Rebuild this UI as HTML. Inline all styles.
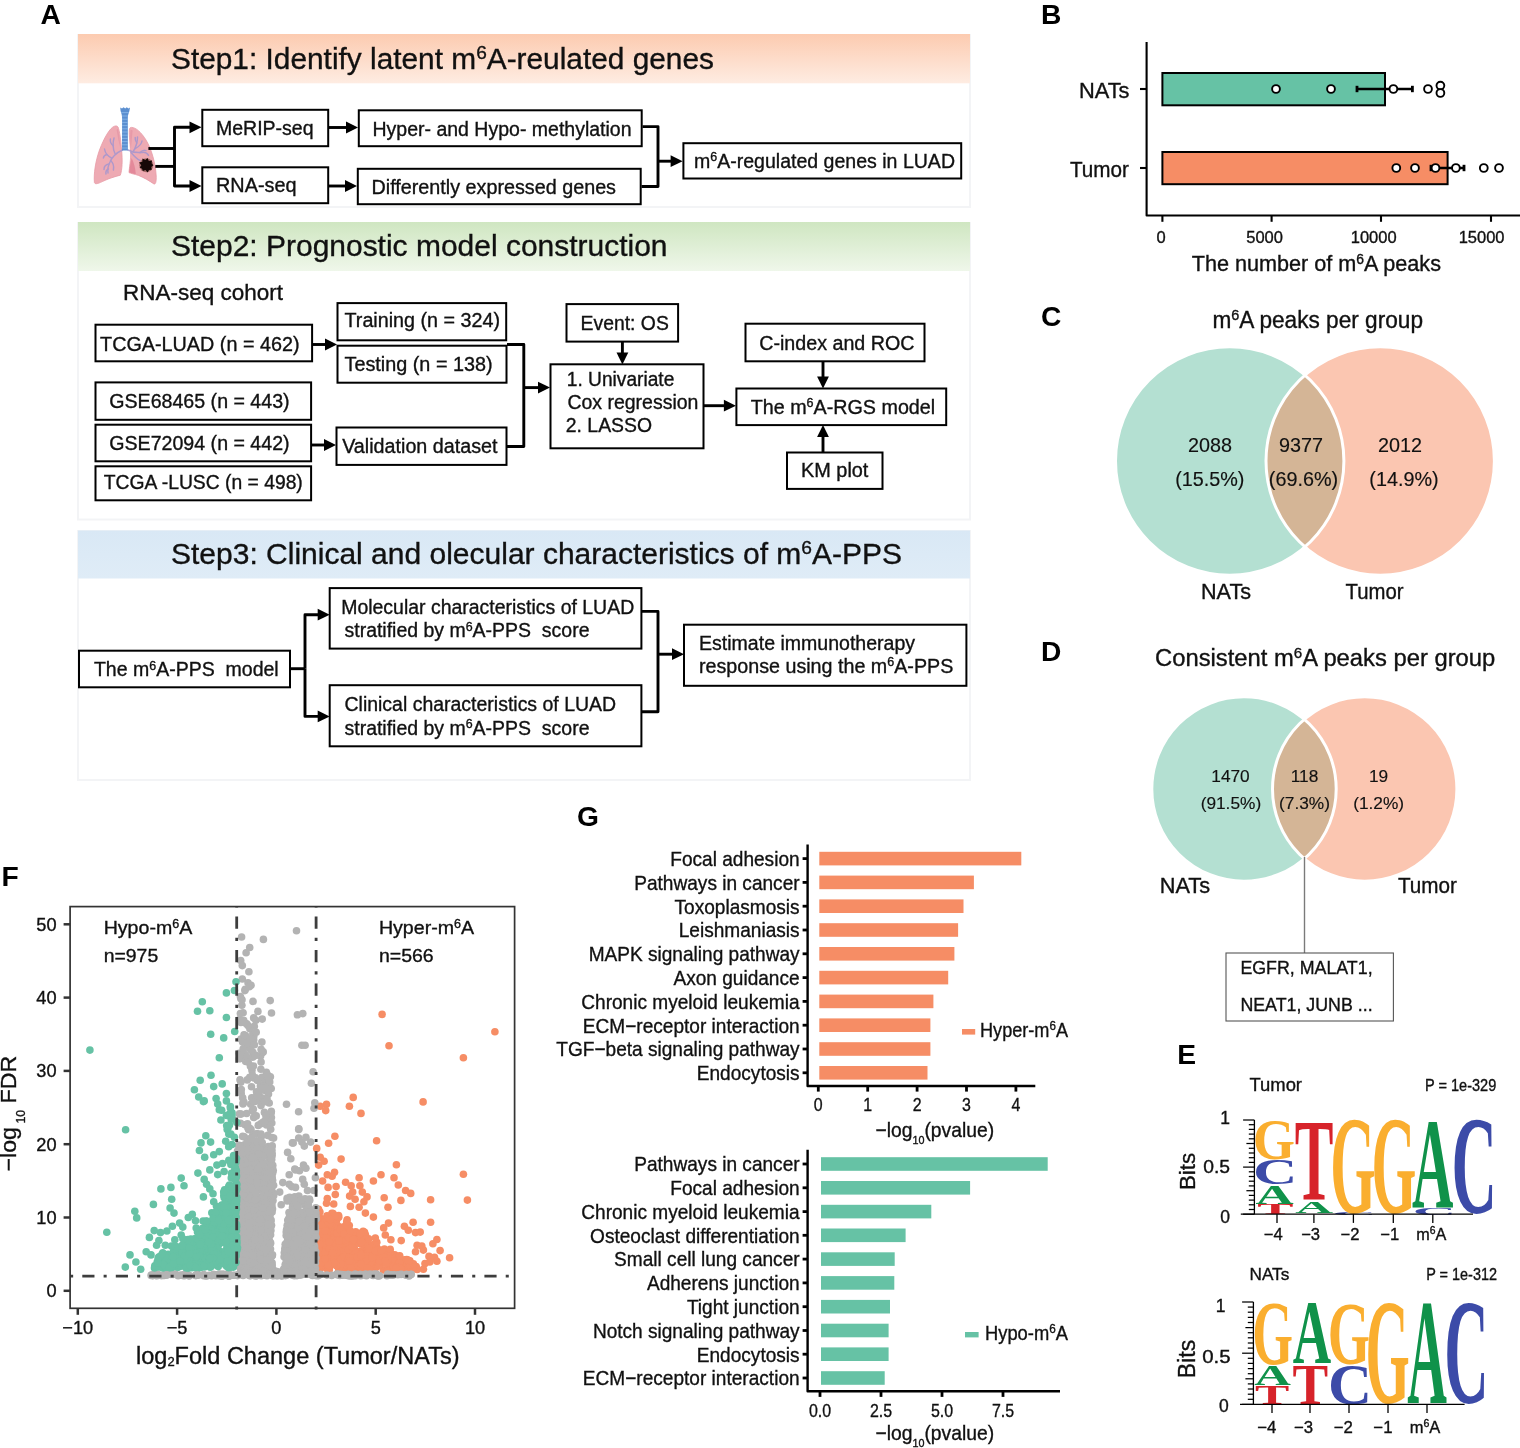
<!DOCTYPE html>
<html lang="en">
<head>
<meta charset="utf-8">
<title>m6A workflow figure</title>
<style>
html,body{margin:0;padding:0;background:#fff;}
body{width:1520px;height:1448px;overflow:hidden;}
svg{display:block;font-family:'Liberation Sans', Arial, Helvetica, sans-serif;}
</style>
</head>
<body>
<svg width="1520" height="1448" viewBox="0 0 1520 1448" fill="#111">
<defs>
<linearGradient id="g1" x1="0" y1="0" x2="0" y2="1"><stop offset="0" stop-color="#fccbb0"/><stop offset="1" stop-color="#feece2"/></linearGradient>
<linearGradient id="g2" x1="0" y1="0" x2="0" y2="1"><stop offset="0" stop-color="#cfe6c1"/><stop offset="1" stop-color="#eff7ea"/></linearGradient>
<linearGradient id="g3" x1="0" y1="0" x2="0" y2="1"><stop offset="0" stop-color="#d9e8f5"/><stop offset="1" stop-color="#dfecf7"/></linearGradient>
</defs>
<text x="40.5" y="24.3" font-size="28.2" font-weight="bold" fill="#000">A</text>
<rect x="78" y="35" width="892" height="172" fill="#fff" stroke="#f3f4f6" stroke-width="2"/>
<rect x="78" y="34" width="892" height="49.3" fill="url(#g1)"/>
<text x="171" y="69" font-size="30" stroke="#111" stroke-width="0.35" textLength="543" lengthAdjust="spacingAndGlyphs">Step1: Identify latent m<tspan font-size="19.2" dy="-10.2">6</tspan><tspan dy="10.2">A-reulated genes</tspan></text>
<rect x="78" y="223" width="892" height="296.5" fill="#fff" stroke="#f3f4f6" stroke-width="2"/>
<rect x="78" y="222" width="892" height="49" fill="url(#g2)"/>
<text x="171" y="256" font-size="30" stroke="#111" stroke-width="0.35" textLength="496.5" lengthAdjust="spacingAndGlyphs">Step2: Prognostic model construction</text>
<rect x="78" y="531" width="892" height="249" fill="#fff" stroke="#f3f4f6" stroke-width="2"/>
<rect x="78" y="530.5" width="892" height="48" fill="url(#g3)"/>
<text x="171" y="564.4" font-size="30" stroke="#111" stroke-width="0.35" textLength="731" lengthAdjust="spacingAndGlyphs">Step3: Clinical and olecular characteristics of m<tspan font-size="19.2" dy="-10.2">6</tspan><tspan dy="10.2">A-PPS</tspan></text>
<g id="lung">
<path d="M114.5 126.2 C110 127.5 104 138 99.5 150 C95.5 161 93.6 174 94.4 182.5 C95.2 185 99 183.2 104 180.8 C110 178 116.5 176.2 120.3 175.2 C122.3 170 122.6 160 121.6 150 C120.8 140 119.6 130.5 118 127 C117 125.6 115.6 125.8 114.5 126.2 Z" fill="#eeaab3" stroke="#e79aa6" stroke-width="0.8"/>
<path d="M131.6 127.4 C136 127.6 141 132 146 140 C151.5 149 155.5 163 156.2 176 C156.4 181 155.8 184.6 154 184 C150 181.2 144 177.6 138.5 175.4 C134.5 174.2 130.6 173.4 129 172.6 C129.2 168 131 160 130.6 152 C130 142 128.6 132 129.6 128.6 C130 127.6 130.8 127.3 131.6 127.4 Z" fill="#eeaab3" stroke="#e79aa6" stroke-width="0.8"/>
<path d="M131.5 158 C133.8 162 135.4 168 135.8 174 C133 173.6 130.4 172.8 129.2 172.2 C129.6 168 130.6 162.5 131.5 158 Z" fill="#e3899a"/>
<path d="M117.5 128.5 C119.2 133 120 141 120.4 148 C118.6 142 117.6 135 116.6 130 Z" fill="#e79aa8"/>
<path d="M130.6 129.5 C129.8 134 130.2 142 131 148 C131.8 141 132.2 134 132.6 130.5 Z" fill="#e79aa8"/>
<g fill="none" stroke="#a596cf" stroke-width="1.5" stroke-linecap="round" opacity="0.85"><path d="M122.5 150 C118 152 113 155 110 162 C108 166 107.5 170 108 173"/><path d="M115 153.5 C112.5 149 112.8 142 114 138"/><path d="M113.4 146 C111 144 110 141 110.4 139"/><path d="M111.5 158 C107.5 156 105 152 104.5 149"/><path d="M107 154.6 C105 155 103.6 156.6 103.4 158"/><path d="M109 164 C105.5 164.5 104 167 104 169.5"/><path d="M110.6 160.5 C113.4 163 114 167 113.4 170"/><path d="M108.4 169 C106.4 170 105.6 172 106 174"/><path d="M128 150 C132 152 137 153 142 152.4 C145 152 147.5 153.4 148.5 155.4"/><path d="M133 152 C136 147 137.5 142 137.5 137"/><path d="M135.2 148.6 C139 146.6 141.5 144.6 142 141"/><path d="M136.8 143 C135.4 141 135 139 135.2 137.6"/><path d="M131 152.5 C134 156 137 159 140 160.5"/><path d="M140 152.6 C142 150.6 144.4 150 146 150.6"/></g>
<path d="M120.2 107.4 L122 108.4 L123.6 107.2 L125.2 108.4 L126.8 107.2 L128.4 108.4 L130 107.4 L129.4 111 C128.4 113.5 127.8 116 127.8 119 L127.9 150.6 L122 150.6 L122.1 119 C122.1 116 121.6 113.5 120.6 111 Z" fill="#5b8fd0"/>
<path d="M122 116h5.9M122 119.2h5.9M122 122.4h5.9M122 125.6h5.9M122 128.8h5.9M122 132h5.9M122 135.2h5.9M122 138.4h5.9M122 141.6h5.9M122 144.8h5.9M122 148h5.9M121 112.6h8" stroke="#86b4e6" stroke-width="0.9" fill="none"/>
<circle cx="146.3" cy="165.2" r="7" fill="#6b3a30" opacity="0.55"/>
<polygon points="153.3,165.2 151.3,167.0 151.8,169.8 149.0,169.9 147.6,172.5 145.5,170.0 142.9,171.1 142.0,168.8 139.7,167.6 141.3,165.2 139.0,162.5 142.3,161.8 142.5,158.6 145.4,160.0 147.6,157.9 148.8,160.9 152.0,160.4 151.6,163.3" fill="#160807"/>
</g>
<path d="M148.4 148.5 L174.5 148.5" fill="none" stroke="#000" stroke-width="2.9" stroke-linejoin="round"/>
<path d="M155.3 166.4 L174.5 166.4" fill="none" stroke="#000" stroke-width="2.9" stroke-linejoin="round"/>
<path d="M174.5 148 L174.5 127.3 L195.5 127.3" fill="none" stroke="#000" stroke-width="2.9" stroke-linejoin="round"/>
<polygon points="201.5,127.3 189.5,121.4 189.5,133.2" fill="#000"/>
<path d="M174.5 148 L174.5 186 L195.5 186" fill="none" stroke="#000" stroke-width="2.9" stroke-linejoin="round"/>
<polygon points="201.5,186 189.5,180.1 189.5,191.9" fill="#000"/>
<rect x="202.3" y="109.8" width="125.9" height="36.4" fill="#fff" stroke="#000" stroke-width="2"/>
<rect x="202.3" y="167.3" width="125.9" height="35.9" fill="#fff" stroke="#000" stroke-width="2"/>
<rect x="358.8" y="110.3" width="282.9" height="35.9" fill="#fff" stroke="#000" stroke-width="2"/>
<rect x="357.8" y="168.8" width="282.9" height="35.4" fill="#fff" stroke="#000" stroke-width="2"/>
<rect x="683.4" y="143.2" width="277.8" height="35.3" fill="#fff" stroke="#000" stroke-width="2"/>
<text x="216" y="135" font-size="19.6" stroke="#111" stroke-width="0.35" textLength="97.5" lengthAdjust="spacingAndGlyphs">MeRIP-seq</text>
<text x="216" y="192.3" font-size="19.6" stroke="#111" stroke-width="0.35" textLength="80.5" lengthAdjust="spacingAndGlyphs">RNA-seq</text>
<text x="372.5" y="136" font-size="19.6" stroke="#111" stroke-width="0.35" textLength="259" lengthAdjust="spacingAndGlyphs">Hyper- and Hypo- methylation</text>
<text x="371.5" y="194" font-size="19.6" stroke="#111" stroke-width="0.35" textLength="244.5" lengthAdjust="spacingAndGlyphs">Differently expressed genes</text>
<text x="694" y="167.8" font-size="19.6" stroke="#111" stroke-width="0.35" textLength="261" lengthAdjust="spacingAndGlyphs">m<tspan font-size="12.5" dy="-6.7">6</tspan><tspan dy="6.7">A-regulated genes in LUAD</tspan></text>
<path d="M329 127.5 L352 127.5" fill="none" stroke="#000" stroke-width="2.9" stroke-linejoin="round"/>
<polygon points="358,127.5 346,121.6 346,133.4" fill="#000"/>
<path d="M329 186 L351 186" fill="none" stroke="#000" stroke-width="2.9" stroke-linejoin="round"/>
<polygon points="357,186 345,180.1 345,191.9" fill="#000"/>
<path d="M642.5 126.6 L658 126.6 L658 186.5 L641.5 186.5" fill="none" stroke="#000" stroke-width="2.9" stroke-linejoin="round"/>
<path d="M658 161.2 L676.6 161.2" fill="none" stroke="#000" stroke-width="2.9" stroke-linejoin="round"/>
<polygon points="682.6,161.2 670.6,155.3 670.6,167.1" fill="#000"/>
<text x="123" y="299.5" font-size="22" stroke="#111" stroke-width="0.35" textLength="160" lengthAdjust="spacingAndGlyphs">RNA-seq cohort</text>
<rect x="95.5" y="324.7" width="216.6" height="36.6" fill="#fff" stroke="#000" stroke-width="2"/>
<rect x="95.5" y="382.4" width="215.6" height="37.4" fill="#fff" stroke="#000" stroke-width="2"/>
<rect x="95.5" y="424.7" width="215.6" height="36.6" fill="#fff" stroke="#000" stroke-width="2"/>
<rect x="95.5" y="466.3" width="215.6" height="34" fill="#fff" stroke="#000" stroke-width="2"/>
<rect x="337.5" y="303.1" width="168.7" height="37.2" fill="#fff" stroke="#000" stroke-width="2"/>
<rect x="337.5" y="345.7" width="169" height="37" fill="#fff" stroke="#000" stroke-width="2"/>
<rect x="336.5" y="427.5" width="170" height="37.4" fill="#fff" stroke="#000" stroke-width="2"/>
<rect x="566.5" y="304.1" width="111.6" height="37.5" fill="#fff" stroke="#000" stroke-width="2"/>
<rect x="550.5" y="364.3" width="153" height="84" fill="#fff" stroke="#000" stroke-width="2"/>
<rect x="736.4" y="388.5" width="209.8" height="36.6" fill="#fff" stroke="#000" stroke-width="2"/>
<rect x="745.5" y="323.7" width="179" height="37.6" fill="#fff" stroke="#000" stroke-width="2"/>
<rect x="787" y="452.5" width="95.5" height="36.4" fill="#fff" stroke="#000" stroke-width="2"/>
<text x="100.1" y="350.5" font-size="19.6" stroke="#111" stroke-width="0.35" textLength="199.4" lengthAdjust="spacingAndGlyphs">TCGA-LUAD (n = 462)</text>
<text x="109.3" y="408" font-size="19.6" stroke="#111" stroke-width="0.35" textLength="180.3" lengthAdjust="spacingAndGlyphs">GSE68465 (n = 443)</text>
<text x="109.3" y="450.1" font-size="19.6" stroke="#111" stroke-width="0.35" textLength="180.3" lengthAdjust="spacingAndGlyphs">GSE72094 (n = 442)</text>
<text x="103.8" y="488.6" font-size="19.6" stroke="#111" stroke-width="0.35" textLength="199" lengthAdjust="spacingAndGlyphs">TCGA -LUSC (n = 498)</text>
<text x="344.5" y="327.4" font-size="19.6" stroke="#111" stroke-width="0.35" textLength="155.6" lengthAdjust="spacingAndGlyphs">Training (n = 324)</text>
<text x="344.5" y="371.2" font-size="19.6" stroke="#111" stroke-width="0.35" textLength="148.1" lengthAdjust="spacingAndGlyphs">Testing (n = 138)</text>
<text x="342.2" y="453.1" font-size="19.6" stroke="#111" stroke-width="0.35" textLength="155.3" lengthAdjust="spacingAndGlyphs">Validation dataset</text>
<text x="580.6" y="330" font-size="19.6" stroke="#111" stroke-width="0.35" textLength="88.2" lengthAdjust="spacingAndGlyphs">Event: OS</text>
<text x="566.8" y="386" font-size="19.6" stroke="#111" stroke-width="0.35" textLength="107.5" lengthAdjust="spacingAndGlyphs">1. Univariate</text>
<text x="567.4" y="408.7" font-size="19.6" stroke="#111" stroke-width="0.35" textLength="131" lengthAdjust="spacingAndGlyphs">Cox regression</text>
<text x="565.8" y="432" font-size="19.6" stroke="#111" stroke-width="0.35" textLength="86.2" lengthAdjust="spacingAndGlyphs">2. LASSO</text>
<text x="750.7" y="413.6" font-size="19.6" stroke="#111" stroke-width="0.35" textLength="184.5" lengthAdjust="spacingAndGlyphs">The m<tspan font-size="12.5" dy="-6.7">6</tspan><tspan dy="6.7">A-RGS model</tspan></text>
<text x="759.2" y="349.8" font-size="19.6" stroke="#111" stroke-width="0.35" textLength="155.3" lengthAdjust="spacingAndGlyphs">C-index and ROC</text>
<text x="801" y="477.1" font-size="19.6" stroke="#111" stroke-width="0.35" textLength="67.4" lengthAdjust="spacingAndGlyphs">KM plot</text>
<path d="M312.6 344.5 L331 344.5" fill="none" stroke="#000" stroke-width="2.9" stroke-linejoin="round"/>
<polygon points="337,344.5 325,338.6 325,350.4" fill="#000"/>
<path d="M311.6 445 L330 445" fill="none" stroke="#000" stroke-width="2.9" stroke-linejoin="round"/>
<polygon points="336,445 324,439.1 324,450.9" fill="#000"/>
<path d="M507 344.5 L523.8 344.5 L523.8 446.5 L507 446.5" fill="none" stroke="#000" stroke-width="2.9" stroke-linejoin="round"/>
<path d="M523.8 387.6 L544 387.6" fill="none" stroke="#000" stroke-width="2.9" stroke-linejoin="round"/>
<polygon points="550,387.6 538,381.7 538,393.5" fill="#000"/>
<path d="M622.4 341.3 L622.4 358.6" fill="none" stroke="#000" stroke-width="2.9" stroke-linejoin="round"/>
<polygon points="622.4,364.6 616.5,352.6 628.3,352.6" fill="#000"/>
<path d="M704 405.7 L729.9 405.7" fill="none" stroke="#000" stroke-width="2.9" stroke-linejoin="round"/>
<polygon points="735.9,405.7 723.9,399.8 723.9,411.6" fill="#000"/>
<path d="M823 361 L823 382.6" fill="none" stroke="#000" stroke-width="2.9" stroke-linejoin="round"/>
<polygon points="823,388.6 817.1,376.6 828.9,376.6" fill="#000"/>
<path d="M823 452.8 L823 431" fill="none" stroke="#000" stroke-width="2.9" stroke-linejoin="round"/>
<polygon points="823,425 817.1,437 828.9,437" fill="#000"/>
<rect x="79" y="650.7" width="211" height="36.6" fill="#fff" stroke="#000" stroke-width="2"/>
<rect x="329.7" y="588.1" width="311.7" height="60.5" fill="#fff" stroke="#000" stroke-width="2"/>
<rect x="329.7" y="685.2" width="311.7" height="61.1" fill="#fff" stroke="#000" stroke-width="2"/>
<rect x="684" y="624.7" width="282.4" height="61.1" fill="#fff" stroke="#000" stroke-width="2"/>
<text x="93.9" y="676.2" font-size="19.6" stroke="#111" stroke-width="0.35" textLength="184.8" lengthAdjust="spacingAndGlyphs">The m<tspan font-size="12.5" dy="-6.7">6</tspan><tspan dy="6.7">A-PPS  model</tspan></text>
<text x="341.2" y="614.4" font-size="19.6" stroke="#111" stroke-width="0.35" textLength="293" lengthAdjust="spacingAndGlyphs">Molecular characteristics of LUAD</text>
<text x="344.5" y="637.4" font-size="19.6" stroke="#111" stroke-width="0.35" textLength="245" lengthAdjust="spacingAndGlyphs">stratified by m<tspan font-size="12.5" dy="-6.7">6</tspan><tspan dy="6.7">A-PPS  score</tspan></text>
<text x="344.5" y="711.4" font-size="19.6" stroke="#111" stroke-width="0.35" textLength="271.6" lengthAdjust="spacingAndGlyphs">Clinical characteristics of LUAD</text>
<text x="344.5" y="734.5" font-size="19.6" stroke="#111" stroke-width="0.35" textLength="245" lengthAdjust="spacingAndGlyphs">stratified by m<tspan font-size="12.5" dy="-6.7">6</tspan><tspan dy="6.7">A-PPS  score</tspan></text>
<text x="699" y="650" font-size="19.6" stroke="#111" stroke-width="0.35" textLength="216.1" lengthAdjust="spacingAndGlyphs">Estimate immunotherapy</text>
<text x="699" y="673" font-size="19.6" stroke="#111" stroke-width="0.35" textLength="254.3" lengthAdjust="spacingAndGlyphs">response using the m<tspan font-size="12.5" dy="-6.7">6</tspan><tspan dy="6.7">A-PPS</tspan></text>
<path d="M290 668.7 L305 668.7" fill="none" stroke="#000" stroke-width="2.9" stroke-linejoin="round"/>
<path d="M305 668.7 L305 614.7 L323.7 614.7" fill="none" stroke="#000" stroke-width="2.9" stroke-linejoin="round"/>
<polygon points="329.7,614.7 317.7,608.8 317.7,620.6" fill="#000"/>
<path d="M305 668.7 L305 716.4 L323.7 716.4" fill="none" stroke="#000" stroke-width="2.9" stroke-linejoin="round"/>
<polygon points="329.7,716.4 317.7,710.5 317.7,722.3" fill="#000"/>
<path d="M641.4 611.4 L658 611.4 L658 711.8 L641.4 711.8" fill="none" stroke="#000" stroke-width="2.9" stroke-linejoin="round"/>
<path d="M658 654.2 L678 654.2" fill="none" stroke="#000" stroke-width="2.9" stroke-linejoin="round"/>
<polygon points="684,654.2 672,648.3 672,660.1" fill="#000"/>
<text x="1041" y="23.7" font-size="28.2" font-weight="bold" fill="#000">B</text>
<rect x="1162.4" y="73" width="222.6" height="32.3" fill="#66c2a5" stroke="#000" stroke-width="2"/>
<rect x="1162.4" y="152" width="285.2" height="32.2" fill="#f68d65" stroke="#000" stroke-width="2"/>
<path d="M1357 89 L1412.4 89" fill="none" stroke="#000" stroke-width="2.4" stroke-linejoin="round"/>
<path d="M1357 85.8 L1357 92.2" fill="none" stroke="#000" stroke-width="2.8" stroke-linejoin="round"/>
<path d="M1412.4 85.8 L1412.4 92.2" fill="none" stroke="#000" stroke-width="2.8" stroke-linejoin="round"/>
<path d="M1431 168 L1464 168" fill="none" stroke="#000" stroke-width="2.4" stroke-linejoin="round"/>
<path d="M1431 164.8 L1431 171.2" fill="none" stroke="#000" stroke-width="2.8" stroke-linejoin="round"/>
<path d="M1464 164.8 L1464 171.2" fill="none" stroke="#000" stroke-width="2.8" stroke-linejoin="round"/>
<g fill="#fff" stroke="#000" stroke-width="1.9">
<circle cx="1276" cy="89" r="3.9"/>
<circle cx="1331" cy="89" r="3.9"/>
<circle cx="1393.4" cy="89" r="3.9"/>
<circle cx="1428" cy="89" r="3.9"/>
<circle cx="1440.4" cy="85.6" r="3.9"/>
<circle cx="1440.4" cy="93" r="3.9"/>
<circle cx="1396.3" cy="168" r="3.9"/>
<circle cx="1415" cy="168" r="3.9"/>
<circle cx="1435.5" cy="168" r="3.9"/>
<circle cx="1455.9" cy="168" r="3.9"/>
<circle cx="1483.8" cy="168" r="3.9"/>
<circle cx="1499" cy="168" r="3.9"/>
</g>
<path d="M1146.6 42 L1146.6 215.5 L1520 215.5" fill="none" stroke="#000" stroke-width="2.1" stroke-linejoin="round"/>
<path d="M1140 89 L1146.6 89" fill="none" stroke="#000" stroke-width="2.1" stroke-linejoin="round"/>
<path d="M1140 168 L1146.6 168" fill="none" stroke="#000" stroke-width="2.1" stroke-linejoin="round"/>
<path d="M1162.4 215.5 L1162.4 221.8" fill="none" stroke="#000" stroke-width="2.1" stroke-linejoin="round"/>
<path d="M1271.6 215.5 L1271.6 221.8" fill="none" stroke="#000" stroke-width="2.1" stroke-linejoin="round"/>
<path d="M1381 215.5 L1381 221.8" fill="none" stroke="#000" stroke-width="2.1" stroke-linejoin="round"/>
<path d="M1491 215.5 L1491 221.8" fill="none" stroke="#000" stroke-width="2.1" stroke-linejoin="round"/>
<text x="1079" y="98" font-size="21.5" stroke="#111" stroke-width="0.35" textLength="50.5" lengthAdjust="spacingAndGlyphs">NATs</text>
<text x="1070" y="177" font-size="21.5" stroke="#111" stroke-width="0.35" textLength="59" lengthAdjust="spacingAndGlyphs">Tumor</text>
<text x="1161" y="243.4" font-size="16.5" text-anchor="middle" stroke="#111" stroke-width="0.35">0</text>
<text x="1264.6" y="243.4" font-size="16.5" text-anchor="middle" stroke="#111" stroke-width="0.35">5000</text>
<text x="1373.7" y="243.4" font-size="16.5" text-anchor="middle" stroke="#111" stroke-width="0.35">10000</text>
<text x="1481.6" y="243.4" font-size="16.5" text-anchor="middle" stroke="#111" stroke-width="0.35">15000</text>
<text x="1191.7" y="271.4" font-size="21.5" stroke="#111" stroke-width="0.35" textLength="249.3" lengthAdjust="spacingAndGlyphs">The number of m<tspan font-size="13.8" dy="-7.3">6</tspan><tspan dy="7.3">A peaks</tspan></text>
<text x="1041" y="325.5" font-size="28.2" font-weight="bold" fill="#000">C</text>
<text x="1212.4" y="328.2" font-size="23" stroke="#111" stroke-width="0.35" textLength="210.6" lengthAdjust="spacingAndGlyphs">m<tspan font-size="14.7" dy="-7.8">6</tspan><tspan dy="7.8">A peaks per group</tspan></text>
<clipPath id="cpC"><circle cx="1229.7" cy="461" r="114.2"/></clipPath>
<circle cx="1229.7" cy="461" r="114.2" fill="#b4e0d2"/>
<circle cx="1380.2" cy="461" r="114.2" fill="#fbc6b1"/>
<circle cx="1380.2" cy="461" r="114.2" fill="#d4b596" clip-path="url(#cpC)"/>
<circle cx="1229.7" cy="461" r="114.2" fill="none" stroke="#fff" stroke-width="3"/>
<circle cx="1380.2" cy="461" r="114.2" fill="none" stroke="#fff" stroke-width="3"/>
<text x="1210" y="451.8" font-size="19.8" text-anchor="middle" stroke="#111" stroke-width="0.15">2088</text>
<text x="1209.8" y="485.7" font-size="19.8" text-anchor="middle" stroke="#111" stroke-width="0.15">(15.5%)</text>
<text x="1301" y="451.8" font-size="19.8" text-anchor="middle" stroke="#111" stroke-width="0.15">9377</text>
<text x="1303.5" y="485.7" font-size="19.8" text-anchor="middle" stroke="#111" stroke-width="0.15">(69.6%)</text>
<text x="1400" y="451.8" font-size="19.8" text-anchor="middle" stroke="#111" stroke-width="0.15">2012</text>
<text x="1404" y="485.7" font-size="19.8" text-anchor="middle" stroke="#111" stroke-width="0.15">(14.9%)</text>
<text x="1201" y="599" font-size="21.5" stroke="#111" stroke-width="0.35" textLength="50" lengthAdjust="spacingAndGlyphs">NATs</text>
<text x="1345.6" y="599" font-size="21.5" stroke="#111" stroke-width="0.35" textLength="58" lengthAdjust="spacingAndGlyphs">Tumor</text>
<text x="1041" y="661" font-size="28.2" font-weight="bold" fill="#000">D</text>
<text x="1155" y="665.6" font-size="23.5" stroke="#111" stroke-width="0.35" textLength="340.3" lengthAdjust="spacingAndGlyphs">Consistent m<tspan font-size="15" dy="-8">6</tspan><tspan dy="8">A peaks per group</tspan></text>
<clipPath id="cpD"><circle cx="1244" cy="789" r="92.2"/></clipPath>
<circle cx="1244" cy="789" r="92.2" fill="#b4e0d2"/>
<circle cx="1364.7" cy="789" r="92.2" fill="#fbc6b1"/>
<circle cx="1364.7" cy="789" r="92.2" fill="#d4b596" clip-path="url(#cpD)"/>
<circle cx="1244" cy="789" r="92.2" fill="none" stroke="#fff" stroke-width="3"/>
<circle cx="1364.7" cy="789" r="92.2" fill="none" stroke="#fff" stroke-width="3"/>
<path d="M1304.5 857 L1304.5 953" fill="none" stroke="#7a7a7a" stroke-width="1.4" stroke-linejoin="round"/>
<rect x="1226" y="953" width="167.4" height="68" fill="#fff" stroke="#555" stroke-width="1.1"/>
<text x="1230.5" y="782" font-size="17.3" text-anchor="middle" stroke="#111" stroke-width="0.15">1470</text>
<text x="1230.9" y="809" font-size="17.3" text-anchor="middle" stroke="#111" stroke-width="0.15">(91.5%)</text>
<text x="1304.5" y="782" font-size="17.3" text-anchor="middle" stroke="#111" stroke-width="0.15">118</text>
<text x="1304.5" y="809" font-size="17.3" text-anchor="middle" stroke="#111" stroke-width="0.15">(7.3%)</text>
<text x="1378.6" y="782" font-size="17.3" text-anchor="middle" stroke="#111" stroke-width="0.15">19</text>
<text x="1378.6" y="809" font-size="17.3" text-anchor="middle" stroke="#111" stroke-width="0.15">(1.2%)</text>
<text x="1159.8" y="893" font-size="21.5" stroke="#111" stroke-width="0.35" textLength="50.3" lengthAdjust="spacingAndGlyphs">NATs</text>
<text x="1398" y="893" font-size="21.5" stroke="#111" stroke-width="0.35" textLength="59" lengthAdjust="spacingAndGlyphs">Tumor</text>
<text x="1240.4" y="973.6" font-size="17.5" stroke="#111" stroke-width="0.35" textLength="132.2" lengthAdjust="spacingAndGlyphs">EGFR, MALAT1,</text>
<text x="1240.4" y="1010.8" font-size="17.5" stroke="#111" stroke-width="0.35" textLength="132.2" lengthAdjust="spacingAndGlyphs">NEAT1, JUNB ...</text>
<text x="1177.2" y="1063.8" font-size="28.2" font-weight="bold" fill="#000">E</text>
<text x="1249.5" y="1090.6" font-size="18" stroke="#111" stroke-width="0.35" textLength="52.5" lengthAdjust="spacingAndGlyphs">Tumor</text>
<text x="1425" y="1090.6" font-size="16.5" stroke="#111" stroke-width="0.35" textLength="71.3" lengthAdjust="spacingAndGlyphs">P = 1e-329</text>
<text transform="matrix(0.5435 0 0 0.5655 1252.64 1158.73)" font-family="'Liberation Serif', 'Times New Roman', serif" font-weight="bold" font-size="100" fill="#faae2f">G</text>
<text transform="matrix(0.6147 0 0 0.3646 1253.09 1184.04)" font-family="'Liberation Serif', 'Times New Roman', serif" font-weight="bold" font-size="100" fill="#3c4ba8">C</text>
<text transform="matrix(0.5291 0 0 0.2758 1255.57 1204.10)" font-family="'Liberation Serif', 'Times New Roman', serif" font-weight="bold" font-size="100" fill="#10924a">A</text>
<text transform="matrix(0.5440 0 0 0.1542 1257.33 1214.20)" font-family="'Liberation Serif', 'Times New Roman', serif" font-weight="bold" font-size="100" fill="#d7232a">T</text>
<text transform="matrix(0.5802 0 0 1.1679 1294.77 1198.90)" font-family="'Liberation Serif', 'Times New Roman', serif" font-weight="bold" font-size="100" fill="#d7232a">T</text>
<text transform="matrix(0.5234 0 0 0.1742 1295.18 1213.30)" font-family="'Liberation Serif', 'Times New Roman', serif" font-weight="bold" font-size="100" fill="#10924a">A</text>
<text transform="matrix(0.6198 0 0 0.0417 1331.96 1214.56)" font-family="'Liberation Serif', 'Times New Roman', serif" font-weight="bold" font-size="100" fill="#3c4ba8">C</text>
<text transform="matrix(0.5849 0 0 1.3914 1330.33 1213.41)" font-family="'Liberation Serif', 'Times New Roman', serif" font-weight="bold" font-size="100" fill="#faae2f">G</text>
<text transform="matrix(0.5763 0 0 1.3914 1371.38 1213.41)" font-family="'Liberation Serif', 'Times New Roman', serif" font-weight="bold" font-size="100" fill="#faae2f">G</text>
<text transform="matrix(0.5730 0 0 1.3000 1412.03 1206.70)" font-family="'Liberation Serif', 'Times New Roman', serif" font-weight="bold" font-size="100" fill="#10924a">A</text>
<text transform="matrix(0.6047 0 0 0.0952 1412.54 1214.70)" font-family="'Liberation Serif', 'Times New Roman', serif" font-weight="bold" font-size="100" fill="#3c4ba8">C</text>
<text transform="matrix(0.6281 0 0 1.3914 1451.42 1213.41)" font-family="'Liberation Serif', 'Times New Roman', serif" font-weight="bold" font-size="100" fill="#3c4ba8">C</text>
<path d="M1254.4 1120 L1254.4 1214.2" fill="none" stroke="#000" stroke-width="1.3" stroke-linejoin="round"/>
<path d="M1240.8 1214.2 L1473 1214.2" fill="none" stroke="#000" stroke-width="1.3" stroke-linejoin="round"/>
<path d="M1243.1 1214.2 L1254.4 1214.2" fill="none" stroke="#000" stroke-width="1.25" stroke-linejoin="round"/>
<path d="M1248.8 1209.5 L1254.4 1209.5" fill="none" stroke="#000" stroke-width="1.25" stroke-linejoin="round"/>
<path d="M1248.8 1204.8 L1254.4 1204.8" fill="none" stroke="#000" stroke-width="1.25" stroke-linejoin="round"/>
<path d="M1248.8 1200.1 L1254.4 1200.1" fill="none" stroke="#000" stroke-width="1.25" stroke-linejoin="round"/>
<path d="M1248.8 1195.4 L1254.4 1195.4" fill="none" stroke="#000" stroke-width="1.25" stroke-linejoin="round"/>
<path d="M1246.4 1190.7 L1254.4 1190.7" fill="none" stroke="#000" stroke-width="1.25" stroke-linejoin="round"/>
<path d="M1248.8 1185.9 L1254.4 1185.9" fill="none" stroke="#000" stroke-width="1.25" stroke-linejoin="round"/>
<path d="M1248.8 1181.2 L1254.4 1181.2" fill="none" stroke="#000" stroke-width="1.25" stroke-linejoin="round"/>
<path d="M1248.8 1176.5 L1254.4 1176.5" fill="none" stroke="#000" stroke-width="1.25" stroke-linejoin="round"/>
<path d="M1248.8 1171.8 L1254.4 1171.8" fill="none" stroke="#000" stroke-width="1.25" stroke-linejoin="round"/>
<path d="M1243.1 1167.1 L1254.4 1167.1" fill="none" stroke="#000" stroke-width="1.25" stroke-linejoin="round"/>
<path d="M1248.8 1162.4 L1254.4 1162.4" fill="none" stroke="#000" stroke-width="1.25" stroke-linejoin="round"/>
<path d="M1248.8 1157.7 L1254.4 1157.7" fill="none" stroke="#000" stroke-width="1.25" stroke-linejoin="round"/>
<path d="M1248.8 1153 L1254.4 1153" fill="none" stroke="#000" stroke-width="1.25" stroke-linejoin="round"/>
<path d="M1248.8 1148.3 L1254.4 1148.3" fill="none" stroke="#000" stroke-width="1.25" stroke-linejoin="round"/>
<path d="M1246.4 1143.5 L1254.4 1143.5" fill="none" stroke="#000" stroke-width="1.25" stroke-linejoin="round"/>
<path d="M1248.8 1138.8 L1254.4 1138.8" fill="none" stroke="#000" stroke-width="1.25" stroke-linejoin="round"/>
<path d="M1248.8 1134.1 L1254.4 1134.1" fill="none" stroke="#000" stroke-width="1.25" stroke-linejoin="round"/>
<path d="M1248.8 1129.4 L1254.4 1129.4" fill="none" stroke="#000" stroke-width="1.25" stroke-linejoin="round"/>
<path d="M1248.8 1124.7 L1254.4 1124.7" fill="none" stroke="#000" stroke-width="1.25" stroke-linejoin="round"/>
<path d="M1243.1 1120 L1254.4 1120" fill="none" stroke="#000" stroke-width="1.25" stroke-linejoin="round"/>
<path d="M1277 1214.2 L1277 1222.9" fill="none" stroke="#000" stroke-width="1.3" stroke-linejoin="round"/>
<path d="M1313.9 1214.2 L1313.9 1222.9" fill="none" stroke="#000" stroke-width="1.3" stroke-linejoin="round"/>
<path d="M1353.4 1214.2 L1353.4 1222.9" fill="none" stroke="#000" stroke-width="1.3" stroke-linejoin="round"/>
<path d="M1393.3 1214.2 L1393.3 1222.9" fill="none" stroke="#000" stroke-width="1.3" stroke-linejoin="round"/>
<path d="M1432.8 1214.2 L1432.8 1222.9" fill="none" stroke="#000" stroke-width="1.3" stroke-linejoin="round"/>
<text x="1230.1" y="1123.8" font-size="17.5" text-anchor="end" stroke="#111" stroke-width="0.35">1</text>
<text x="1203.3" y="1172.9" font-size="17.5" stroke="#111" stroke-width="0.35" textLength="26.8" lengthAdjust="spacingAndGlyphs">0.5</text>
<text x="1230.1" y="1222.8" font-size="17.5" text-anchor="end" stroke="#111" stroke-width="0.35">0</text>
<text transform="translate(1195.2 1171.5) rotate(-90)" font-size="22.3" text-anchor="middle" stroke="#111" stroke-width="0.35">Bits</text>
<text x="1273.2" y="1239.5" font-size="16.6" text-anchor="middle" stroke="#111" stroke-width="0.35">−4</text>
<text x="1310.6" y="1239.5" font-size="16.6" text-anchor="middle" stroke="#111" stroke-width="0.35">−3</text>
<text x="1350" y="1239.5" font-size="16.6" text-anchor="middle" stroke="#111" stroke-width="0.35">−2</text>
<text x="1389.8" y="1239.5" font-size="16.6" text-anchor="middle" stroke="#111" stroke-width="0.35">−1</text>
<text x="1431.2" y="1239.5" font-size="16.2" text-anchor="middle" stroke="#111" stroke-width="0.35">m<tspan font-size="10.4" dy="-5.5">6</tspan><tspan dy="5.5">A</tspan></text>
<text x="1249.5" y="1279.7" font-size="17" stroke="#111" stroke-width="0.35" textLength="39.8" lengthAdjust="spacingAndGlyphs">NATs</text>
<text x="1426.2" y="1279.7" font-size="16.5" stroke="#111" stroke-width="0.35" textLength="70.8" lengthAdjust="spacingAndGlyphs">P = 1e-312</text>
<text transform="matrix(0.5235 0 0 0.9107 1252.13 1363.99)" font-family="'Liberation Serif', 'Times New Roman', serif" font-weight="bold" font-size="100" fill="#faae2f">G</text>
<text transform="matrix(0.5078 0 0 0.2848 1254.19 1385.10)" font-family="'Liberation Serif', 'Times New Roman', serif" font-weight="bold" font-size="100" fill="#10924a">A</text>
<text transform="matrix(0.5142 0 0 0.2733 1254.98 1404.40)" font-family="'Liberation Serif', 'Times New Roman', serif" font-weight="bold" font-size="100" fill="#d7232a">T</text>
<text transform="matrix(0.5319 0 0 0.9045 1292.87 1363.40)" font-family="'Liberation Serif', 'Times New Roman', serif" font-weight="bold" font-size="100" fill="#10924a">A</text>
<text transform="matrix(0.5346 0 0 0.5679 1292.54 1404.40)" font-family="'Liberation Serif', 'Times New Roman', serif" font-weight="bold" font-size="100" fill="#d7232a">T</text>
<text transform="matrix(0.5435 0 0 0.8884 1327.64 1362.51)" font-family="'Liberation Serif', 'Times New Roman', serif" font-weight="bold" font-size="100" fill="#faae2f">G</text>
<text transform="matrix(0.6097 0 0 0.5670 1327.91 1403.83)" font-family="'Liberation Serif', 'Times New Roman', serif" font-weight="bold" font-size="100" fill="#3c4ba8">C</text>
<text transform="matrix(0.5692 0 0 1.5045 1365.61 1403.30)" font-family="'Liberation Serif', 'Times New Roman', serif" font-weight="bold" font-size="100" fill="#faae2f">G</text>
<text transform="matrix(0.5489 0 0 1.4985 1407.15 1402.60)" font-family="'Liberation Serif', 'Times New Roman', serif" font-weight="bold" font-size="100" fill="#10924a">A</text>
<text transform="matrix(0.6147 0 0 1.5045 1444.19 1403.30)" font-family="'Liberation Serif', 'Times New Roman', serif" font-weight="bold" font-size="100" fill="#3c4ba8">C</text>
<path d="M1253.4 1302 L1253.4 1404.4" fill="none" stroke="#000" stroke-width="1.3" stroke-linejoin="round"/>
<path d="M1240 1404.4 L1464.6 1404.4" fill="none" stroke="#000" stroke-width="1.3" stroke-linejoin="round"/>
<path d="M1242.1 1404.4 L1253.4 1404.4" fill="none" stroke="#000" stroke-width="1.25" stroke-linejoin="round"/>
<path d="M1247.8 1399.3 L1253.4 1399.3" fill="none" stroke="#000" stroke-width="1.25" stroke-linejoin="round"/>
<path d="M1247.8 1394.2 L1253.4 1394.2" fill="none" stroke="#000" stroke-width="1.25" stroke-linejoin="round"/>
<path d="M1247.8 1389 L1253.4 1389" fill="none" stroke="#000" stroke-width="1.25" stroke-linejoin="round"/>
<path d="M1247.8 1383.9 L1253.4 1383.9" fill="none" stroke="#000" stroke-width="1.25" stroke-linejoin="round"/>
<path d="M1245.4 1378.8 L1253.4 1378.8" fill="none" stroke="#000" stroke-width="1.25" stroke-linejoin="round"/>
<path d="M1247.8 1373.7 L1253.4 1373.7" fill="none" stroke="#000" stroke-width="1.25" stroke-linejoin="round"/>
<path d="M1247.8 1368.6 L1253.4 1368.6" fill="none" stroke="#000" stroke-width="1.25" stroke-linejoin="round"/>
<path d="M1247.8 1363.4 L1253.4 1363.4" fill="none" stroke="#000" stroke-width="1.25" stroke-linejoin="round"/>
<path d="M1247.8 1358.3 L1253.4 1358.3" fill="none" stroke="#000" stroke-width="1.25" stroke-linejoin="round"/>
<path d="M1242.1 1353.2 L1253.4 1353.2" fill="none" stroke="#000" stroke-width="1.25" stroke-linejoin="round"/>
<path d="M1247.8 1348.1 L1253.4 1348.1" fill="none" stroke="#000" stroke-width="1.25" stroke-linejoin="round"/>
<path d="M1247.8 1343 L1253.4 1343" fill="none" stroke="#000" stroke-width="1.25" stroke-linejoin="round"/>
<path d="M1247.8 1337.8 L1253.4 1337.8" fill="none" stroke="#000" stroke-width="1.25" stroke-linejoin="round"/>
<path d="M1247.8 1332.7 L1253.4 1332.7" fill="none" stroke="#000" stroke-width="1.25" stroke-linejoin="round"/>
<path d="M1245.4 1327.6 L1253.4 1327.6" fill="none" stroke="#000" stroke-width="1.25" stroke-linejoin="round"/>
<path d="M1247.8 1322.5 L1253.4 1322.5" fill="none" stroke="#000" stroke-width="1.25" stroke-linejoin="round"/>
<path d="M1247.8 1317.4 L1253.4 1317.4" fill="none" stroke="#000" stroke-width="1.25" stroke-linejoin="round"/>
<path d="M1247.8 1312.2 L1253.4 1312.2" fill="none" stroke="#000" stroke-width="1.25" stroke-linejoin="round"/>
<path d="M1247.8 1307.1 L1253.4 1307.1" fill="none" stroke="#000" stroke-width="1.25" stroke-linejoin="round"/>
<path d="M1242.1 1302 L1253.4 1302" fill="none" stroke="#000" stroke-width="1.25" stroke-linejoin="round"/>
<path d="M1272 1404.4 L1272 1413.1" fill="none" stroke="#000" stroke-width="1.3" stroke-linejoin="round"/>
<path d="M1310 1404.4 L1310 1413.1" fill="none" stroke="#000" stroke-width="1.3" stroke-linejoin="round"/>
<path d="M1349 1404.4 L1349 1413.1" fill="none" stroke="#000" stroke-width="1.3" stroke-linejoin="round"/>
<path d="M1388 1404.4 L1388 1413.1" fill="none" stroke="#000" stroke-width="1.3" stroke-linejoin="round"/>
<path d="M1427 1404.4 L1427 1413.1" fill="none" stroke="#000" stroke-width="1.3" stroke-linejoin="round"/>
<text x="1225.4" y="1312.2" font-size="17.5" text-anchor="end" stroke="#111" stroke-width="0.35">1</text>
<text x="1202.2" y="1362.8" font-size="17.5" stroke="#111" stroke-width="0.35" textLength="28.4" lengthAdjust="spacingAndGlyphs">0.5</text>
<text x="1228.8" y="1412.4" font-size="17.5" text-anchor="end" stroke="#111" stroke-width="0.35">0</text>
<text transform="translate(1194.6 1359) rotate(-90)" font-size="23" text-anchor="middle" stroke="#111" stroke-width="0.35">Bits</text>
<text x="1266.8" y="1432.7" font-size="16.8" text-anchor="middle" stroke="#111" stroke-width="0.35">−4</text>
<text x="1303.5" y="1432.7" font-size="16.8" text-anchor="middle" stroke="#111" stroke-width="0.35">−3</text>
<text x="1343.3" y="1432.7" font-size="16.8" text-anchor="middle" stroke="#111" stroke-width="0.35">−2</text>
<text x="1382.9" y="1432.7" font-size="16.8" text-anchor="middle" stroke="#111" stroke-width="0.35">−1</text>
<text x="1425" y="1432.7" font-size="16.5" text-anchor="middle" stroke="#111" stroke-width="0.35">m<tspan font-size="10.6" dy="-5.6">6</tspan><tspan dy="5.6">A</tspan></text>
<text x="1.5" y="885.6" font-size="28.2" font-weight="bold" fill="#000">F</text>
<rect x="70.1" y="906.6" width="444.5" height="401.7" fill="#fff"/>
<g fill="#f68d65">
<circle cx="382.1" cy="1014.4" r="3.8"/><circle cx="494.9" cy="1031.8" r="3.8"/><circle cx="389" cy="1045.8" r="3.8"/><circle cx="463.4" cy="1057.7" r="3.8"/><circle cx="423.1" cy="1101.9" r="3.8"/><circle cx="353.2" cy="1097.4" r="3.8"/><circle cx="349.4" cy="1106.2" r="3.8"/><circle cx="361" cy="1113.4" r="3.8"/><circle cx="326.5" cy="1104.3" r="3.8"/><circle cx="320.2" cy="1106.2" r="3.8"/><circle cx="325.7" cy="1110.6" r="3.8"/><circle cx="334.9" cy="1136.2" r="3.8"/><circle cx="328.6" cy="1143.2" r="3.8"/><circle cx="316.7" cy="1148.4" r="3.8"/><circle cx="376.6" cy="1140.8" r="3.8"/><circle cx="341.1" cy="1159.1" r="3.8"/><circle cx="320.2" cy="1157.2" r="3.8"/><circle cx="324.1" cy="1161.2" r="3.8"/><circle cx="318.6" cy="1165.1" r="3.8"/><circle cx="396.4" cy="1164.8" r="3.8"/><circle cx="463.4" cy="1174.2" r="3.8"/><circle cx="467.4" cy="1200.1" r="3.8"/><circle cx="381" cy="1174.7" r="3.8"/><circle cx="373.4" cy="1181" r="3.8"/><circle cx="394" cy="1177.8" r="3.8"/><circle cx="398.3" cy="1185" r="3.8"/><circle cx="405.6" cy="1190.5" r="3.8"/><circle cx="410.7" cy="1193.4" r="3.8"/><circle cx="400.9" cy="1200.4" r="3.8"/><circle cx="430.6" cy="1199.7" r="3.8"/><circle cx="384.2" cy="1197.7" r="3.8"/><circle cx="388" cy="1207.2" r="3.8"/><circle cx="359.1" cy="1177.8" r="3.8"/><circle cx="359.9" cy="1185.8" r="3.8"/><circle cx="362.3" cy="1192.1" r="3.8"/><circle cx="367" cy="1196.9" r="3.8"/><circle cx="363.9" cy="1201.7" r="3.8"/><circle cx="359.1" cy="1207.2" r="3.8"/><circle cx="365.4" cy="1213.1" r="3.8"/><circle cx="373.4" cy="1217.1" r="3.8"/><circle cx="345.6" cy="1182.3" r="3.8"/><circle cx="351.2" cy="1185.8" r="3.8"/><circle cx="352.7" cy="1192.1" r="3.8"/><circle cx="349.6" cy="1196.1" r="3.8"/><circle cx="355.1" cy="1199.3" r="3.8"/><circle cx="350.4" cy="1206.4" r="3.8"/><circle cx="334.5" cy="1172.3" r="3.8"/><circle cx="332.1" cy="1176.2" r="3.8"/><circle cx="327.3" cy="1174.7" r="3.8"/><circle cx="322.6" cy="1181" r="3.8"/><circle cx="328.1" cy="1187.4" r="3.8"/><circle cx="336.1" cy="1186.6" r="3.8"/><circle cx="335.3" cy="1194.5" r="3.8"/><circle cx="327.3" cy="1198.5" r="3.8"/><circle cx="326.5" cy="1203.3" r="3.8"/><circle cx="333.7" cy="1204" r="3.8"/><circle cx="413.1" cy="1222.3" r="3.8"/><circle cx="430.6" cy="1222.3" r="3.8"/><circle cx="404.4" cy="1226.3" r="3.8"/><circle cx="408.3" cy="1230.2" r="3.8"/><circle cx="415.5" cy="1232.6" r="3.8"/><circle cx="420.2" cy="1232.1" r="3.8"/><circle cx="388.5" cy="1223.1" r="3.8"/><circle cx="383.7" cy="1227.9" r="3.8"/><circle cx="385.3" cy="1235" r="3.8"/><circle cx="390.9" cy="1239.8" r="3.8"/><circle cx="401.2" cy="1240.6" r="3.8"/><circle cx="436.9" cy="1239.5" r="3.8"/><circle cx="432.9" cy="1243.7" r="3.8"/><circle cx="440.1" cy="1250.6" r="3.8"/><circle cx="449.6" cy="1257.7" r="3.8"/><circle cx="417.1" cy="1245.3" r="3.8"/><circle cx="421.8" cy="1246.1" r="3.8"/><circle cx="415.5" cy="1251.7" r="3.8"/><circle cx="423.4" cy="1250.1" r="3.8"/><circle cx="429" cy="1256.4" r="3.8"/><circle cx="434.5" cy="1257.2" r="3.8"/><circle cx="436.9" cy="1261.2" r="3.8"/><circle cx="425" cy="1263.6" r="3.8"/><circle cx="429.8" cy="1262" r="3.8"/><circle cx="423.4" cy="1269.2" r="3.8"/><circle cx="349.6" cy="1265.4" r="3.8"/><circle cx="341.4" cy="1250" r="3.8"/><circle cx="318.2" cy="1268.9" r="3.8"/><circle cx="360.2" cy="1251.6" r="3.8"/><circle cx="367.6" cy="1264.9" r="3.8"/><circle cx="348.8" cy="1263.2" r="3.8"/><circle cx="328.5" cy="1229.1" r="3.8"/><circle cx="337.7" cy="1234.6" r="3.8"/><circle cx="330.8" cy="1231.6" r="3.8"/><circle cx="398.3" cy="1264.6" r="3.8"/><circle cx="367.9" cy="1261.1" r="3.8"/><circle cx="337.1" cy="1237.1" r="3.8"/><circle cx="369.8" cy="1262.6" r="3.8"/><circle cx="381.9" cy="1251.7" r="3.8"/><circle cx="340.4" cy="1232.6" r="3.8"/><circle cx="326.1" cy="1256.6" r="3.8"/><circle cx="330.2" cy="1251.5" r="3.8"/><circle cx="323.5" cy="1247.1" r="3.8"/><circle cx="361" cy="1243.9" r="3.8"/><circle cx="392.2" cy="1256.1" r="3.8"/><circle cx="320.2" cy="1223.3" r="3.8"/><circle cx="366.9" cy="1256.9" r="3.8"/><circle cx="358.1" cy="1254.8" r="3.8"/><circle cx="400.7" cy="1260.4" r="3.8"/><circle cx="336.6" cy="1265.7" r="3.8"/><circle cx="349.6" cy="1237.7" r="3.8"/><circle cx="402.6" cy="1260.7" r="3.8"/><circle cx="346.8" cy="1269.3" r="3.8"/><circle cx="321.5" cy="1221" r="3.8"/><circle cx="360.3" cy="1264.5" r="3.8"/><circle cx="326.6" cy="1268.4" r="3.8"/><circle cx="317.4" cy="1242.5" r="3.8"/><circle cx="353.3" cy="1257.8" r="3.8"/><circle cx="376" cy="1267.5" r="3.8"/><circle cx="364.3" cy="1244.4" r="3.8"/><circle cx="392.2" cy="1267.6" r="3.8"/><circle cx="353.7" cy="1261.3" r="3.8"/><circle cx="317.3" cy="1263.8" r="3.8"/><circle cx="381.7" cy="1260.5" r="3.8"/><circle cx="361.9" cy="1268.6" r="3.8"/><circle cx="353" cy="1258.3" r="3.8"/><circle cx="337.5" cy="1241.4" r="3.8"/><circle cx="400.9" cy="1267.6" r="3.8"/><circle cx="345.1" cy="1242.2" r="3.8"/><circle cx="317.2" cy="1237" r="3.8"/><circle cx="346.1" cy="1259.8" r="3.8"/><circle cx="357.3" cy="1262.8" r="3.8"/><circle cx="331.5" cy="1260.1" r="3.8"/><circle cx="323.2" cy="1262.1" r="3.8"/><circle cx="333.2" cy="1242.3" r="3.8"/><circle cx="404" cy="1270.1" r="3.8"/><circle cx="322.7" cy="1254.8" r="3.8"/><circle cx="371.5" cy="1250" r="3.8"/><circle cx="318.5" cy="1263.2" r="3.8"/><circle cx="383.3" cy="1269.9" r="3.8"/><circle cx="341.9" cy="1267.8" r="3.8"/><circle cx="365.6" cy="1239.4" r="3.8"/><circle cx="352.6" cy="1258.8" r="3.8"/><circle cx="331" cy="1244.4" r="3.8"/><circle cx="371.5" cy="1267.1" r="3.8"/><circle cx="376.8" cy="1254.3" r="3.8"/><circle cx="331.8" cy="1246.1" r="3.8"/><circle cx="326.4" cy="1258" r="3.8"/><circle cx="326.6" cy="1253.8" r="3.8"/><circle cx="408.8" cy="1269" r="3.8"/><circle cx="343.7" cy="1257.2" r="3.8"/><circle cx="347.6" cy="1247.8" r="3.8"/><circle cx="361.2" cy="1251" r="3.8"/><circle cx="324.6" cy="1255" r="3.8"/><circle cx="332.2" cy="1229.4" r="3.8"/><circle cx="333.9" cy="1255.1" r="3.8"/><circle cx="319.6" cy="1269.7" r="3.8"/><circle cx="348.9" cy="1242.3" r="3.8"/><circle cx="339.1" cy="1257.4" r="3.8"/><circle cx="331.9" cy="1229.1" r="3.8"/><circle cx="356.1" cy="1241" r="3.8"/><circle cx="316.3" cy="1270.3" r="3.8"/><circle cx="330.5" cy="1236.5" r="3.8"/><circle cx="317.5" cy="1243.9" r="3.8"/><circle cx="322.3" cy="1246.9" r="3.8"/><circle cx="341.2" cy="1269.4" r="3.8"/><circle cx="327.3" cy="1260" r="3.8"/><circle cx="339" cy="1234.3" r="3.8"/><circle cx="330.9" cy="1221.7" r="3.8"/><circle cx="373.9" cy="1244.7" r="3.8"/><circle cx="336.3" cy="1231" r="3.8"/><circle cx="318" cy="1248.9" r="3.8"/><circle cx="340.2" cy="1256.4" r="3.8"/><circle cx="339.2" cy="1235" r="3.8"/><circle cx="381.9" cy="1253.4" r="3.8"/><circle cx="350.8" cy="1255.4" r="3.8"/><circle cx="373.2" cy="1260.5" r="3.8"/><circle cx="393.1" cy="1260.8" r="3.8"/><circle cx="315.8" cy="1232.8" r="3.8"/><circle cx="331.9" cy="1238.4" r="3.8"/><circle cx="333.4" cy="1232.8" r="3.8"/><circle cx="368.8" cy="1256" r="3.8"/><circle cx="332.3" cy="1243" r="3.8"/><circle cx="410.9" cy="1270" r="3.8"/><circle cx="375.2" cy="1259.8" r="3.8"/><circle cx="370" cy="1269.3" r="3.8"/><circle cx="346" cy="1270.8" r="3.8"/><circle cx="416" cy="1266.6" r="3.8"/><circle cx="336.6" cy="1228.5" r="3.8"/><circle cx="352.5" cy="1265.5" r="3.8"/><circle cx="340.6" cy="1243.2" r="3.8"/><circle cx="358.6" cy="1255" r="3.8"/><circle cx="320.3" cy="1239.1" r="3.8"/><circle cx="315.8" cy="1234.1" r="3.8"/><circle cx="357.9" cy="1267.8" r="3.8"/><circle cx="346.7" cy="1264.5" r="3.8"/><circle cx="346" cy="1243.5" r="3.8"/><circle cx="328.1" cy="1223.8" r="3.8"/><circle cx="318.3" cy="1267.8" r="3.8"/><circle cx="352.8" cy="1265.4" r="3.8"/><circle cx="364.9" cy="1269.3" r="3.8"/><circle cx="329.8" cy="1235.2" r="3.8"/><circle cx="341" cy="1256.7" r="3.8"/><circle cx="340.4" cy="1245.9" r="3.8"/><circle cx="396.9" cy="1270.8" r="3.8"/><circle cx="344.5" cy="1237.6" r="3.8"/><circle cx="333.2" cy="1228" r="3.8"/><circle cx="361.1" cy="1265.5" r="3.8"/><circle cx="321.5" cy="1241.4" r="3.8"/><circle cx="350.4" cy="1263.6" r="3.8"/><circle cx="318.1" cy="1264.4" r="3.8"/><circle cx="344.5" cy="1259" r="3.8"/><circle cx="317.2" cy="1266.1" r="3.8"/><circle cx="400.8" cy="1259.7" r="3.8"/><circle cx="350.6" cy="1253.1" r="3.8"/><circle cx="357.4" cy="1251.9" r="3.8"/><circle cx="359" cy="1243.3" r="3.8"/><circle cx="332.1" cy="1249.7" r="3.8"/><circle cx="352.2" cy="1252.2" r="3.8"/><circle cx="363.1" cy="1239.6" r="3.8"/><circle cx="346.6" cy="1260.4" r="3.8"/><circle cx="346.6" cy="1251" r="3.8"/><circle cx="321.6" cy="1265.9" r="3.8"/><circle cx="357.9" cy="1263.5" r="3.8"/><circle cx="323.1" cy="1234.8" r="3.8"/><circle cx="330.4" cy="1264.3" r="3.8"/><circle cx="355.6" cy="1242.5" r="3.8"/><circle cx="320.5" cy="1218.2" r="3.8"/><circle cx="333.3" cy="1252.5" r="3.8"/><circle cx="322.6" cy="1250.2" r="3.8"/><circle cx="397.6" cy="1263.4" r="3.8"/><circle cx="390.7" cy="1256.2" r="3.8"/><circle cx="383.7" cy="1260.8" r="3.8"/><circle cx="400.3" cy="1266" r="3.8"/><circle cx="325.1" cy="1237.8" r="3.8"/><circle cx="389.3" cy="1260" r="3.8"/><circle cx="332.6" cy="1241" r="3.8"/><circle cx="323.9" cy="1234.7" r="3.8"/><circle cx="395.3" cy="1258.2" r="3.8"/><circle cx="337.8" cy="1225.7" r="3.8"/><circle cx="336.7" cy="1238.1" r="3.8"/><circle cx="350.4" cy="1268.7" r="3.8"/><circle cx="323" cy="1245.6" r="3.8"/><circle cx="335.4" cy="1229.3" r="3.8"/><circle cx="353.7" cy="1248" r="3.8"/><circle cx="347.4" cy="1230.5" r="3.8"/><circle cx="352.1" cy="1238" r="3.8"/><circle cx="356.1" cy="1262.3" r="3.8"/><circle cx="318.4" cy="1245.7" r="3.8"/><circle cx="324.2" cy="1243.2" r="3.8"/><circle cx="323" cy="1240.3" r="3.8"/><circle cx="364.5" cy="1248" r="3.8"/><circle cx="333.8" cy="1252.1" r="3.8"/><circle cx="334.9" cy="1224.7" r="3.8"/><circle cx="374.5" cy="1246.6" r="3.8"/><circle cx="355.1" cy="1254.7" r="3.8"/><circle cx="362.3" cy="1255.2" r="3.8"/><circle cx="334.1" cy="1223.1" r="3.8"/><circle cx="405.5" cy="1270.4" r="3.8"/><circle cx="361.5" cy="1269.8" r="3.8"/><circle cx="364" cy="1239.8" r="3.8"/><circle cx="343" cy="1246.3" r="3.8"/><circle cx="355.5" cy="1263.4" r="3.8"/><circle cx="356.1" cy="1259.4" r="3.8"/><circle cx="326" cy="1218.5" r="3.8"/><circle cx="350.9" cy="1241.9" r="3.8"/><circle cx="339.3" cy="1268.6" r="3.8"/><circle cx="359.5" cy="1262.1" r="3.8"/><circle cx="343.5" cy="1243.7" r="3.8"/><circle cx="345.1" cy="1266.9" r="3.8"/><circle cx="341.7" cy="1266.8" r="3.8"/><circle cx="325.7" cy="1264.1" r="3.8"/><circle cx="359.8" cy="1257.9" r="3.8"/><circle cx="328.2" cy="1240.6" r="3.8"/><circle cx="391.8" cy="1266" r="3.8"/><circle cx="347.3" cy="1238" r="3.8"/><circle cx="388.6" cy="1253.4" r="3.8"/><circle cx="395.6" cy="1256.7" r="3.8"/><circle cx="369.6" cy="1257.1" r="3.8"/><circle cx="361.3" cy="1258.5" r="3.8"/><circle cx="371.2" cy="1255.8" r="3.8"/><circle cx="366.9" cy="1256.4" r="3.8"/><circle cx="319" cy="1260" r="3.8"/><circle cx="409.1" cy="1269.7" r="3.8"/><circle cx="353.7" cy="1238.1" r="3.8"/><circle cx="317" cy="1229.9" r="3.8"/><circle cx="392.8" cy="1270.2" r="3.8"/><circle cx="318.2" cy="1221.6" r="3.8"/><circle cx="348.5" cy="1262.4" r="3.8"/><circle cx="405.8" cy="1270.6" r="3.8"/><circle cx="341.2" cy="1247" r="3.8"/><circle cx="325.6" cy="1242.7" r="3.8"/><circle cx="368" cy="1252" r="3.8"/><circle cx="322.8" cy="1230.4" r="3.8"/><circle cx="353.1" cy="1266.2" r="3.8"/><circle cx="340.1" cy="1262.7" r="3.8"/><circle cx="338.7" cy="1257.9" r="3.8"/><circle cx="343.5" cy="1268" r="3.8"/><circle cx="321" cy="1220.4" r="3.8"/><circle cx="374.7" cy="1249" r="3.8"/><circle cx="364.1" cy="1242.3" r="3.8"/><circle cx="414.1" cy="1266.6" r="3.8"/><circle cx="405.3" cy="1260.5" r="3.8"/><circle cx="323.1" cy="1253.7" r="3.8"/><circle cx="417.2" cy="1269.4" r="3.8"/><circle cx="399.3" cy="1265.1" r="3.8"/><circle cx="378.3" cy="1264.4" r="3.8"/><circle cx="336.2" cy="1264" r="3.8"/><circle cx="348.3" cy="1243.2" r="3.8"/><circle cx="320.4" cy="1267.8" r="3.8"/><circle cx="319.7" cy="1262.9" r="3.8"/><circle cx="365.9" cy="1241.5" r="3.8"/><circle cx="338.6" cy="1227.5" r="3.8"/><circle cx="356.6" cy="1236" r="3.8"/><circle cx="416.1" cy="1266.8" r="3.8"/><circle cx="353.4" cy="1262.7" r="3.8"/><circle cx="394.8" cy="1254.7" r="3.8"/><circle cx="353.6" cy="1237" r="3.8"/><circle cx="352.5" cy="1253.2" r="3.8"/><circle cx="391" cy="1260.1" r="3.8"/><circle cx="332.3" cy="1261.8" r="3.8"/><circle cx="315.7" cy="1223.1" r="3.8"/><circle cx="377.9" cy="1253.4" r="3.8"/><circle cx="372.3" cy="1258.4" r="3.8"/><circle cx="346.9" cy="1254.3" r="3.8"/><circle cx="326.8" cy="1228.3" r="3.8"/><circle cx="341.1" cy="1243.2" r="3.8"/><circle cx="317.3" cy="1254.8" r="3.8"/><circle cx="334.1" cy="1236.5" r="3.8"/><circle cx="371.8" cy="1255.8" r="3.8"/><circle cx="319.6" cy="1225.4" r="3.8"/><circle cx="358.8" cy="1238.4" r="3.8"/><circle cx="412.7" cy="1268.1" r="3.8"/><circle cx="317.7" cy="1231" r="3.8"/><circle cx="336.1" cy="1249.4" r="3.8"/><circle cx="357.9" cy="1239" r="3.8"/><circle cx="363.4" cy="1252.9" r="3.8"/><circle cx="365.4" cy="1265.4" r="3.8"/><circle cx="334.8" cy="1251.8" r="3.8"/><circle cx="321.2" cy="1228.6" r="3.8"/><circle cx="348.1" cy="1251.5" r="3.8"/><circle cx="407" cy="1268.7" r="3.8"/><circle cx="360.6" cy="1265.2" r="3.8"/><circle cx="410.2" cy="1264.8" r="3.8"/><circle cx="337.6" cy="1264.6" r="3.8"/><circle cx="324.4" cy="1228.4" r="3.8"/><circle cx="322.7" cy="1230.2" r="3.8"/><circle cx="326.5" cy="1241.9" r="3.8"/><circle cx="360" cy="1259.5" r="3.8"/><circle cx="373.4" cy="1250" r="3.8"/><circle cx="388.8" cy="1260.4" r="3.8"/><circle cx="321" cy="1246.5" r="3.8"/><circle cx="324.4" cy="1223.1" r="3.8"/><circle cx="320.8" cy="1224" r="3.8"/><circle cx="317.7" cy="1228.5" r="3.8"/><circle cx="371.3" cy="1251.6" r="3.8"/><circle cx="347.6" cy="1259" r="3.8"/><circle cx="342.4" cy="1270" r="3.8"/><circle cx="368.1" cy="1248.6" r="3.8"/><circle cx="318" cy="1218.8" r="3.8"/><circle cx="381.9" cy="1252.4" r="3.8"/><circle cx="356.7" cy="1240" r="3.8"/><circle cx="413.3" cy="1267.2" r="3.8"/><circle cx="352" cy="1260.3" r="3.8"/><circle cx="336.6" cy="1259.4" r="3.8"/><circle cx="339.8" cy="1258.7" r="3.8"/><circle cx="350.1" cy="1234.7" r="3.8"/><circle cx="374.7" cy="1265.7" r="3.8"/><circle cx="333.9" cy="1232" r="3.8"/><circle cx="347" cy="1266.2" r="3.8"/><circle cx="340.3" cy="1253.7" r="3.8"/><circle cx="316.3" cy="1239.1" r="3.8"/><circle cx="322" cy="1251.7" r="3.8"/><circle cx="388.9" cy="1265.5" r="3.8"/><circle cx="347.3" cy="1243.1" r="3.8"/><circle cx="338.5" cy="1246.6" r="3.8"/><circle cx="366.8" cy="1250" r="3.8"/><circle cx="369.2" cy="1252.6" r="3.8"/><circle cx="337.6" cy="1266.1" r="3.8"/><circle cx="400.5" cy="1265.1" r="3.8"/><circle cx="320.3" cy="1251.9" r="3.8"/><circle cx="357.2" cy="1270.8" r="3.8"/><circle cx="395.8" cy="1268.7" r="3.8"/><circle cx="327.9" cy="1232.3" r="3.8"/><circle cx="365.2" cy="1254.3" r="3.8"/><circle cx="317.9" cy="1269.3" r="3.8"/><circle cx="395.8" cy="1261.1" r="3.8"/><circle cx="320.6" cy="1250.2" r="3.8"/><circle cx="330" cy="1228.7" r="3.8"/><circle cx="354.9" cy="1262.9" r="3.8"/><circle cx="353.5" cy="1243.5" r="3.8"/><circle cx="344" cy="1237.7" r="3.8"/><circle cx="355.3" cy="1268.7" r="3.8"/><circle cx="316.9" cy="1222.6" r="3.8"/><circle cx="360.3" cy="1253.7" r="3.8"/><circle cx="321.3" cy="1232.1" r="3.8"/><circle cx="344.1" cy="1243.2" r="3.8"/><circle cx="379.3" cy="1257.4" r="3.8"/><circle cx="325.4" cy="1227.9" r="3.8"/><circle cx="393.3" cy="1263.8" r="3.8"/><circle cx="329.6" cy="1259.1" r="3.8"/><circle cx="329" cy="1226.2" r="3.8"/><circle cx="335" cy="1237.6" r="3.8"/><circle cx="363.9" cy="1266.9" r="3.8"/><circle cx="366.2" cy="1241.8" r="3.8"/><circle cx="360.8" cy="1262" r="3.8"/><circle cx="330" cy="1225.7" r="3.8"/><circle cx="323.5" cy="1223.4" r="3.8"/><circle cx="370" cy="1255.8" r="3.8"/><circle cx="318.1" cy="1230.1" r="3.8"/><circle cx="351.9" cy="1245.9" r="3.8"/><circle cx="343.6" cy="1252" r="3.8"/><circle cx="330.6" cy="1249.3" r="3.8"/><circle cx="325.4" cy="1221.4" r="3.8"/><circle cx="329.7" cy="1266.8" r="3.8"/><circle cx="332.6" cy="1252.6" r="3.8"/><circle cx="368.1" cy="1249.7" r="3.8"/><circle cx="316" cy="1251.6" r="3.8"/><circle cx="379.3" cy="1265.7" r="3.8"/><circle cx="345.9" cy="1256" r="3.8"/><circle cx="325.6" cy="1219.6" r="3.8"/><circle cx="335.6" cy="1222.6" r="3.8"/><circle cx="323.1" cy="1238" r="3.8"/><circle cx="379.3" cy="1250" r="3.8"/><circle cx="327" cy="1244.2" r="3.8"/><circle cx="334.3" cy="1227.8" r="3.8"/><circle cx="340.9" cy="1229.4" r="3.8"/><circle cx="404.4" cy="1259.8" r="3.8"/><circle cx="331.3" cy="1253" r="3.8"/><circle cx="322.2" cy="1256.8" r="3.8"/><circle cx="328.8" cy="1259.6" r="3.8"/><circle cx="367.8" cy="1246.8" r="3.8"/><circle cx="349.7" cy="1260.4" r="3.8"/><circle cx="343.6" cy="1251.1" r="3.8"/><circle cx="315.6" cy="1268" r="3.8"/><circle cx="319.7" cy="1239.6" r="3.8"/><circle cx="357.2" cy="1243" r="3.8"/><circle cx="340.8" cy="1260.4" r="3.8"/><circle cx="326.7" cy="1244.2" r="3.8"/><circle cx="317.8" cy="1242.7" r="3.8"/><circle cx="316" cy="1243.7" r="3.8"/><circle cx="317.3" cy="1237.8" r="3.8"/><circle cx="394.4" cy="1262.1" r="3.8"/><circle cx="375.2" cy="1248.4" r="3.8"/><circle cx="329.8" cy="1242.7" r="3.8"/><circle cx="340.1" cy="1261" r="3.8"/><circle cx="355" cy="1249.7" r="3.8"/><circle cx="343.5" cy="1262.9" r="3.8"/><circle cx="341.9" cy="1257.2" r="3.8"/><circle cx="324.7" cy="1221.2" r="3.8"/><circle cx="333.6" cy="1231" r="3.8"/><circle cx="343.5" cy="1228.4" r="3.8"/><circle cx="393.8" cy="1261.5" r="3.8"/><circle cx="347.9" cy="1259.9" r="3.8"/><circle cx="371.5" cy="1260.5" r="3.8"/><circle cx="318.4" cy="1227.3" r="3.8"/><circle cx="337.1" cy="1245.5" r="3.8"/><circle cx="391.7" cy="1254.5" r="3.8"/><circle cx="333.3" cy="1253.7" r="3.8"/><circle cx="386.3" cy="1252.4" r="3.8"/><circle cx="414.1" cy="1267" r="3.8"/><circle cx="327.1" cy="1232.7" r="3.8"/><circle cx="382.1" cy="1261.6" r="3.8"/><circle cx="330.6" cy="1243.6" r="3.8"/><circle cx="331.6" cy="1263.8" r="3.8"/><circle cx="323.7" cy="1261.6" r="3.8"/><circle cx="340.2" cy="1228.9" r="3.8"/><circle cx="410.2" cy="1267.1" r="3.8"/><circle cx="360.7" cy="1237.9" r="3.8"/><circle cx="331.6" cy="1221.9" r="3.8"/><circle cx="349.1" cy="1257" r="3.8"/><circle cx="333.7" cy="1245.2" r="3.8"/><circle cx="384" cy="1258.1" r="3.8"/><circle cx="371" cy="1265" r="3.8"/><circle cx="332.4" cy="1240.6" r="3.8"/><circle cx="329.2" cy="1269.9" r="3.8"/><circle cx="356.9" cy="1266" r="3.8"/><circle cx="367.2" cy="1255.7" r="3.8"/><circle cx="337.4" cy="1259.5" r="3.8"/><circle cx="332.2" cy="1243" r="3.8"/><circle cx="339.4" cy="1235.7" r="3.8"/><circle cx="369.3" cy="1269.4" r="3.8"/><circle cx="384.1" cy="1262.3" r="3.8"/><circle cx="329.3" cy="1257.4" r="3.8"/><circle cx="394.6" cy="1264.5" r="3.8"/><circle cx="395.4" cy="1267.9" r="3.8"/><circle cx="338.7" cy="1270" r="3.8"/><circle cx="321.2" cy="1253.4" r="3.8"/><circle cx="410.2" cy="1268.2" r="3.8"/><circle cx="319.2" cy="1266.3" r="3.8"/><circle cx="392" cy="1261.4" r="3.8"/><circle cx="383.3" cy="1253.2" r="3.8"/><circle cx="344.2" cy="1240.2" r="3.8"/><circle cx="399.2" cy="1256.4" r="3.8"/><circle cx="353.6" cy="1251.7" r="3.8"/><circle cx="406.7" cy="1261.6" r="3.8"/><circle cx="323.5" cy="1226.4" r="3.8"/><circle cx="342.5" cy="1236.1" r="3.8"/><circle cx="335.5" cy="1216.8" r="3.8"/><circle cx="351" cy="1258.4" r="3.8"/><circle cx="379.5" cy="1259.3" r="3.8"/><circle cx="397.8" cy="1270.5" r="3.8"/><circle cx="319.2" cy="1251.9" r="3.8"/><circle cx="336.2" cy="1221.2" r="3.8"/><circle cx="323.7" cy="1255.2" r="3.8"/><circle cx="320.2" cy="1242.7" r="3.8"/><circle cx="334.5" cy="1255.8" r="3.8"/><circle cx="336.9" cy="1235.6" r="3.8"/><circle cx="414.2" cy="1268.4" r="3.8"/><circle cx="316.3" cy="1245.7" r="3.8"/><circle cx="344" cy="1236.7" r="3.8"/><circle cx="332.2" cy="1248.9" r="3.8"/><circle cx="350.2" cy="1267.6" r="3.8"/><circle cx="378.8" cy="1258.4" r="3.8"/><circle cx="365.6" cy="1243.6" r="3.8"/><circle cx="379.5" cy="1261" r="3.8"/><circle cx="335.2" cy="1245.6" r="3.8"/><circle cx="328.5" cy="1264.8" r="3.8"/><circle cx="320.9" cy="1246.5" r="3.8"/><circle cx="376.6" cy="1247.1" r="3.8"/><circle cx="412.6" cy="1269" r="3.8"/><circle cx="338.4" cy="1252.1" r="3.8"/><circle cx="360.8" cy="1233.4" r="3.8"/><circle cx="391.5" cy="1266.7" r="3.8"/><circle cx="368.7" cy="1238.8" r="3.8"/><circle cx="316.8" cy="1211.7" r="3.8"/><circle cx="331.9" cy="1213.2" r="3.8"/><circle cx="330.4" cy="1224.7" r="3.8"/><circle cx="333.5" cy="1226.8" r="3.8"/><circle cx="319.1" cy="1257.2" r="3.8"/><circle cx="339.3" cy="1245" r="3.8"/><circle cx="324.5" cy="1239.9" r="3.8"/><circle cx="393.4" cy="1266.2" r="3.8"/><circle cx="328.9" cy="1262.6" r="3.8"/><circle cx="322.2" cy="1252.9" r="3.8"/><circle cx="399.4" cy="1266.7" r="3.8"/><circle cx="372.5" cy="1244.9" r="3.8"/><circle cx="390.2" cy="1252.2" r="3.8"/><circle cx="384.4" cy="1249.1" r="3.8"/><circle cx="341.1" cy="1264.3" r="3.8"/><circle cx="335.6" cy="1253.2" r="3.8"/><circle cx="317.5" cy="1240.5" r="3.8"/><circle cx="336.8" cy="1265.5" r="3.8"/><circle cx="322.5" cy="1233.4" r="3.8"/><circle cx="407" cy="1265.4" r="3.8"/><circle cx="361.4" cy="1258.3" r="3.8"/><circle cx="353.8" cy="1265.5" r="3.8"/><circle cx="370.7" cy="1262.6" r="3.8"/><circle cx="326.1" cy="1238" r="3.8"/><circle cx="388" cy="1255.1" r="3.8"/><circle cx="318.6" cy="1209.2" r="3.8"/><circle cx="333.6" cy="1261.7" r="3.8"/><circle cx="363.1" cy="1231.2" r="3.8"/><circle cx="337.2" cy="1234.2" r="3.8"/><circle cx="366" cy="1259.1" r="3.8"/><circle cx="360.8" cy="1267.2" r="3.8"/><circle cx="336.9" cy="1219" r="3.8"/><circle cx="358.4" cy="1265.7" r="3.8"/><circle cx="348.5" cy="1241.4" r="3.8"/><circle cx="338.6" cy="1215.5" r="3.8"/><circle cx="349.3" cy="1235.7" r="3.8"/><circle cx="397.4" cy="1265.8" r="3.8"/><circle cx="325.2" cy="1251.7" r="3.8"/><circle cx="342.7" cy="1230.2" r="3.8"/><circle cx="325" cy="1245" r="3.8"/><circle cx="388.1" cy="1258.9" r="3.8"/><circle cx="329.1" cy="1266.2" r="3.8"/><circle cx="348.5" cy="1249.6" r="3.8"/><circle cx="365.4" cy="1260.9" r="3.8"/><circle cx="349.5" cy="1261" r="3.8"/><circle cx="409.9" cy="1260.7" r="3.8"/><circle cx="349.3" cy="1225.6" r="3.8"/><circle cx="359.7" cy="1257" r="3.8"/><circle cx="399.4" cy="1262.4" r="3.8"/><circle cx="351.1" cy="1268" r="3.8"/><circle cx="319.4" cy="1227.7" r="3.8"/><circle cx="369" cy="1248.5" r="3.8"/><circle cx="336.7" cy="1232.9" r="3.8"/><circle cx="347.1" cy="1242.2" r="3.8"/><circle cx="377.7" cy="1250.1" r="3.8"/><circle cx="316.5" cy="1262.3" r="3.8"/><circle cx="343.6" cy="1226.7" r="3.8"/><circle cx="338.9" cy="1250.6" r="3.8"/><circle cx="334" cy="1262.7" r="3.8"/><circle cx="372.2" cy="1256.2" r="3.8"/><circle cx="409.7" cy="1265.3" r="3.8"/><circle cx="378.7" cy="1251.9" r="3.8"/><circle cx="342.1" cy="1227.9" r="3.8"/><circle cx="365.5" cy="1235" r="3.8"/><circle cx="364.6" cy="1232.3" r="3.8"/><circle cx="336.7" cy="1252.1" r="3.8"/><circle cx="338.7" cy="1217.2" r="3.8"/><circle cx="339.1" cy="1241" r="3.8"/><circle cx="318.6" cy="1248.9" r="3.8"/><circle cx="347" cy="1225.2" r="3.8"/><circle cx="383.9" cy="1256.6" r="3.8"/><circle cx="329.4" cy="1248.3" r="3.8"/><circle cx="317" cy="1270.5" r="3.8"/><circle cx="337.3" cy="1232.9" r="3.8"/><circle cx="403.1" cy="1270.6" r="3.8"/><circle cx="333.1" cy="1213.6" r="3.8"/><circle cx="340.4" cy="1230" r="3.8"/><circle cx="315.5" cy="1229.9" r="3.8"/><circle cx="344" cy="1233.8" r="3.8"/><circle cx="361.4" cy="1242.5" r="3.8"/><circle cx="329" cy="1241.7" r="3.8"/><circle cx="387.2" cy="1271" r="3.8"/><circle cx="367.3" cy="1268.1" r="3.8"/><circle cx="361.2" cy="1264.1" r="3.8"/><circle cx="321.3" cy="1225.3" r="3.8"/><circle cx="325.3" cy="1231.1" r="3.8"/><circle cx="372.1" cy="1257.6" r="3.8"/><circle cx="399.7" cy="1255.8" r="3.8"/><circle cx="346.3" cy="1239.7" r="3.8"/><circle cx="334.2" cy="1249.9" r="3.8"/><circle cx="352" cy="1246.9" r="3.8"/><circle cx="384.8" cy="1261" r="3.8"/><circle cx="348.7" cy="1237.5" r="3.8"/><circle cx="319.8" cy="1244.4" r="3.8"/><circle cx="413.4" cy="1263.9" r="3.8"/><circle cx="324.2" cy="1259.6" r="3.8"/><circle cx="353" cy="1241.3" r="3.8"/><circle cx="327.9" cy="1264.4" r="3.8"/><circle cx="347.1" cy="1219.8" r="3.8"/><circle cx="402.3" cy="1270.3" r="3.8"/><circle cx="332.6" cy="1252.8" r="3.8"/><circle cx="355.7" cy="1231.9" r="3.8"/><circle cx="353.3" cy="1239.4" r="3.8"/><circle cx="321" cy="1262.7" r="3.8"/><circle cx="357.1" cy="1256.7" r="3.8"/><circle cx="331.5" cy="1224.8" r="3.8"/><circle cx="328.5" cy="1223" r="3.8"/><circle cx="408.8" cy="1261" r="3.8"/><circle cx="397.8" cy="1267.2" r="3.8"/><circle cx="406.7" cy="1259.6" r="3.8"/><circle cx="346.7" cy="1222.1" r="3.8"/><circle cx="330.3" cy="1223.5" r="3.8"/><circle cx="390.2" cy="1249.2" r="3.8"/><circle cx="335.1" cy="1216" r="3.8"/><circle cx="360.4" cy="1233.6" r="3.8"/><circle cx="319.9" cy="1212.1" r="3.8"/><circle cx="315.6" cy="1256.4" r="3.8"/><circle cx="375.4" cy="1250.9" r="3.8"/><circle cx="407.9" cy="1260" r="3.8"/><circle cx="376.8" cy="1242.3" r="3.8"/><circle cx="381.4" cy="1250.4" r="3.8"/><circle cx="400.6" cy="1268.6" r="3.8"/><circle cx="386.1" cy="1263.4" r="3.8"/><circle cx="361.1" cy="1255.4" r="3.8"/><circle cx="325" cy="1259" r="3.8"/><circle cx="327" cy="1215.8" r="3.8"/><circle cx="375.3" cy="1238" r="3.8"/><circle cx="395.8" cy="1268" r="3.8"/><circle cx="330.3" cy="1219.5" r="3.8"/><circle cx="350.4" cy="1231.1" r="3.8"/>
</g>
<g fill="#b3b3b3">
<circle cx="296.5" cy="930.8" r="3.8"/><circle cx="241.6" cy="937" r="3.8"/><circle cx="263.4" cy="939.4" r="3.8"/><circle cx="249.7" cy="947.5" r="3.8"/><circle cx="246.1" cy="952.8" r="3.8"/><circle cx="240.7" cy="960.5" r="3.8"/><circle cx="242.3" cy="965.6" r="3.8"/><circle cx="248.9" cy="971.8" r="3.8"/><circle cx="242.3" cy="979" r="3.8"/><circle cx="248" cy="982.8" r="3.8"/><circle cx="251" cy="985.2" r="3.8"/><circle cx="270.2" cy="1000.6" r="3.8"/><circle cx="271.5" cy="1013" r="3.8"/><circle cx="297.4" cy="1014.8" r="3.8"/><circle cx="302.8" cy="1013.6" r="3.8"/><circle cx="301.9" cy="1045.2" r="3.8"/><circle cx="305.1" cy="1045.2" r="3.8"/><circle cx="313.1" cy="1071.7" r="3.8"/><circle cx="311.4" cy="1083.2" r="3.8"/><circle cx="286.5" cy="1104.3" r="3.8"/><circle cx="314.8" cy="1102.8" r="3.8"/><circle cx="314" cy="1108.2" r="3.8"/><circle cx="298.6" cy="1111.8" r="3.8"/><circle cx="298.8" cy="1128.8" r="3.8"/><circle cx="298.7" cy="1129.4" r="3.8"/><circle cx="305.9" cy="1137.3" r="3.8"/><circle cx="293.2" cy="1142.9" r="3.8"/><circle cx="301.9" cy="1142.1" r="3.8"/><circle cx="310.6" cy="1142.1" r="3.8"/><circle cx="304.3" cy="1146.1" r="3.8"/><circle cx="303.5" cy="1165.1" r="3.8"/><circle cx="294.8" cy="1169.1" r="3.8"/><circle cx="299.5" cy="1170.7" r="3.8"/><circle cx="305.9" cy="1168.3" r="3.8"/><circle cx="315.4" cy="1177.8" r="3.8"/><circle cx="302.7" cy="1179.4" r="3.8"/><circle cx="304.3" cy="1184.2" r="3.8"/><circle cx="291.6" cy="1186.6" r="3.8"/><circle cx="307.5" cy="1190.5" r="3.8"/><circle cx="313.8" cy="1190.5" r="3.8"/><circle cx="292.4" cy="1142.9" r="3.8"/><circle cx="298.7" cy="1138.1" r="3.8"/><circle cx="287.6" cy="1152.4" r="3.8"/><circle cx="290.8" cy="1158.8" r="3.8"/><circle cx="295.5" cy="1169.9" r="3.8"/><circle cx="289.2" cy="1174.7" r="3.8"/><circle cx="282.8" cy="1182.6" r="3.8"/><circle cx="289.2" cy="1184.2" r="3.8"/><circle cx="295.5" cy="1187.4" r="3.8"/><circle cx="279.7" cy="1192.1" r="3.8"/><circle cx="281.2" cy="1204.8" r="3.8"/><circle cx="287.6" cy="1200.1" r="3.8"/><circle cx="294" cy="1201.7" r="3.8"/><circle cx="298.7" cy="1198.5" r="3.8"/><circle cx="240.3" cy="1182.7" r="3.8"/><circle cx="244" cy="1249.2" r="3.8"/><circle cx="259.9" cy="1154.8" r="3.8"/><circle cx="269.2" cy="1225.4" r="3.8"/><circle cx="248.4" cy="1208.1" r="3.8"/><circle cx="271.3" cy="1149.7" r="3.8"/><circle cx="246.3" cy="1154.8" r="3.8"/><circle cx="271.5" cy="1184.2" r="3.8"/><circle cx="268.5" cy="1192.1" r="3.8"/><circle cx="266.8" cy="1197.2" r="3.8"/><circle cx="253.2" cy="1204.2" r="3.8"/><circle cx="257.7" cy="1205.9" r="3.8"/><circle cx="247" cy="1155.8" r="3.8"/><circle cx="239.8" cy="1227.8" r="3.8"/><circle cx="270.1" cy="1257.4" r="3.8"/><circle cx="259.2" cy="1270.3" r="3.8"/><circle cx="258.2" cy="1223.7" r="3.8"/><circle cx="271.5" cy="1225.3" r="3.8"/><circle cx="244.7" cy="1226" r="3.8"/><circle cx="248.9" cy="1243.8" r="3.8"/><circle cx="257.3" cy="1264" r="3.8"/><circle cx="264" cy="1226.2" r="3.8"/><circle cx="242.8" cy="1270.3" r="3.8"/><circle cx="244.2" cy="1246.2" r="3.8"/><circle cx="268.9" cy="1173.5" r="3.8"/><circle cx="240.3" cy="1154.3" r="3.8"/><circle cx="244.6" cy="1166.8" r="3.8"/><circle cx="242.9" cy="1263" r="3.8"/><circle cx="239.9" cy="1184.3" r="3.8"/><circle cx="243.6" cy="1245.8" r="3.8"/><circle cx="240.2" cy="1210.4" r="3.8"/><circle cx="258.4" cy="1185.7" r="3.8"/><circle cx="248.6" cy="1249" r="3.8"/><circle cx="260.7" cy="1260.2" r="3.8"/><circle cx="237.5" cy="1151.1" r="3.8"/><circle cx="239.4" cy="1255.6" r="3.8"/><circle cx="261.9" cy="1185" r="3.8"/><circle cx="255.4" cy="1186.6" r="3.8"/><circle cx="245.6" cy="1228.5" r="3.8"/><circle cx="252.3" cy="1237.5" r="3.8"/><circle cx="253.2" cy="1251.3" r="3.8"/><circle cx="272.5" cy="1254.7" r="3.8"/><circle cx="253" cy="1265" r="3.8"/><circle cx="256.5" cy="1224.2" r="3.8"/><circle cx="239.6" cy="1259.8" r="3.8"/><circle cx="263" cy="1245" r="3.8"/><circle cx="240.6" cy="1162.5" r="3.8"/><circle cx="240.1" cy="1237.4" r="3.8"/><circle cx="268.8" cy="1226.1" r="3.8"/><circle cx="262.9" cy="1250.6" r="3.8"/><circle cx="271.5" cy="1196.1" r="3.8"/><circle cx="255.2" cy="1159.4" r="3.8"/><circle cx="254" cy="1190.1" r="3.8"/><circle cx="242.1" cy="1162" r="3.8"/><circle cx="244.9" cy="1204" r="3.8"/><circle cx="262.4" cy="1180.1" r="3.8"/><circle cx="267.3" cy="1226.9" r="3.8"/><circle cx="261.4" cy="1243.9" r="3.8"/><circle cx="249.5" cy="1268.6" r="3.8"/><circle cx="239.9" cy="1145.5" r="3.8"/><circle cx="261.1" cy="1257.8" r="3.8"/><circle cx="250.6" cy="1223.8" r="3.8"/><circle cx="269.4" cy="1201.4" r="3.8"/><circle cx="257.3" cy="1260.9" r="3.8"/><circle cx="269.7" cy="1191" r="3.8"/><circle cx="242.5" cy="1202.3" r="3.8"/><circle cx="252.1" cy="1249.9" r="3.8"/><circle cx="246.3" cy="1212.7" r="3.8"/><circle cx="265.6" cy="1271.7" r="3.8"/><circle cx="256.4" cy="1196.8" r="3.8"/><circle cx="253.7" cy="1213.7" r="3.8"/><circle cx="267.7" cy="1172.8" r="3.8"/><circle cx="244.3" cy="1151.1" r="3.8"/><circle cx="238.5" cy="1259.3" r="3.8"/><circle cx="237.6" cy="1174" r="3.8"/><circle cx="262.3" cy="1267" r="3.8"/><circle cx="241.2" cy="1207.9" r="3.8"/><circle cx="262.7" cy="1235.9" r="3.8"/><circle cx="251" cy="1211.3" r="3.8"/><circle cx="269.3" cy="1272" r="3.8"/><circle cx="255.6" cy="1239.3" r="3.8"/><circle cx="262.1" cy="1214.7" r="3.8"/><circle cx="255.1" cy="1249.2" r="3.8"/><circle cx="261.8" cy="1245.7" r="3.8"/><circle cx="260.2" cy="1152.3" r="3.8"/><circle cx="252.7" cy="1196.4" r="3.8"/><circle cx="238.8" cy="1233.1" r="3.8"/><circle cx="266.4" cy="1214.1" r="3.8"/><circle cx="263.6" cy="1187.2" r="3.8"/><circle cx="263.6" cy="1211.1" r="3.8"/><circle cx="239.1" cy="1235.8" r="3.8"/><circle cx="257.6" cy="1207.8" r="3.8"/><circle cx="249" cy="1262.9" r="3.8"/><circle cx="247.9" cy="1212.7" r="3.8"/><circle cx="240.9" cy="1163.1" r="3.8"/><circle cx="245.2" cy="1256" r="3.8"/><circle cx="247.6" cy="1259" r="3.8"/><circle cx="255.4" cy="1207.1" r="3.8"/><circle cx="245.8" cy="1190.9" r="3.8"/><circle cx="247.2" cy="1233.7" r="3.8"/><circle cx="250.4" cy="1265.4" r="3.8"/><circle cx="239" cy="1145.7" r="3.8"/><circle cx="256.4" cy="1242.8" r="3.8"/><circle cx="242" cy="1218.5" r="3.8"/><circle cx="269.4" cy="1235.3" r="3.8"/><circle cx="271.5" cy="1200.2" r="3.8"/><circle cx="253" cy="1161.5" r="3.8"/><circle cx="245.6" cy="1256.2" r="3.8"/><circle cx="261" cy="1243" r="3.8"/><circle cx="244.6" cy="1182.8" r="3.8"/><circle cx="239.7" cy="1208.2" r="3.8"/><circle cx="243.7" cy="1193.7" r="3.8"/><circle cx="259.2" cy="1261.2" r="3.8"/><circle cx="269.8" cy="1226.7" r="3.8"/><circle cx="238.6" cy="1243" r="3.8"/><circle cx="255.8" cy="1191.5" r="3.8"/><circle cx="270.8" cy="1190.4" r="3.8"/><circle cx="267.2" cy="1247" r="3.8"/><circle cx="251.7" cy="1218.4" r="3.8"/><circle cx="262.9" cy="1186.9" r="3.8"/><circle cx="251.3" cy="1236.2" r="3.8"/><circle cx="262.5" cy="1238.4" r="3.8"/><circle cx="251.5" cy="1175.2" r="3.8"/><circle cx="252.6" cy="1269.1" r="3.8"/><circle cx="258.1" cy="1232.5" r="3.8"/><circle cx="248" cy="1246.3" r="3.8"/><circle cx="270.7" cy="1255.8" r="3.8"/><circle cx="250.7" cy="1172.7" r="3.8"/><circle cx="259.4" cy="1218.3" r="3.8"/><circle cx="243.8" cy="1146.9" r="3.8"/><circle cx="270.5" cy="1249.1" r="3.8"/><circle cx="253.2" cy="1155.5" r="3.8"/><circle cx="256.9" cy="1200.6" r="3.8"/><circle cx="261.6" cy="1180.1" r="3.8"/><circle cx="250.2" cy="1227.2" r="3.8"/><circle cx="264.2" cy="1173.1" r="3.8"/><circle cx="252" cy="1243.1" r="3.8"/><circle cx="260" cy="1164" r="3.8"/><circle cx="249.9" cy="1232" r="3.8"/><circle cx="239.1" cy="1263.2" r="3.8"/><circle cx="265" cy="1186.9" r="3.8"/><circle cx="240.7" cy="1250.2" r="3.8"/><circle cx="241" cy="1221.2" r="3.8"/><circle cx="266.6" cy="1152" r="3.8"/><circle cx="268.3" cy="1146.6" r="3.8"/><circle cx="259.5" cy="1254.3" r="3.8"/><circle cx="240" cy="1256.9" r="3.8"/><circle cx="246.8" cy="1208.3" r="3.8"/><circle cx="266.7" cy="1248.6" r="3.8"/><circle cx="257.4" cy="1271.1" r="3.8"/><circle cx="271.9" cy="1173.2" r="3.8"/><circle cx="270.1" cy="1214.9" r="3.8"/><circle cx="244.1" cy="1196" r="3.8"/><circle cx="250.2" cy="1254.5" r="3.8"/><circle cx="270" cy="1175.6" r="3.8"/><circle cx="250.8" cy="1148.5" r="3.8"/><circle cx="238.6" cy="1183.8" r="3.8"/><circle cx="241.9" cy="1255.3" r="3.8"/><circle cx="273.6" cy="1185.3" r="3.8"/><circle cx="239.6" cy="1173.4" r="3.8"/><circle cx="262.3" cy="1188.7" r="3.8"/><circle cx="261" cy="1189.8" r="3.8"/><circle cx="250.5" cy="1176.1" r="3.8"/><circle cx="268.7" cy="1186.4" r="3.8"/><circle cx="239.9" cy="1231.1" r="3.8"/><circle cx="261.7" cy="1182.3" r="3.8"/><circle cx="269.7" cy="1150.4" r="3.8"/><circle cx="240" cy="1187.4" r="3.8"/><circle cx="262.2" cy="1259.7" r="3.8"/><circle cx="257.9" cy="1253.5" r="3.8"/><circle cx="260.2" cy="1179.3" r="3.8"/><circle cx="238.1" cy="1220.1" r="3.8"/><circle cx="255.4" cy="1204" r="3.8"/><circle cx="239.9" cy="1222.4" r="3.8"/><circle cx="270.9" cy="1230.6" r="3.8"/><circle cx="241.2" cy="1207.3" r="3.8"/><circle cx="266.6" cy="1253.5" r="3.8"/><circle cx="248.6" cy="1205.2" r="3.8"/><circle cx="261.4" cy="1177.4" r="3.8"/><circle cx="239.5" cy="1251.5" r="3.8"/><circle cx="247.9" cy="1204.4" r="3.8"/><circle cx="258.8" cy="1146.5" r="3.8"/><circle cx="273.2" cy="1170.2" r="3.8"/><circle cx="264.6" cy="1254.2" r="3.8"/><circle cx="242" cy="1230.6" r="3.8"/><circle cx="252.9" cy="1182.3" r="3.8"/><circle cx="251" cy="1223.2" r="3.8"/><circle cx="264.8" cy="1264.1" r="3.8"/><circle cx="248.4" cy="1223.1" r="3.8"/><circle cx="256.5" cy="1167.7" r="3.8"/><circle cx="251.2" cy="1158.8" r="3.8"/><circle cx="256.9" cy="1164" r="3.8"/><circle cx="248" cy="1223.3" r="3.8"/><circle cx="240.4" cy="1151.1" r="3.8"/><circle cx="265" cy="1256.4" r="3.8"/><circle cx="251.8" cy="1213" r="3.8"/><circle cx="247.2" cy="1230.2" r="3.8"/><circle cx="241.3" cy="1178.4" r="3.8"/><circle cx="248.4" cy="1178.7" r="3.8"/><circle cx="270.5" cy="1261" r="3.8"/><circle cx="258.4" cy="1154.7" r="3.8"/><circle cx="248.8" cy="1257.7" r="3.8"/><circle cx="258" cy="1263.1" r="3.8"/><circle cx="249.2" cy="1226.9" r="3.8"/><circle cx="244" cy="1256.6" r="3.8"/><circle cx="257.8" cy="1262.8" r="3.8"/><circle cx="246.1" cy="1256.4" r="3.8"/><circle cx="240.2" cy="1193.1" r="3.8"/><circle cx="262.9" cy="1243.1" r="3.8"/><circle cx="251.3" cy="1246.1" r="3.8"/><circle cx="259.9" cy="1207.2" r="3.8"/><circle cx="249.1" cy="1224.3" r="3.8"/><circle cx="240.4" cy="1164.7" r="3.8"/><circle cx="272.5" cy="1180.7" r="3.8"/><circle cx="272.8" cy="1172.4" r="3.8"/><circle cx="245.4" cy="1268.5" r="3.8"/><circle cx="262.1" cy="1259.1" r="3.8"/><circle cx="272.1" cy="1153.6" r="3.8"/><circle cx="244.7" cy="1162.8" r="3.8"/><circle cx="248.3" cy="1168.1" r="3.8"/><circle cx="246.9" cy="1187.7" r="3.8"/><circle cx="243" cy="1187.9" r="3.8"/><circle cx="266.4" cy="1233.5" r="3.8"/><circle cx="240.3" cy="1180.5" r="3.8"/><circle cx="251.2" cy="1264.1" r="3.8"/><circle cx="254.8" cy="1210.9" r="3.8"/><circle cx="245.4" cy="1150.5" r="3.8"/><circle cx="254.4" cy="1198.5" r="3.8"/><circle cx="268.9" cy="1235.3" r="3.8"/><circle cx="254.8" cy="1149.2" r="3.8"/><circle cx="269.3" cy="1173.3" r="3.8"/><circle cx="254.4" cy="1212.6" r="3.8"/><circle cx="257.6" cy="1222.1" r="3.8"/><circle cx="269.1" cy="1173.2" r="3.8"/><circle cx="273" cy="1200.4" r="3.8"/><circle cx="268.8" cy="1235.4" r="3.8"/><circle cx="262" cy="1169.5" r="3.8"/><circle cx="269.2" cy="1157.2" r="3.8"/><circle cx="249" cy="1158.9" r="3.8"/><circle cx="247.9" cy="1252.7" r="3.8"/><circle cx="268.6" cy="1249.9" r="3.8"/><circle cx="243.4" cy="1211.1" r="3.8"/><circle cx="261.3" cy="1265.1" r="3.8"/><circle cx="254" cy="1221.2" r="3.8"/><circle cx="250.5" cy="1251.1" r="3.8"/><circle cx="269.7" cy="1265" r="3.8"/><circle cx="271.6" cy="1155.3" r="3.8"/><circle cx="264.3" cy="1202.9" r="3.8"/><circle cx="271" cy="1198.4" r="3.8"/><circle cx="241.1" cy="1214.9" r="3.8"/><circle cx="240.5" cy="1181.3" r="3.8"/><circle cx="273.5" cy="1270.6" r="3.8"/><circle cx="263.3" cy="1205.2" r="3.8"/><circle cx="237.7" cy="1186.9" r="3.8"/><circle cx="247.9" cy="1215.7" r="3.8"/><circle cx="257.2" cy="1233.6" r="3.8"/><circle cx="262.8" cy="1222.6" r="3.8"/><circle cx="261.2" cy="1160.1" r="3.8"/><circle cx="239.5" cy="1184.8" r="3.8"/><circle cx="261.3" cy="1149.7" r="3.8"/><circle cx="261.9" cy="1240.8" r="3.8"/><circle cx="267.8" cy="1218.6" r="3.8"/><circle cx="255.8" cy="1191.9" r="3.8"/><circle cx="267.2" cy="1253.4" r="3.8"/><circle cx="257.1" cy="1246.2" r="3.8"/><circle cx="254.4" cy="1247.4" r="3.8"/><circle cx="266.8" cy="1259.3" r="3.8"/><circle cx="258.4" cy="1263.7" r="3.8"/><circle cx="271" cy="1184.5" r="3.8"/><circle cx="244.3" cy="1235" r="3.8"/><circle cx="252.2" cy="1256.6" r="3.8"/><circle cx="237.9" cy="1168" r="3.8"/><circle cx="242.7" cy="1153.9" r="3.8"/><circle cx="238.5" cy="1145.3" r="3.8"/><circle cx="240.7" cy="1148.8" r="3.8"/><circle cx="252.7" cy="1208.9" r="3.8"/><circle cx="248.4" cy="1208.3" r="3.8"/><circle cx="240.9" cy="1269.4" r="3.8"/><circle cx="247.2" cy="1242.5" r="3.8"/><circle cx="248.4" cy="1269.6" r="3.8"/><circle cx="245.3" cy="1148.7" r="3.8"/><circle cx="249.6" cy="1152.2" r="3.8"/><circle cx="246.7" cy="1151.8" r="3.8"/><circle cx="267.2" cy="1263.2" r="3.8"/><circle cx="272.1" cy="1255.4" r="3.8"/><circle cx="256.1" cy="1167.4" r="3.8"/><circle cx="253.7" cy="1165.6" r="3.8"/><circle cx="264" cy="1227.8" r="3.8"/><circle cx="254.2" cy="1245.3" r="3.8"/><circle cx="262.1" cy="1166.3" r="3.8"/><circle cx="251.8" cy="1233.3" r="3.8"/><circle cx="254.7" cy="1247.9" r="3.8"/><circle cx="272.8" cy="1269.3" r="3.8"/><circle cx="255.8" cy="1197.3" r="3.8"/><circle cx="258.1" cy="1229.7" r="3.8"/><circle cx="266.4" cy="1268.5" r="3.8"/><circle cx="260.4" cy="1251" r="3.8"/><circle cx="253.9" cy="1203.9" r="3.8"/><circle cx="251.3" cy="1164.8" r="3.8"/><circle cx="246.3" cy="1267.4" r="3.8"/><circle cx="248.2" cy="1175.6" r="3.8"/><circle cx="263.8" cy="1223.4" r="3.8"/><circle cx="252.2" cy="1188.6" r="3.8"/><circle cx="243.7" cy="1155" r="3.8"/><circle cx="239.4" cy="1181.8" r="3.8"/><circle cx="256.2" cy="1207.4" r="3.8"/><circle cx="262.9" cy="1256.6" r="3.8"/><circle cx="256.8" cy="1184.2" r="3.8"/><circle cx="272.3" cy="1167.4" r="3.8"/><circle cx="260.6" cy="1170" r="3.8"/><circle cx="258.6" cy="1269.8" r="3.8"/><circle cx="242.3" cy="1256.7" r="3.8"/><circle cx="243" cy="1242.1" r="3.8"/><circle cx="251.5" cy="1209.6" r="3.8"/><circle cx="252" cy="1261.9" r="3.8"/><circle cx="255.9" cy="1221" r="3.8"/><circle cx="257.1" cy="1201.2" r="3.8"/><circle cx="246" cy="1186.6" r="3.8"/><circle cx="267.7" cy="1207.2" r="3.8"/><circle cx="254.4" cy="1231.5" r="3.8"/><circle cx="271.6" cy="1175" r="3.8"/><circle cx="268.6" cy="1251.4" r="3.8"/><circle cx="246.3" cy="1166.2" r="3.8"/><circle cx="272.5" cy="1180" r="3.8"/><circle cx="239.8" cy="1163" r="3.8"/><circle cx="248.9" cy="1150.1" r="3.8"/><circle cx="251.1" cy="1217.5" r="3.8"/><circle cx="266" cy="1253.9" r="3.8"/><circle cx="269.2" cy="1263.5" r="3.8"/><circle cx="252.8" cy="1245" r="3.8"/><circle cx="260.5" cy="1149.6" r="3.8"/><circle cx="244.6" cy="1171.7" r="3.8"/><circle cx="245.5" cy="1172.6" r="3.8"/><circle cx="249.3" cy="1170.5" r="3.8"/><circle cx="246.4" cy="1174.1" r="3.8"/><circle cx="261" cy="1182.1" r="3.8"/><circle cx="242" cy="1260.6" r="3.8"/><circle cx="252.1" cy="1269.2" r="3.8"/><circle cx="261.8" cy="1171.6" r="3.8"/><circle cx="242.2" cy="1253.7" r="3.8"/><circle cx="248.1" cy="1152.2" r="3.8"/><circle cx="261.8" cy="1147.4" r="3.8"/><circle cx="240.2" cy="1241.2" r="3.8"/><circle cx="247.9" cy="1241.2" r="3.8"/><circle cx="258.9" cy="1153.2" r="3.8"/><circle cx="271.3" cy="1186.6" r="3.8"/><circle cx="263.5" cy="1226.4" r="3.8"/><circle cx="251.6" cy="1256" r="3.8"/><circle cx="239.9" cy="1183.3" r="3.8"/><circle cx="271.1" cy="1170.3" r="3.8"/><circle cx="253.1" cy="1252.6" r="3.8"/><circle cx="246.9" cy="1183.1" r="3.8"/><circle cx="245.7" cy="1237.9" r="3.8"/><circle cx="256.5" cy="1199.2" r="3.8"/><circle cx="269.8" cy="1229.7" r="3.8"/><circle cx="242.1" cy="1268.1" r="3.8"/><circle cx="261.9" cy="1249.9" r="3.8"/><circle cx="258.1" cy="1269" r="3.8"/><circle cx="251" cy="1202.3" r="3.8"/><circle cx="257" cy="1185.5" r="3.8"/><circle cx="256.4" cy="1262.4" r="3.8"/><circle cx="264.9" cy="1170.6" r="3.8"/><circle cx="265.9" cy="1155.8" r="3.8"/><circle cx="243.7" cy="1195.7" r="3.8"/><circle cx="260.7" cy="1164.2" r="3.8"/><circle cx="258.9" cy="1218.6" r="3.8"/><circle cx="271.8" cy="1187.2" r="3.8"/><circle cx="272" cy="1181.1" r="3.8"/><circle cx="268.6" cy="1229.2" r="3.8"/><circle cx="260.8" cy="1197.3" r="3.8"/><circle cx="241.4" cy="1202.7" r="3.8"/><circle cx="254.4" cy="1221.2" r="3.8"/><circle cx="239.7" cy="1206.7" r="3.8"/><circle cx="269.9" cy="1254.4" r="3.8"/><circle cx="253.8" cy="1211.6" r="3.8"/><circle cx="269.9" cy="1271.6" r="3.8"/><circle cx="246.5" cy="1215.7" r="3.8"/><circle cx="258.3" cy="1215.2" r="3.8"/><circle cx="247.2" cy="1242.6" r="3.8"/><circle cx="259.1" cy="1214.7" r="3.8"/><circle cx="241.9" cy="1244.7" r="3.8"/><circle cx="251.2" cy="1226.3" r="3.8"/><circle cx="253.3" cy="1146.8" r="3.8"/><circle cx="268.9" cy="1214.1" r="3.8"/><circle cx="242.4" cy="1202.8" r="3.8"/><circle cx="244.7" cy="1259.9" r="3.8"/><circle cx="254.7" cy="1169.7" r="3.8"/><circle cx="267.9" cy="1229.3" r="3.8"/><circle cx="246.4" cy="1223.6" r="3.8"/><circle cx="244.5" cy="1243.5" r="3.8"/><circle cx="253.2" cy="1247.9" r="3.8"/><circle cx="240.8" cy="1182.9" r="3.8"/><circle cx="254.4" cy="1257.7" r="3.8"/><circle cx="241.2" cy="1271.8" r="3.8"/><circle cx="238.5" cy="1169.7" r="3.8"/><circle cx="256.5" cy="1214.6" r="3.8"/><circle cx="255.5" cy="1163" r="3.8"/><circle cx="262.8" cy="1240.8" r="3.8"/><circle cx="262.1" cy="1260.5" r="3.8"/><circle cx="251.6" cy="1193.8" r="3.8"/><circle cx="247.4" cy="1247.7" r="3.8"/><circle cx="241.7" cy="1262.9" r="3.8"/><circle cx="272.1" cy="1212" r="3.8"/><circle cx="253.5" cy="1200.7" r="3.8"/><circle cx="267.4" cy="1267.4" r="3.8"/><circle cx="244.6" cy="1246.5" r="3.8"/><circle cx="268" cy="1196.4" r="3.8"/><circle cx="252.8" cy="1146.9" r="3.8"/><circle cx="247.3" cy="1213.7" r="3.8"/><circle cx="257.6" cy="1235.9" r="3.8"/><circle cx="266.8" cy="1190.6" r="3.8"/><circle cx="247.9" cy="1171.6" r="3.8"/><circle cx="253.5" cy="1166" r="3.8"/><circle cx="261.1" cy="1157.4" r="3.8"/><circle cx="261.8" cy="1156.7" r="3.8"/><circle cx="266.9" cy="1251.8" r="3.8"/><circle cx="259.7" cy="1268.1" r="3.8"/><circle cx="250.4" cy="1200.8" r="3.8"/><circle cx="245.3" cy="1217.8" r="3.8"/><circle cx="253.3" cy="1269.5" r="3.8"/><circle cx="258.8" cy="1146" r="3.8"/><circle cx="244.3" cy="1232" r="3.8"/><circle cx="268.5" cy="1221.5" r="3.8"/><circle cx="265.1" cy="1231.8" r="3.8"/><circle cx="250.7" cy="1148.8" r="3.8"/><circle cx="257.6" cy="1232.4" r="3.8"/><circle cx="269.3" cy="1220.7" r="3.8"/><circle cx="253.5" cy="1156.8" r="3.8"/><circle cx="253.5" cy="1268.4" r="3.8"/><circle cx="258.5" cy="1241.3" r="3.8"/><circle cx="271.7" cy="1175.5" r="3.8"/><circle cx="247.1" cy="1240.8" r="3.8"/><circle cx="238.6" cy="1186.4" r="3.8"/><circle cx="266.7" cy="1249.2" r="3.8"/><circle cx="244.1" cy="1145" r="3.8"/><circle cx="272.5" cy="1209" r="3.8"/><circle cx="255.9" cy="1229.7" r="3.8"/><circle cx="265.8" cy="1189.8" r="3.8"/><circle cx="257.1" cy="1244.4" r="3.8"/><circle cx="251.1" cy="1216.2" r="3.8"/><circle cx="250" cy="1264.5" r="3.8"/><circle cx="239.2" cy="1238.2" r="3.8"/><circle cx="256.3" cy="1226.9" r="3.8"/><circle cx="245.5" cy="1266.3" r="3.8"/><circle cx="255" cy="1235.3" r="3.8"/><circle cx="240.8" cy="1182.2" r="3.8"/><circle cx="270.6" cy="1147.1" r="3.8"/><circle cx="250.5" cy="1170.4" r="3.8"/><circle cx="249.7" cy="1224.1" r="3.8"/><circle cx="268.9" cy="1213" r="3.8"/><circle cx="270.6" cy="1234.8" r="3.8"/><circle cx="271.7" cy="1165.9" r="3.8"/><circle cx="269.4" cy="1240.4" r="3.8"/><circle cx="271.9" cy="1150.2" r="3.8"/><circle cx="241" cy="1146" r="3.8"/><circle cx="237.6" cy="1176" r="3.8"/><circle cx="258.4" cy="1197" r="3.8"/><circle cx="242.4" cy="1241.7" r="3.8"/><circle cx="242.7" cy="1270.3" r="3.8"/><circle cx="248.8" cy="1151.3" r="3.8"/><circle cx="244" cy="1149" r="3.8"/><circle cx="245.8" cy="1229.5" r="3.8"/><circle cx="250.7" cy="1146.4" r="3.8"/><circle cx="249.7" cy="1188.4" r="3.8"/><circle cx="247.3" cy="1239.1" r="3.8"/><circle cx="242.5" cy="1214.7" r="3.8"/><circle cx="238.5" cy="1203.8" r="3.8"/><circle cx="265.7" cy="1187.5" r="3.8"/><circle cx="241.2" cy="1215.7" r="3.8"/><circle cx="254.5" cy="1219.8" r="3.8"/><circle cx="250.2" cy="1195.1" r="3.8"/><circle cx="267.6" cy="1256.9" r="3.8"/><circle cx="257.1" cy="1240.2" r="3.8"/><circle cx="267.9" cy="1222.3" r="3.8"/><circle cx="271.1" cy="1220" r="3.8"/><circle cx="257.2" cy="1238" r="3.8"/><circle cx="260" cy="1258.6" r="3.8"/><circle cx="266.2" cy="1213.2" r="3.8"/><circle cx="263.1" cy="1258.2" r="3.8"/><circle cx="253" cy="1187.6" r="3.8"/><circle cx="268.1" cy="1156.7" r="3.8"/><circle cx="256.6" cy="1151.2" r="3.8"/><circle cx="263.4" cy="1262.4" r="3.8"/><circle cx="272.6" cy="1192.4" r="3.8"/><circle cx="268.6" cy="1227.8" r="3.8"/><circle cx="245.7" cy="1152.3" r="3.8"/><circle cx="259.2" cy="1189" r="3.8"/><circle cx="269.5" cy="1263.5" r="3.8"/><circle cx="258.2" cy="1222.7" r="3.8"/><circle cx="242.3" cy="1187.7" r="3.8"/><circle cx="267" cy="1208.2" r="3.8"/><circle cx="249" cy="1212.4" r="3.8"/><circle cx="255.9" cy="1203.9" r="3.8"/><circle cx="254.5" cy="1215.4" r="3.8"/><circle cx="272" cy="1256.1" r="3.8"/><circle cx="257.2" cy="1150.6" r="3.8"/><circle cx="269.3" cy="1226.2" r="3.8"/><circle cx="242" cy="1256.5" r="3.8"/><circle cx="256.5" cy="1174.3" r="3.8"/><circle cx="266.7" cy="1179.4" r="3.8"/><circle cx="267.9" cy="1223.4" r="3.8"/><circle cx="249.5" cy="1184.5" r="3.8"/><circle cx="247.3" cy="1164.3" r="3.8"/><circle cx="246.3" cy="1189.9" r="3.8"/><circle cx="247.6" cy="1198.3" r="3.8"/><circle cx="249.6" cy="1250.4" r="3.8"/><circle cx="257.2" cy="1166.9" r="3.8"/><circle cx="257.7" cy="1177.3" r="3.8"/><circle cx="264.1" cy="1202.2" r="3.8"/><circle cx="272" cy="1156" r="3.8"/><circle cx="243.5" cy="1236.1" r="3.8"/><circle cx="245.9" cy="1151.5" r="3.8"/><circle cx="257.5" cy="1260.6" r="3.8"/><circle cx="254.3" cy="1209.6" r="3.8"/><circle cx="237.6" cy="1245.8" r="3.8"/><circle cx="244.3" cy="1168.1" r="3.8"/><circle cx="267.8" cy="1269.3" r="3.8"/><circle cx="271.9" cy="1172.3" r="3.8"/><circle cx="249.8" cy="1232.2" r="3.8"/><circle cx="246.5" cy="1260.7" r="3.8"/><circle cx="251.8" cy="1175.8" r="3.8"/><circle cx="244" cy="1267.8" r="3.8"/><circle cx="242.6" cy="1269.6" r="3.8"/><circle cx="241.1" cy="1248.2" r="3.8"/><circle cx="248.9" cy="1262.1" r="3.8"/><circle cx="271.4" cy="1262.7" r="3.8"/><circle cx="247.4" cy="1153" r="3.8"/><circle cx="245.4" cy="1205.8" r="3.8"/><circle cx="270.8" cy="1155.9" r="3.8"/><circle cx="259.4" cy="1147.3" r="3.8"/><circle cx="251.7" cy="1229.9" r="3.8"/><circle cx="252.4" cy="1239.1" r="3.8"/><circle cx="253.1" cy="1215.4" r="3.8"/><circle cx="251.5" cy="1206.5" r="3.8"/><circle cx="252.7" cy="1175.9" r="3.8"/><circle cx="242.7" cy="1232.1" r="3.8"/><circle cx="244.5" cy="1148.5" r="3.8"/><circle cx="272.8" cy="1165.4" r="3.8"/><circle cx="241.2" cy="1219.6" r="3.8"/><circle cx="252.3" cy="1237.6" r="3.8"/><circle cx="258.1" cy="1217.3" r="3.8"/><circle cx="261.8" cy="1165.7" r="3.8"/><circle cx="265.5" cy="1196.1" r="3.8"/><circle cx="263.9" cy="1212.8" r="3.8"/><circle cx="241.3" cy="1174.5" r="3.8"/><circle cx="252.1" cy="1145" r="3.8"/><circle cx="257.2" cy="1155.4" r="3.8"/><circle cx="256.5" cy="1269.9" r="3.8"/><circle cx="270.7" cy="1226.9" r="3.8"/><circle cx="239.9" cy="1198.3" r="3.8"/><circle cx="249.4" cy="1170.6" r="3.8"/><circle cx="268.7" cy="1190.5" r="3.8"/><circle cx="247.1" cy="1242.4" r="3.8"/><circle cx="244.1" cy="1232.2" r="3.8"/><circle cx="248.6" cy="1220.3" r="3.8"/><circle cx="252.4" cy="1257.6" r="3.8"/><circle cx="245.3" cy="1259.4" r="3.8"/><circle cx="240.5" cy="1150.9" r="3.8"/><circle cx="273.7" cy="1195.5" r="3.8"/><circle cx="256.9" cy="1161.5" r="3.8"/><circle cx="271.8" cy="1206.5" r="3.8"/><circle cx="266.2" cy="1226.5" r="3.8"/><circle cx="244.7" cy="1225.7" r="3.8"/><circle cx="246.5" cy="1228.2" r="3.8"/><circle cx="256.6" cy="1153.3" r="3.8"/><circle cx="249.4" cy="1163.1" r="3.8"/><circle cx="248.7" cy="1246.4" r="3.8"/><circle cx="237.7" cy="1172.4" r="3.8"/><circle cx="268.4" cy="1162.1" r="3.8"/><circle cx="247.9" cy="1189.3" r="3.8"/><circle cx="262.1" cy="1269.2" r="3.8"/><circle cx="255.3" cy="1216.9" r="3.8"/><circle cx="249.8" cy="1246.5" r="3.8"/><circle cx="250.1" cy="1163.3" r="3.8"/><circle cx="247.7" cy="1193" r="3.8"/><circle cx="255.8" cy="1182.6" r="3.8"/><circle cx="266.1" cy="1196.9" r="3.8"/><circle cx="272.1" cy="1262.9" r="3.8"/><circle cx="267.4" cy="1271.3" r="3.8"/><circle cx="246.3" cy="1161.8" r="3.8"/><circle cx="250.7" cy="1220.9" r="3.8"/><circle cx="246" cy="1239.3" r="3.8"/><circle cx="259.5" cy="1166.3" r="3.8"/><circle cx="242.7" cy="1212.5" r="3.8"/><circle cx="269.5" cy="1156.9" r="3.8"/><circle cx="265.7" cy="1213.6" r="3.8"/><circle cx="240.8" cy="1271" r="3.8"/><circle cx="257.7" cy="1262.1" r="3.8"/><circle cx="252.7" cy="1151.1" r="3.8"/><circle cx="272.1" cy="1177.2" r="3.8"/><circle cx="247.8" cy="1261.1" r="3.8"/><circle cx="268.3" cy="1228.6" r="3.8"/><circle cx="256.8" cy="1172.6" r="3.8"/><circle cx="247.2" cy="1259.2" r="3.8"/><circle cx="264.4" cy="1195.2" r="3.8"/><circle cx="242.9" cy="1164" r="3.8"/><circle cx="247.6" cy="1158.7" r="3.8"/><circle cx="249.6" cy="1150.7" r="3.8"/><circle cx="272.2" cy="1265.7" r="3.8"/><circle cx="251.8" cy="1195.8" r="3.8"/><circle cx="248" cy="1160" r="3.8"/><circle cx="267" cy="1174.7" r="3.8"/><circle cx="271.9" cy="1204" r="3.8"/><circle cx="250.7" cy="1210.1" r="3.8"/><circle cx="265.8" cy="1219.6" r="3.8"/><circle cx="245.6" cy="1260.8" r="3.8"/><circle cx="258.1" cy="1164.6" r="3.8"/><circle cx="264.7" cy="1148.3" r="3.8"/><circle cx="250.3" cy="1197.2" r="3.8"/><circle cx="238" cy="1184" r="3.8"/><circle cx="270.7" cy="1221.5" r="3.8"/><circle cx="246.2" cy="1156.7" r="3.8"/><circle cx="263.8" cy="1196.1" r="3.8"/><circle cx="242.5" cy="1265.7" r="3.8"/><circle cx="243.5" cy="1250" r="3.8"/><circle cx="261.4" cy="1150" r="3.8"/><circle cx="249.8" cy="1247.5" r="3.8"/><circle cx="260.1" cy="1160.1" r="3.8"/><circle cx="245.4" cy="1204.8" r="3.8"/><circle cx="239.7" cy="1183" r="3.8"/><circle cx="260.2" cy="1150.1" r="3.8"/><circle cx="264.9" cy="1212.5" r="3.8"/><circle cx="267.2" cy="1237.8" r="3.8"/><circle cx="254.7" cy="1148.7" r="3.8"/><circle cx="245.5" cy="1174.2" r="3.8"/><circle cx="260.5" cy="1214.7" r="3.8"/><circle cx="245" cy="1152.1" r="3.8"/><circle cx="263.5" cy="1256.5" r="3.8"/><circle cx="268.2" cy="1236.8" r="3.8"/><circle cx="244.1" cy="1160" r="3.8"/><circle cx="264.3" cy="1219.7" r="3.8"/><circle cx="246.7" cy="1209.4" r="3.8"/><circle cx="271.7" cy="1159.6" r="3.8"/><circle cx="259.3" cy="1262" r="3.8"/><circle cx="249.8" cy="1270.9" r="3.8"/><circle cx="246.4" cy="1177.7" r="3.8"/><circle cx="239.1" cy="1177.8" r="3.8"/><circle cx="255.4" cy="1204.2" r="3.8"/><circle cx="270.8" cy="1181.1" r="3.8"/><circle cx="241.7" cy="1204.4" r="3.8"/><circle cx="256.3" cy="1148" r="3.8"/><circle cx="262.7" cy="1261.1" r="3.8"/><circle cx="250.1" cy="1216.7" r="3.8"/><circle cx="270.6" cy="1242.9" r="3.8"/><circle cx="258.3" cy="1159.3" r="3.8"/><circle cx="245.1" cy="1192.2" r="3.8"/><circle cx="259.8" cy="1172.4" r="3.8"/><circle cx="240.4" cy="1268.3" r="3.8"/><circle cx="267.1" cy="1229" r="3.8"/><circle cx="263.9" cy="1253" r="3.8"/><circle cx="269.7" cy="1163.7" r="3.8"/><circle cx="246.4" cy="1268.5" r="3.8"/><circle cx="253.1" cy="1162.5" r="3.8"/><circle cx="262.4" cy="1205.1" r="3.8"/><circle cx="247.5" cy="1189.1" r="3.8"/><circle cx="263.5" cy="1180.9" r="3.8"/><circle cx="270.3" cy="1165.9" r="3.8"/><circle cx="266.5" cy="1174.8" r="3.8"/><circle cx="244.4" cy="1149" r="3.8"/><circle cx="267.5" cy="1187.6" r="3.8"/><circle cx="253" cy="1176.4" r="3.8"/><circle cx="249.4" cy="1261.7" r="3.8"/><circle cx="263.4" cy="1191.6" r="3.8"/><circle cx="238.5" cy="1157.8" r="3.8"/><circle cx="250.9" cy="1180.8" r="3.8"/><circle cx="261.2" cy="1221.2" r="3.8"/><circle cx="243.4" cy="1208" r="3.8"/><circle cx="266.1" cy="1151.4" r="3.8"/><circle cx="250.1" cy="1179.5" r="3.8"/><circle cx="267.5" cy="1205.4" r="3.8"/><circle cx="264.5" cy="1237" r="3.8"/><circle cx="268.1" cy="1179" r="3.8"/><circle cx="265.3" cy="1239.9" r="3.8"/><circle cx="238.3" cy="1205.4" r="3.8"/><circle cx="261.8" cy="1223.4" r="3.8"/><circle cx="270.5" cy="1175.9" r="3.8"/><circle cx="262" cy="1224.1" r="3.8"/><circle cx="255.9" cy="1238.2" r="3.8"/><circle cx="249.9" cy="1230.5" r="3.8"/><circle cx="254.7" cy="1190.1" r="3.8"/><circle cx="245.8" cy="1216.7" r="3.8"/><circle cx="269.9" cy="1169.6" r="3.8"/><circle cx="269.6" cy="1155.7" r="3.8"/><circle cx="252.8" cy="1253.2" r="3.8"/><circle cx="241.8" cy="1153.4" r="3.8"/><circle cx="268.1" cy="1172.6" r="3.8"/><circle cx="250.8" cy="1251" r="3.8"/><circle cx="260.6" cy="1239.3" r="3.8"/><circle cx="254.4" cy="1147.4" r="3.8"/><circle cx="270" cy="1258.5" r="3.8"/><circle cx="265" cy="1171.9" r="3.8"/><circle cx="262.7" cy="1209.8" r="3.8"/><circle cx="254.7" cy="1200.6" r="3.8"/><circle cx="238.1" cy="1165.5" r="3.8"/><circle cx="239.2" cy="1237.6" r="3.8"/><circle cx="270.7" cy="1163.4" r="3.8"/><circle cx="267.3" cy="1169.7" r="3.8"/><circle cx="241.8" cy="1184" r="3.8"/><circle cx="266.8" cy="1155.4" r="3.8"/><circle cx="244" cy="1249.8" r="3.8"/><circle cx="240.5" cy="1253.5" r="3.8"/><circle cx="270" cy="1221.9" r="3.8"/><circle cx="249" cy="1223.4" r="3.8"/><circle cx="263.6" cy="1163.1" r="3.8"/><circle cx="240.4" cy="1196.4" r="3.8"/><circle cx="258.2" cy="1265.8" r="3.8"/><circle cx="268.4" cy="1231" r="3.8"/><circle cx="268.6" cy="1192.5" r="3.8"/><circle cx="270.4" cy="1243.5" r="3.8"/><circle cx="249.4" cy="1222.9" r="3.8"/><circle cx="251.8" cy="1188.6" r="3.8"/><circle cx="258" cy="1260.6" r="3.8"/><circle cx="271.1" cy="1158.5" r="3.8"/><circle cx="241.2" cy="1267.1" r="3.8"/><circle cx="244.1" cy="1187.1" r="3.8"/><circle cx="257.3" cy="1177.8" r="3.8"/><circle cx="260.2" cy="1256.9" r="3.8"/><circle cx="252.6" cy="1246.1" r="3.8"/><circle cx="258.5" cy="1242.3" r="3.8"/><circle cx="238.7" cy="1264.7" r="3.8"/><circle cx="261.3" cy="1152.9" r="3.8"/><circle cx="253.7" cy="1220.7" r="3.8"/><circle cx="246.6" cy="1162.7" r="3.8"/><circle cx="262.2" cy="1267.4" r="3.8"/><circle cx="254.9" cy="1235.6" r="3.8"/><circle cx="246.4" cy="1251.3" r="3.8"/><circle cx="253.9" cy="1161.9" r="3.8"/><circle cx="270.9" cy="1189.2" r="3.8"/><circle cx="268.8" cy="1149" r="3.8"/><circle cx="252" cy="1246.3" r="3.8"/><circle cx="242.9" cy="1153.1" r="3.8"/><circle cx="248.4" cy="1235.8" r="3.8"/><circle cx="252.4" cy="1222.5" r="3.8"/><circle cx="262.9" cy="1155.3" r="3.8"/><circle cx="243.5" cy="1194.1" r="3.8"/><circle cx="245.2" cy="1233.6" r="3.8"/><circle cx="248.3" cy="1225.2" r="3.8"/><circle cx="263.3" cy="1241.6" r="3.8"/><circle cx="267.7" cy="1229" r="3.8"/><circle cx="250.2" cy="1148.8" r="3.8"/><circle cx="248.7" cy="1234.8" r="3.8"/><circle cx="244.5" cy="1161.1" r="3.8"/><circle cx="242.2" cy="1169.3" r="3.8"/><circle cx="255.7" cy="1193.4" r="3.8"/><circle cx="268.2" cy="1217.4" r="3.8"/><circle cx="246.5" cy="1247.4" r="3.8"/><circle cx="272.2" cy="1145.9" r="3.8"/><circle cx="242.1" cy="1193.5" r="3.8"/><circle cx="242.2" cy="1179.5" r="3.8"/><circle cx="260" cy="1253.7" r="3.8"/><circle cx="246.1" cy="1254.1" r="3.8"/><circle cx="271.6" cy="1185.8" r="3.8"/><circle cx="263.1" cy="1164.4" r="3.8"/><circle cx="247.4" cy="1248.1" r="3.8"/><circle cx="239.5" cy="1242.5" r="3.8"/><circle cx="266.9" cy="1150.1" r="3.8"/><circle cx="240.6" cy="1206.2" r="3.8"/><circle cx="258.1" cy="1240.1" r="3.8"/><circle cx="247.4" cy="1148.5" r="3.8"/><circle cx="252.7" cy="1255.2" r="3.8"/><circle cx="253.8" cy="1156.7" r="3.8"/><circle cx="260.6" cy="1222.8" r="3.8"/><circle cx="255.2" cy="1263.7" r="3.8"/><circle cx="271.5" cy="1148.1" r="3.8"/><circle cx="268.3" cy="1224.5" r="3.8"/><circle cx="263.4" cy="1177.3" r="3.8"/><circle cx="267.5" cy="1270" r="3.8"/><circle cx="260.5" cy="1157.8" r="3.8"/><circle cx="261.5" cy="1259.5" r="3.8"/><circle cx="267.9" cy="1212" r="3.8"/><circle cx="244.5" cy="1163.4" r="3.8"/><circle cx="258.9" cy="1158.1" r="3.8"/><circle cx="253.8" cy="1263.2" r="3.8"/><circle cx="257.5" cy="1183.3" r="3.8"/><circle cx="244.6" cy="1238.2" r="3.8"/><circle cx="240.3" cy="1161.8" r="3.8"/><circle cx="259.4" cy="1147" r="3.8"/><circle cx="242.2" cy="1260.3" r="3.8"/><circle cx="261.2" cy="1157.4" r="3.8"/><circle cx="266.9" cy="1260.2" r="3.8"/><circle cx="242.4" cy="1212.5" r="3.8"/><circle cx="254.9" cy="1200" r="3.8"/><circle cx="261" cy="1229.8" r="3.8"/><circle cx="242.6" cy="1195.2" r="3.8"/><circle cx="260.1" cy="1239.4" r="3.8"/><circle cx="260.4" cy="1219.4" r="3.8"/><circle cx="259.3" cy="1267.7" r="3.8"/><circle cx="258.8" cy="1154.3" r="3.8"/><circle cx="263.9" cy="1182.5" r="3.8"/><circle cx="270" cy="1153.5" r="3.8"/><circle cx="265.7" cy="1203.8" r="3.8"/><circle cx="269.3" cy="1172.9" r="3.8"/><circle cx="265.6" cy="1178.2" r="3.8"/><circle cx="264.6" cy="1189.2" r="3.8"/><circle cx="248.4" cy="1216.2" r="3.8"/><circle cx="257.8" cy="1169.2" r="3.8"/><circle cx="262.8" cy="1207.9" r="3.8"/><circle cx="252.3" cy="1157.5" r="3.8"/><circle cx="242.8" cy="1261" r="3.8"/><circle cx="255.3" cy="1239.6" r="3.8"/><circle cx="260.1" cy="1099.4" r="3.8"/><circle cx="246.6" cy="1113.5" r="3.8"/><circle cx="273.6" cy="1138.1" r="3.8"/><circle cx="249.7" cy="1077.4" r="3.8"/><circle cx="271.2" cy="1112.8" r="3.8"/><circle cx="241.2" cy="1093.2" r="3.8"/><circle cx="268.1" cy="1075.6" r="3.8"/><circle cx="254" cy="1078" r="3.8"/><circle cx="270.4" cy="1076.8" r="3.8"/><circle cx="254.4" cy="1097.9" r="3.8"/><circle cx="264.4" cy="1112.4" r="3.8"/><circle cx="252.3" cy="1110.8" r="3.8"/><circle cx="258.2" cy="1093.8" r="3.8"/><circle cx="270.7" cy="1129.2" r="3.8"/><circle cx="253.7" cy="1117.4" r="3.8"/><circle cx="257.4" cy="1133.7" r="3.8"/><circle cx="250.7" cy="1104.2" r="3.8"/><circle cx="262.1" cy="1098.1" r="3.8"/><circle cx="271.3" cy="1111.2" r="3.8"/><circle cx="252.2" cy="1140.7" r="3.8"/><circle cx="261.5" cy="1136.3" r="3.8"/><circle cx="241.3" cy="1089.5" r="3.8"/><circle cx="262" cy="1077.4" r="3.8"/><circle cx="269.2" cy="1103" r="3.8"/><circle cx="242.7" cy="1097.9" r="3.8"/><circle cx="258.8" cy="1094.3" r="3.8"/><circle cx="244.3" cy="1136.8" r="3.8"/><circle cx="256.2" cy="1115.9" r="3.8"/><circle cx="258" cy="1098.8" r="3.8"/><circle cx="266.6" cy="1086.8" r="3.8"/><circle cx="269.7" cy="1122.2" r="3.8"/><circle cx="240.5" cy="1123.2" r="3.8"/><circle cx="252.9" cy="1134.4" r="3.8"/><circle cx="251" cy="1129.6" r="3.8"/><circle cx="241.1" cy="1114.1" r="3.8"/><circle cx="242.7" cy="1136.4" r="3.8"/><circle cx="248.7" cy="1129.7" r="3.8"/><circle cx="265.5" cy="1090.7" r="3.8"/><circle cx="252.1" cy="1142.9" r="3.8"/><circle cx="255.6" cy="1077.9" r="3.8"/><circle cx="269.4" cy="1124.2" r="3.8"/><circle cx="264.8" cy="1081.9" r="3.8"/><circle cx="256.5" cy="1091.7" r="3.8"/><circle cx="264.1" cy="1086" r="3.8"/><circle cx="261" cy="1105.6" r="3.8"/><circle cx="271.8" cy="1123" r="3.8"/><circle cx="254.5" cy="1101.6" r="3.8"/><circle cx="249.2" cy="1129.2" r="3.8"/><circle cx="249.8" cy="1128.2" r="3.8"/><circle cx="245" cy="1124.8" r="3.8"/><circle cx="269.2" cy="1125" r="3.8"/><circle cx="247.9" cy="1128.1" r="3.8"/><circle cx="260.4" cy="1086.1" r="3.8"/><circle cx="271.4" cy="1117.6" r="3.8"/><circle cx="261.8" cy="1087.7" r="3.8"/><circle cx="243.2" cy="1102.8" r="3.8"/><circle cx="268.5" cy="1094" r="3.8"/><circle cx="266.4" cy="1072.2" r="3.8"/><circle cx="267.8" cy="1135.4" r="3.8"/><circle cx="239.5" cy="1113.9" r="3.8"/><circle cx="256.4" cy="1133.8" r="3.8"/><circle cx="251.7" cy="1097.8" r="3.8"/><circle cx="247.2" cy="1079.9" r="3.8"/><circle cx="253.3" cy="1109.2" r="3.8"/><circle cx="265.6" cy="1120.3" r="3.8"/><circle cx="267" cy="1098.7" r="3.8"/><circle cx="268.2" cy="1077.5" r="3.8"/><circle cx="269.7" cy="1081.9" r="3.8"/><circle cx="252" cy="1070.5" r="3.8"/><circle cx="252.5" cy="1075.2" r="3.8"/><circle cx="264.9" cy="1101.8" r="3.8"/><circle cx="262.9" cy="1122.2" r="3.8"/><circle cx="257.4" cy="1080.3" r="3.8"/><circle cx="248.1" cy="1141.5" r="3.8"/><circle cx="258" cy="1080.5" r="3.8"/><circle cx="265.9" cy="1115.8" r="3.8"/><circle cx="271.2" cy="1088.5" r="3.8"/><circle cx="243" cy="1103.9" r="3.8"/><circle cx="246.9" cy="1142.4" r="3.8"/><circle cx="260.7" cy="1143.8" r="3.8"/><circle cx="258.2" cy="1125.4" r="3.8"/><circle cx="271.8" cy="1137.5" r="3.8"/><circle cx="240" cy="1079.7" r="3.8"/><circle cx="260.7" cy="1123.7" r="3.8"/><circle cx="251.5" cy="1086.8" r="3.8"/><circle cx="266.5" cy="1124.9" r="3.8"/><circle cx="256.5" cy="1140.8" r="3.8"/><circle cx="247.5" cy="1123.8" r="3.8"/><circle cx="243.9" cy="1102" r="3.8"/><circle cx="240.8" cy="1082.3" r="3.8"/><circle cx="261" cy="1134" r="3.8"/><circle cx="251" cy="1138.1" r="3.8"/><circle cx="255.3" cy="1101.2" r="3.8"/><circle cx="262.2" cy="1142.6" r="3.8"/><circle cx="264.4" cy="1121.6" r="3.8"/><circle cx="267.7" cy="1090.3" r="3.8"/><circle cx="259" cy="1092.6" r="3.8"/><circle cx="257.5" cy="1096.2" r="3.8"/><circle cx="254.3" cy="1026.2" r="3.8"/><circle cx="253" cy="1033.2" r="3.8"/><circle cx="253.7" cy="1040.1" r="3.8"/><circle cx="244.3" cy="1022.6" r="3.8"/><circle cx="239.3" cy="1053.2" r="3.8"/><circle cx="252.7" cy="1057.1" r="3.8"/><circle cx="245.7" cy="1061.5" r="3.8"/><circle cx="253.8" cy="1036.5" r="3.8"/><circle cx="253.4" cy="1066.1" r="3.8"/><circle cx="253.7" cy="1017.9" r="3.8"/><circle cx="261.9" cy="1042.1" r="3.8"/><circle cx="252.8" cy="1052.2" r="3.8"/><circle cx="240.5" cy="1058.4" r="3.8"/><circle cx="244.6" cy="1054.2" r="3.8"/><circle cx="239.4" cy="1058.8" r="3.8"/><circle cx="257.9" cy="1011.4" r="3.8"/><circle cx="253.2" cy="1042" r="3.8"/><circle cx="249.9" cy="1028.7" r="3.8"/><circle cx="246.5" cy="1056.3" r="3.8"/><circle cx="249" cy="1048" r="3.8"/><circle cx="250.4" cy="1065.9" r="3.8"/><circle cx="241.9" cy="1005.2" r="3.8"/><circle cx="247.5" cy="1044" r="3.8"/><circle cx="262.4" cy="1052.6" r="3.8"/><circle cx="239.5" cy="1019.5" r="3.8"/><circle cx="243.1" cy="1012.8" r="3.8"/><circle cx="255.9" cy="1020.3" r="3.8"/><circle cx="260.6" cy="1055.9" r="3.8"/><circle cx="255.6" cy="1055.4" r="3.8"/><circle cx="248.2" cy="1062" r="3.8"/><circle cx="252.9" cy="1035.6" r="3.8"/><circle cx="260.9" cy="1069.3" r="3.8"/><circle cx="262.2" cy="1019.1" r="3.8"/><circle cx="253" cy="1001.4" r="3.8"/><circle cx="241" cy="1039.1" r="3.8"/><circle cx="250.8" cy="1050.1" r="3.8"/><circle cx="251.2" cy="1066.9" r="3.8"/><circle cx="244" cy="1034.9" r="3.8"/><circle cx="256.2" cy="1032.3" r="3.8"/><circle cx="246.7" cy="1023.7" r="3.8"/><circle cx="240.9" cy="1022.5" r="3.8"/><circle cx="261.1" cy="1062" r="3.8"/><circle cx="246.1" cy="1038.1" r="3.8"/><circle cx="243.7" cy="1020.3" r="3.8"/><circle cx="242.6" cy="1042.1" r="3.8"/><circle cx="263.2" cy="1051.9" r="3.8"/><circle cx="245.5" cy="1035.5" r="3.8"/><circle cx="254.4" cy="1044.7" r="3.8"/><circle cx="261.1" cy="1049.4" r="3.8"/><circle cx="239.9" cy="1055.4" r="3.8"/><circle cx="248" cy="1025.6" r="3.8"/><circle cx="243.2" cy="1048.7" r="3.8"/><circle cx="250.7" cy="1038.7" r="3.8"/><circle cx="240.4" cy="1013.5" r="3.8"/><circle cx="244.9" cy="990.6" r="3.8"/><circle cx="245.2" cy="989.2" r="3.8"/><circle cx="242" cy="999.7" r="3.8"/><circle cx="240.4" cy="996.5" r="3.8"/><circle cx="249.3" cy="986.8" r="3.8"/><circle cx="240.8" cy="998.5" r="3.8"/><circle cx="296.1" cy="1221.5" r="3.8"/><circle cx="306.7" cy="1215.8" r="3.8"/><circle cx="306.7" cy="1227.1" r="3.8"/><circle cx="289.5" cy="1243.7" r="3.8"/><circle cx="308" cy="1251.7" r="3.8"/><circle cx="287.7" cy="1227.1" r="3.8"/><circle cx="297.6" cy="1216.2" r="3.8"/><circle cx="311.2" cy="1268.2" r="3.8"/><circle cx="293.3" cy="1270.9" r="3.8"/><circle cx="293.4" cy="1225.4" r="3.8"/><circle cx="313.3" cy="1228.9" r="3.8"/><circle cx="307.5" cy="1252.7" r="3.8"/><circle cx="306.5" cy="1257.9" r="3.8"/><circle cx="300.4" cy="1248.4" r="3.8"/><circle cx="296.5" cy="1268.8" r="3.8"/><circle cx="291.8" cy="1223" r="3.8"/><circle cx="291" cy="1263.2" r="3.8"/><circle cx="289.2" cy="1263.8" r="3.8"/><circle cx="307" cy="1236.6" r="3.8"/><circle cx="296.5" cy="1231.4" r="3.8"/><circle cx="299.2" cy="1232.9" r="3.8"/><circle cx="295.1" cy="1263.9" r="3.8"/><circle cx="291.6" cy="1267.1" r="3.8"/><circle cx="312" cy="1254.3" r="3.8"/><circle cx="296.8" cy="1246.9" r="3.8"/><circle cx="296.7" cy="1227.7" r="3.8"/><circle cx="293.3" cy="1225.5" r="3.8"/><circle cx="289.3" cy="1217.2" r="3.8"/><circle cx="290.8" cy="1263.2" r="3.8"/><circle cx="306.1" cy="1268.8" r="3.8"/><circle cx="284.3" cy="1252.8" r="3.8"/><circle cx="293.5" cy="1238.2" r="3.8"/><circle cx="315.7" cy="1237.4" r="3.8"/><circle cx="313.2" cy="1211.2" r="3.8"/><circle cx="308.1" cy="1232.7" r="3.8"/><circle cx="304.4" cy="1233.2" r="3.8"/><circle cx="309.4" cy="1226.8" r="3.8"/><circle cx="310.9" cy="1244.3" r="3.8"/><circle cx="307.2" cy="1224.3" r="3.8"/><circle cx="305.4" cy="1243.6" r="3.8"/><circle cx="290" cy="1242.7" r="3.8"/><circle cx="308.6" cy="1247.5" r="3.8"/><circle cx="296.2" cy="1261.5" r="3.8"/><circle cx="291.4" cy="1226" r="3.8"/><circle cx="290" cy="1263.6" r="3.8"/><circle cx="299.5" cy="1231.9" r="3.8"/><circle cx="288" cy="1226.6" r="3.8"/><circle cx="297.2" cy="1235.7" r="3.8"/><circle cx="311.3" cy="1229.2" r="3.8"/><circle cx="298.6" cy="1268.5" r="3.8"/><circle cx="295.6" cy="1254.8" r="3.8"/><circle cx="310.3" cy="1213.8" r="3.8"/><circle cx="292.2" cy="1268.9" r="3.8"/><circle cx="301.9" cy="1220.3" r="3.8"/><circle cx="287.8" cy="1220.2" r="3.8"/><circle cx="313.6" cy="1219.2" r="3.8"/><circle cx="310" cy="1249.4" r="3.8"/><circle cx="315.2" cy="1252.9" r="3.8"/><circle cx="294.7" cy="1220.6" r="3.8"/><circle cx="314.7" cy="1221.8" r="3.8"/><circle cx="305.4" cy="1261.2" r="3.8"/><circle cx="315.6" cy="1230.5" r="3.8"/><circle cx="288.9" cy="1223.6" r="3.8"/><circle cx="293.2" cy="1212.6" r="3.8"/><circle cx="303.7" cy="1252.5" r="3.8"/><circle cx="294.7" cy="1253.6" r="3.8"/><circle cx="293.9" cy="1214" r="3.8"/><circle cx="310.3" cy="1252.4" r="3.8"/><circle cx="290.8" cy="1227.3" r="3.8"/><circle cx="312.1" cy="1254.3" r="3.8"/><circle cx="287.2" cy="1225.2" r="3.8"/><circle cx="306.2" cy="1229.8" r="3.8"/><circle cx="313.5" cy="1214.4" r="3.8"/><circle cx="313.2" cy="1211.4" r="3.8"/><circle cx="303" cy="1258" r="3.8"/><circle cx="308.2" cy="1217" r="3.8"/><circle cx="313.4" cy="1227.4" r="3.8"/><circle cx="301" cy="1264.6" r="3.8"/><circle cx="299.3" cy="1231.4" r="3.8"/><circle cx="295.7" cy="1265" r="3.8"/><circle cx="292.7" cy="1243.8" r="3.8"/><circle cx="289.1" cy="1230" r="3.8"/><circle cx="284.4" cy="1268.7" r="3.8"/><circle cx="288.4" cy="1219.5" r="3.8"/><circle cx="310.2" cy="1242.7" r="3.8"/><circle cx="308.5" cy="1221.8" r="3.8"/><circle cx="304.9" cy="1225.5" r="3.8"/><circle cx="295.6" cy="1267.6" r="3.8"/><circle cx="313.6" cy="1270.4" r="3.8"/><circle cx="292.2" cy="1257.1" r="3.8"/><circle cx="307.2" cy="1265.5" r="3.8"/><circle cx="305.6" cy="1265.1" r="3.8"/><circle cx="313.7" cy="1222.7" r="3.8"/><circle cx="288.2" cy="1231.9" r="3.8"/><circle cx="309.9" cy="1253.1" r="3.8"/><circle cx="303.1" cy="1230.7" r="3.8"/><circle cx="292.1" cy="1247.7" r="3.8"/><circle cx="305.7" cy="1268.5" r="3.8"/><circle cx="284.9" cy="1248.3" r="3.8"/><circle cx="302.9" cy="1252.8" r="3.8"/><circle cx="298" cy="1250.7" r="3.8"/><circle cx="306.4" cy="1215.8" r="3.8"/><circle cx="307.2" cy="1212.3" r="3.8"/><circle cx="311.3" cy="1227.9" r="3.8"/><circle cx="295.3" cy="1226.6" r="3.8"/><circle cx="290.8" cy="1214.6" r="3.8"/><circle cx="301.4" cy="1241.7" r="3.8"/><circle cx="291.9" cy="1271.5" r="3.8"/><circle cx="294" cy="1227" r="3.8"/><circle cx="302.1" cy="1238.8" r="3.8"/><circle cx="288.2" cy="1237.6" r="3.8"/><circle cx="310.4" cy="1250.5" r="3.8"/><circle cx="284.6" cy="1271.1" r="3.8"/><circle cx="287.4" cy="1236.2" r="3.8"/><circle cx="296.3" cy="1260.1" r="3.8"/><circle cx="307.9" cy="1244.1" r="3.8"/><circle cx="314.9" cy="1228.2" r="3.8"/><circle cx="300.6" cy="1233.1" r="3.8"/><circle cx="288.8" cy="1252.7" r="3.8"/><circle cx="315.8" cy="1212.5" r="3.8"/><circle cx="311" cy="1244.3" r="3.8"/><circle cx="312.9" cy="1219.4" r="3.8"/><circle cx="298.8" cy="1270.9" r="3.8"/><circle cx="312.6" cy="1230.4" r="3.8"/><circle cx="313.7" cy="1236.7" r="3.8"/><circle cx="303" cy="1226.8" r="3.8"/><circle cx="304" cy="1248.9" r="3.8"/><circle cx="290.6" cy="1219.1" r="3.8"/><circle cx="292.6" cy="1247.5" r="3.8"/><circle cx="299.2" cy="1268" r="3.8"/><circle cx="311.8" cy="1227.5" r="3.8"/><circle cx="286.6" cy="1232.1" r="3.8"/><circle cx="308.9" cy="1238.6" r="3.8"/><circle cx="301.6" cy="1264.6" r="3.8"/><circle cx="296" cy="1215.4" r="3.8"/><circle cx="292.4" cy="1238.9" r="3.8"/><circle cx="289.4" cy="1232.4" r="3.8"/><circle cx="312.3" cy="1270.9" r="3.8"/><circle cx="307.3" cy="1253.3" r="3.8"/><circle cx="294" cy="1254.5" r="3.8"/><circle cx="310.2" cy="1216.9" r="3.8"/><circle cx="295.6" cy="1241.6" r="3.8"/><circle cx="311.6" cy="1227.2" r="3.8"/><circle cx="285.2" cy="1264.5" r="3.8"/><circle cx="304.7" cy="1211.7" r="3.8"/><circle cx="297" cy="1235.3" r="3.8"/><circle cx="288" cy="1263" r="3.8"/><circle cx="297.5" cy="1229.2" r="3.8"/><circle cx="315.4" cy="1268.3" r="3.8"/><circle cx="295.2" cy="1215.5" r="3.8"/><circle cx="290.2" cy="1254.5" r="3.8"/><circle cx="315.3" cy="1217.9" r="3.8"/><circle cx="289.5" cy="1269.7" r="3.8"/><circle cx="292.8" cy="1265.9" r="3.8"/><circle cx="306.2" cy="1223.9" r="3.8"/><circle cx="286.1" cy="1264.9" r="3.8"/><circle cx="305.5" cy="1271.7" r="3.8"/><circle cx="286.3" cy="1231.9" r="3.8"/><circle cx="304" cy="1227.5" r="3.8"/><circle cx="310.4" cy="1260.7" r="3.8"/><circle cx="306.3" cy="1211.9" r="3.8"/><circle cx="313" cy="1237.2" r="3.8"/><circle cx="306" cy="1235.8" r="3.8"/><circle cx="300.4" cy="1231.9" r="3.8"/><circle cx="299.3" cy="1224.8" r="3.8"/><circle cx="293.6" cy="1240.2" r="3.8"/><circle cx="289.6" cy="1265.7" r="3.8"/><circle cx="286.6" cy="1229.5" r="3.8"/><circle cx="293.3" cy="1221" r="3.8"/><circle cx="314.4" cy="1227.5" r="3.8"/><circle cx="288.5" cy="1220.8" r="3.8"/><circle cx="309.5" cy="1230.9" r="3.8"/><circle cx="296.2" cy="1252.6" r="3.8"/><circle cx="313.4" cy="1214.7" r="3.8"/><circle cx="289.1" cy="1221.1" r="3.8"/><circle cx="307.6" cy="1249.4" r="3.8"/><circle cx="287.9" cy="1239.3" r="3.8"/><circle cx="304" cy="1254.1" r="3.8"/><circle cx="302.8" cy="1233.3" r="3.8"/><circle cx="286.2" cy="1267.5" r="3.8"/><circle cx="314.6" cy="1246.4" r="3.8"/><circle cx="313.4" cy="1246" r="3.8"/><circle cx="298" cy="1257.4" r="3.8"/><circle cx="293.2" cy="1269" r="3.8"/><circle cx="299.6" cy="1261.4" r="3.8"/><circle cx="307" cy="1253.1" r="3.8"/><circle cx="302.2" cy="1225.3" r="3.8"/><circle cx="294.8" cy="1236.8" r="3.8"/><circle cx="297.4" cy="1227.9" r="3.8"/><circle cx="301.1" cy="1243" r="3.8"/><circle cx="290.7" cy="1221.8" r="3.8"/><circle cx="313.7" cy="1245.9" r="3.8"/><circle cx="297.7" cy="1240.2" r="3.8"/><circle cx="290.2" cy="1268.6" r="3.8"/><circle cx="287.9" cy="1265.1" r="3.8"/><circle cx="286" cy="1269.9" r="3.8"/><circle cx="294.9" cy="1242.2" r="3.8"/><circle cx="299.5" cy="1260.2" r="3.8"/><circle cx="289.9" cy="1236.2" r="3.8"/><circle cx="312.9" cy="1253.3" r="3.8"/><circle cx="290.7" cy="1253.6" r="3.8"/><circle cx="310.6" cy="1233.9" r="3.8"/><circle cx="297.9" cy="1253.1" r="3.8"/><circle cx="293.1" cy="1229.4" r="3.8"/><circle cx="306" cy="1261.5" r="3.8"/><circle cx="301.1" cy="1231.1" r="3.8"/><circle cx="306.3" cy="1227.9" r="3.8"/><circle cx="295.9" cy="1243.7" r="3.8"/><circle cx="292.2" cy="1250.1" r="3.8"/><circle cx="310.9" cy="1233.8" r="3.8"/><circle cx="300.5" cy="1271.3" r="3.8"/><circle cx="300.6" cy="1221.9" r="3.8"/><circle cx="301.2" cy="1227.2" r="3.8"/><circle cx="295.2" cy="1233.3" r="3.8"/><circle cx="307.7" cy="1211.9" r="3.8"/><circle cx="290.3" cy="1216.9" r="3.8"/><circle cx="289.2" cy="1256.1" r="3.8"/><circle cx="298.1" cy="1245.4" r="3.8"/><circle cx="308.7" cy="1218.3" r="3.8"/><circle cx="289.9" cy="1241.4" r="3.8"/><circle cx="292.3" cy="1225.5" r="3.8"/><circle cx="314.1" cy="1225.1" r="3.8"/><circle cx="313" cy="1254.8" r="3.8"/><circle cx="288.8" cy="1246.2" r="3.8"/><circle cx="313.4" cy="1243.6" r="3.8"/><circle cx="308.1" cy="1239.6" r="3.8"/><circle cx="306.5" cy="1213.7" r="3.8"/><circle cx="303" cy="1229.8" r="3.8"/><circle cx="310.6" cy="1210.7" r="3.8"/><circle cx="287.2" cy="1264.7" r="3.8"/><circle cx="288.4" cy="1250.2" r="3.8"/><circle cx="314.5" cy="1248.6" r="3.8"/><circle cx="297.9" cy="1236.3" r="3.8"/><circle cx="311.2" cy="1211.3" r="3.8"/><circle cx="313.4" cy="1250.6" r="3.8"/><circle cx="311.8" cy="1253.5" r="3.8"/><circle cx="297.7" cy="1255" r="3.8"/><circle cx="294.2" cy="1261.3" r="3.8"/><circle cx="307.8" cy="1249.6" r="3.8"/><circle cx="312.6" cy="1217.1" r="3.8"/><circle cx="315.9" cy="1258.1" r="3.8"/><circle cx="312.9" cy="1269.5" r="3.8"/><circle cx="289.6" cy="1249.9" r="3.8"/><circle cx="303.1" cy="1222.5" r="3.8"/><circle cx="316" cy="1215.7" r="3.8"/><circle cx="303.4" cy="1228.8" r="3.8"/><circle cx="308.1" cy="1228.7" r="3.8"/><circle cx="294.4" cy="1244.2" r="3.8"/><circle cx="297.4" cy="1236.7" r="3.8"/><circle cx="299.3" cy="1222.6" r="3.8"/><circle cx="313.5" cy="1229.1" r="3.8"/><circle cx="296.2" cy="1227.2" r="3.8"/><circle cx="309.3" cy="1256.8" r="3.8"/><circle cx="289.2" cy="1234.9" r="3.8"/><circle cx="306.1" cy="1212.7" r="3.8"/><circle cx="298.4" cy="1247.1" r="3.8"/><circle cx="312.3" cy="1267.4" r="3.8"/><circle cx="314.4" cy="1215.2" r="3.8"/><circle cx="301.1" cy="1237.2" r="3.8"/><circle cx="308.7" cy="1270.6" r="3.8"/><circle cx="311" cy="1252.2" r="3.8"/><circle cx="305.1" cy="1237" r="3.8"/><circle cx="287.6" cy="1270.5" r="3.8"/><circle cx="286.2" cy="1235.5" r="3.8"/><circle cx="315.9" cy="1218.8" r="3.8"/><circle cx="301.8" cy="1269.1" r="3.8"/><circle cx="293.3" cy="1225.4" r="3.8"/><circle cx="313.6" cy="1238.1" r="3.8"/><circle cx="291.2" cy="1216.7" r="3.8"/><circle cx="307.4" cy="1258.8" r="3.8"/><circle cx="314.7" cy="1225.2" r="3.8"/><circle cx="282.7" cy="1271.7" r="3.8"/><circle cx="298.6" cy="1260.7" r="3.8"/><circle cx="298.7" cy="1245.9" r="3.8"/><circle cx="306" cy="1252.8" r="3.8"/><circle cx="304.7" cy="1220.9" r="3.8"/><circle cx="293.4" cy="1236.1" r="3.8"/><circle cx="301.5" cy="1270.7" r="3.8"/><circle cx="287.4" cy="1255.7" r="3.8"/><circle cx="296.6" cy="1259" r="3.8"/><circle cx="290.5" cy="1247.2" r="3.8"/><circle cx="298.1" cy="1269" r="3.8"/><circle cx="288.2" cy="1265.4" r="3.8"/><circle cx="285.8" cy="1267.2" r="3.8"/><circle cx="297.9" cy="1249.5" r="3.8"/><circle cx="291" cy="1269.4" r="3.8"/><circle cx="314.8" cy="1226.6" r="3.8"/><circle cx="311.1" cy="1233.1" r="3.8"/><circle cx="313.4" cy="1219.2" r="3.8"/><circle cx="308.7" cy="1221.9" r="3.8"/><circle cx="295.5" cy="1261.3" r="3.8"/><circle cx="313.6" cy="1253.9" r="3.8"/><circle cx="296.3" cy="1213.6" r="3.8"/><circle cx="302.5" cy="1258.4" r="3.8"/><circle cx="292" cy="1215.4" r="3.8"/><circle cx="302" cy="1267" r="3.8"/><circle cx="293.5" cy="1265.5" r="3.8"/><circle cx="286.2" cy="1262.9" r="3.8"/><circle cx="300.4" cy="1247.5" r="3.8"/><circle cx="300.9" cy="1239.6" r="3.8"/><circle cx="303.1" cy="1269.1" r="3.8"/><circle cx="307.7" cy="1227" r="3.8"/><circle cx="304.9" cy="1268.8" r="3.8"/><circle cx="300.8" cy="1241.1" r="3.8"/><circle cx="312.2" cy="1247.7" r="3.8"/><circle cx="315.1" cy="1232.7" r="3.8"/><circle cx="314.2" cy="1256" r="3.8"/><circle cx="303.6" cy="1239.5" r="3.8"/><circle cx="304.7" cy="1271.4" r="3.8"/><circle cx="312.1" cy="1221.8" r="3.8"/><circle cx="310.5" cy="1268.4" r="3.8"/><circle cx="302.9" cy="1266.1" r="3.8"/><circle cx="301.8" cy="1243.6" r="3.8"/><circle cx="310.4" cy="1249.2" r="3.8"/><circle cx="295.7" cy="1231.3" r="3.8"/><circle cx="313.7" cy="1258.7" r="3.8"/><circle cx="315.7" cy="1251.8" r="3.8"/><circle cx="292.4" cy="1223" r="3.8"/><circle cx="297.1" cy="1213.5" r="3.8"/><circle cx="298" cy="1265.9" r="3.8"/><circle cx="313.6" cy="1258" r="3.8"/><circle cx="301.2" cy="1226" r="3.8"/><circle cx="297.2" cy="1242.2" r="3.8"/><circle cx="288.7" cy="1256.3" r="3.8"/><circle cx="296.1" cy="1264" r="3.8"/><circle cx="311.6" cy="1246.5" r="3.8"/><circle cx="285" cy="1250.2" r="3.8"/><circle cx="294.9" cy="1223.6" r="3.8"/><circle cx="299.4" cy="1212.4" r="3.8"/><circle cx="313.5" cy="1214.7" r="3.8"/><circle cx="305.6" cy="1244.4" r="3.8"/><circle cx="302.9" cy="1256.7" r="3.8"/><circle cx="289.8" cy="1224" r="3.8"/><circle cx="311.5" cy="1222.8" r="3.8"/><circle cx="286.6" cy="1247.8" r="3.8"/><circle cx="286.8" cy="1235.5" r="3.8"/><circle cx="292.9" cy="1242.8" r="3.8"/><circle cx="305.8" cy="1245.6" r="3.8"/><circle cx="299.9" cy="1257.6" r="3.8"/><circle cx="298.4" cy="1235.1" r="3.8"/><circle cx="295.4" cy="1225" r="3.8"/><circle cx="303.2" cy="1241.2" r="3.8"/><circle cx="293.2" cy="1256.4" r="3.8"/><circle cx="298.9" cy="1249.3" r="3.8"/><circle cx="292.9" cy="1243.7" r="3.8"/><circle cx="296.6" cy="1211.7" r="3.8"/><circle cx="303" cy="1243.9" r="3.8"/><circle cx="310.6" cy="1210.5" r="3.8"/><circle cx="314.6" cy="1251.1" r="3.8"/><circle cx="308.7" cy="1227" r="3.8"/><circle cx="291" cy="1256.4" r="3.8"/><circle cx="290.4" cy="1252.7" r="3.8"/><circle cx="312.8" cy="1214.6" r="3.8"/><circle cx="293.8" cy="1265.8" r="3.8"/><circle cx="313.3" cy="1210.3" r="3.8"/><circle cx="283.7" cy="1269.1" r="3.8"/><circle cx="312.1" cy="1264.3" r="3.8"/><circle cx="304.6" cy="1215.6" r="3.8"/><circle cx="314.2" cy="1253.5" r="3.8"/><circle cx="302.5" cy="1238.1" r="3.8"/><circle cx="306.9" cy="1242.9" r="3.8"/><circle cx="300.9" cy="1263.6" r="3.8"/><circle cx="309.2" cy="1223.1" r="3.8"/><circle cx="310.2" cy="1243.7" r="3.8"/><circle cx="299" cy="1212.5" r="3.8"/><circle cx="306.2" cy="1229.9" r="3.8"/><circle cx="301.3" cy="1220.9" r="3.8"/><circle cx="310.7" cy="1260.1" r="3.8"/><circle cx="291.1" cy="1224.8" r="3.8"/><circle cx="291.9" cy="1259" r="3.8"/><circle cx="312.2" cy="1223.2" r="3.8"/><circle cx="290.5" cy="1252.3" r="3.8"/><circle cx="286.3" cy="1267.1" r="3.8"/><circle cx="315.4" cy="1263" r="3.8"/><circle cx="297.7" cy="1245.8" r="3.8"/><circle cx="300" cy="1234.3" r="3.8"/><circle cx="305.1" cy="1237.1" r="3.8"/><circle cx="313.5" cy="1219.2" r="3.8"/><circle cx="293.5" cy="1216.7" r="3.8"/><circle cx="310.7" cy="1227.6" r="3.8"/><circle cx="295.4" cy="1219.6" r="3.8"/><circle cx="314.4" cy="1268.4" r="3.8"/><circle cx="289" cy="1220.7" r="3.8"/><circle cx="314.6" cy="1220" r="3.8"/><circle cx="304.3" cy="1263.2" r="3.8"/><circle cx="303.1" cy="1212.9" r="3.8"/><circle cx="294.2" cy="1264.9" r="3.8"/><circle cx="308.6" cy="1247.1" r="3.8"/><circle cx="307.7" cy="1260.1" r="3.8"/><circle cx="289.3" cy="1229.2" r="3.8"/><circle cx="310.1" cy="1262.4" r="3.8"/><circle cx="312.8" cy="1232.7" r="3.8"/><circle cx="298.2" cy="1242.9" r="3.8"/><circle cx="308.7" cy="1232.7" r="3.8"/><circle cx="303.3" cy="1213.9" r="3.8"/><circle cx="284.1" cy="1256.7" r="3.8"/><circle cx="284.2" cy="1271.2" r="3.8"/><circle cx="289.5" cy="1242.1" r="3.8"/><circle cx="295" cy="1247" r="3.8"/><circle cx="285.5" cy="1257.9" r="3.8"/><circle cx="291.1" cy="1224.4" r="3.8"/><circle cx="313.9" cy="1228.6" r="3.8"/><circle cx="310.9" cy="1264.3" r="3.8"/><circle cx="310.6" cy="1258.8" r="3.8"/><circle cx="296.3" cy="1270.6" r="3.8"/><circle cx="295.3" cy="1248.4" r="3.8"/><circle cx="314.3" cy="1252" r="3.8"/><circle cx="300.9" cy="1229.9" r="3.8"/><circle cx="304.2" cy="1238" r="3.8"/><circle cx="295.1" cy="1239.9" r="3.8"/><circle cx="298.7" cy="1227.8" r="3.8"/><circle cx="291.5" cy="1267.6" r="3.8"/><circle cx="305.4" cy="1238.5" r="3.8"/><circle cx="303.6" cy="1262.9" r="3.8"/><circle cx="311.2" cy="1236.7" r="3.8"/><circle cx="298.5" cy="1272" r="3.8"/><circle cx="300.6" cy="1235" r="3.8"/><circle cx="312.7" cy="1270.6" r="3.8"/><circle cx="290.5" cy="1246.6" r="3.8"/><circle cx="301.8" cy="1243.9" r="3.8"/><circle cx="305.5" cy="1227.3" r="3.8"/><circle cx="304.3" cy="1223.7" r="3.8"/><circle cx="311.6" cy="1210.8" r="3.8"/><circle cx="306.5" cy="1231.3" r="3.8"/><circle cx="309.9" cy="1215.7" r="3.8"/><circle cx="295.7" cy="1214.7" r="3.8"/><circle cx="287.1" cy="1242" r="3.8"/><circle cx="306.5" cy="1232.6" r="3.8"/><circle cx="287.3" cy="1251" r="3.8"/><circle cx="293.6" cy="1243.9" r="3.8"/><circle cx="310.5" cy="1223.1" r="3.8"/><circle cx="301.3" cy="1240.6" r="3.8"/><circle cx="308.4" cy="1238.3" r="3.8"/><circle cx="304.5" cy="1262.2" r="3.8"/><circle cx="305.5" cy="1237.8" r="3.8"/><circle cx="313.4" cy="1248.7" r="3.8"/><circle cx="310.5" cy="1217.1" r="3.8"/><circle cx="299.7" cy="1241.7" r="3.8"/><circle cx="310.3" cy="1237.9" r="3.8"/><circle cx="314.9" cy="1213.8" r="3.8"/><circle cx="313.4" cy="1267.5" r="3.8"/><circle cx="309" cy="1220.4" r="3.8"/><circle cx="310.4" cy="1242.5" r="3.8"/><circle cx="300.4" cy="1251.7" r="3.8"/><circle cx="312.6" cy="1223.2" r="3.8"/><circle cx="314.2" cy="1223" r="3.8"/><circle cx="307.2" cy="1237.2" r="3.8"/><circle cx="314.4" cy="1218.3" r="3.8"/><circle cx="291.8" cy="1216.8" r="3.8"/><circle cx="287.3" cy="1256.6" r="3.8"/><circle cx="287.8" cy="1270.6" r="3.8"/><circle cx="309.4" cy="1214.3" r="3.8"/><circle cx="299.8" cy="1250.8" r="3.8"/><circle cx="314.3" cy="1259.3" r="3.8"/><circle cx="298.7" cy="1221.5" r="3.8"/><circle cx="297.2" cy="1270.4" r="3.8"/><circle cx="301.3" cy="1254.6" r="3.8"/><circle cx="310" cy="1265.5" r="3.8"/><circle cx="291.4" cy="1219.6" r="3.8"/><circle cx="314.4" cy="1216.1" r="3.8"/><circle cx="315.7" cy="1237.1" r="3.8"/><circle cx="297.5" cy="1254.7" r="3.8"/><circle cx="297.5" cy="1239.6" r="3.8"/><circle cx="287.4" cy="1257.2" r="3.8"/><circle cx="288.1" cy="1237.6" r="3.8"/><circle cx="285.2" cy="1244.2" r="3.8"/><circle cx="316" cy="1219" r="3.8"/><circle cx="308.6" cy="1270.7" r="3.8"/><circle cx="289.7" cy="1261.3" r="3.8"/><circle cx="308.4" cy="1253.9" r="3.8"/><circle cx="311.4" cy="1232" r="3.8"/><circle cx="287.5" cy="1243.5" r="3.8"/><circle cx="314.9" cy="1226.4" r="3.8"/><circle cx="304.6" cy="1226.1" r="3.8"/><circle cx="313.1" cy="1215.9" r="3.8"/><circle cx="305.4" cy="1249.7" r="3.8"/><circle cx="294.9" cy="1266.1" r="3.8"/><circle cx="309.7" cy="1232.8" r="3.8"/><circle cx="314.7" cy="1261.7" r="3.8"/><circle cx="308.9" cy="1220.3" r="3.8"/><circle cx="289.7" cy="1197.2" r="3.8"/><circle cx="289" cy="1212.5" r="3.8"/><circle cx="298.2" cy="1211.4" r="3.8"/><circle cx="300.4" cy="1201.7" r="3.8"/><circle cx="287.1" cy="1198.2" r="3.8"/><circle cx="305.3" cy="1205.5" r="3.8"/><circle cx="295.8" cy="1208.8" r="3.8"/><circle cx="307.5" cy="1208.2" r="3.8"/><circle cx="307.3" cy="1202.2" r="3.8"/><circle cx="305.1" cy="1198.8" r="3.8"/><circle cx="292.5" cy="1207.2" r="3.8"/><circle cx="309.4" cy="1199" r="3.8"/><circle cx="292.4" cy="1203.1" r="3.8"/><circle cx="287.2" cy="1201" r="3.8"/><circle cx="315.8" cy="1207.7" r="3.8"/><circle cx="294.8" cy="1196.7" r="3.8"/><circle cx="307.3" cy="1211.1" r="3.8"/><circle cx="298.9" cy="1196.1" r="3.8"/><circle cx="315.1" cy="1211" r="3.8"/><circle cx="309.3" cy="1208.9" r="3.8"/><circle cx="298.2" cy="1206.8" r="3.8"/><circle cx="293.7" cy="1199.9" r="3.8"/><circle cx="307" cy="1205.6" r="3.8"/><circle cx="308.3" cy="1204.4" r="3.8"/><circle cx="287.8" cy="1199.8" r="3.8"/><circle cx="309.7" cy="1200.3" r="3.8"/><circle cx="300.7" cy="1200.6" r="3.8"/><circle cx="293.5" cy="1213.2" r="3.8"/><circle cx="309.5" cy="1212.7" r="3.8"/><circle cx="297.7" cy="1205.9" r="3.8"/><circle cx="300.2" cy="1275.1" r="3.8"/><circle cx="285.4" cy="1275.5" r="3.8"/><circle cx="318.5" cy="1275.6" r="3.8"/><circle cx="164.2" cy="1275.4" r="3.8"/><circle cx="188.2" cy="1275.5" r="3.8"/><circle cx="342.1" cy="1274.9" r="3.8"/><circle cx="156.9" cy="1275.8" r="3.8"/><circle cx="162.8" cy="1275.2" r="3.8"/><circle cx="195.7" cy="1275.4" r="3.8"/><circle cx="221.8" cy="1276" r="3.8"/><circle cx="183.7" cy="1275.8" r="3.8"/><circle cx="320.6" cy="1274.2" r="3.8"/><circle cx="174.8" cy="1274.1" r="3.8"/><circle cx="373.2" cy="1275.5" r="3.8"/><circle cx="372.5" cy="1275.1" r="3.8"/><circle cx="392.4" cy="1275.2" r="3.8"/><circle cx="242.7" cy="1274.1" r="3.8"/><circle cx="161.2" cy="1275.6" r="3.8"/><circle cx="223.1" cy="1274" r="3.8"/><circle cx="243.1" cy="1275.5" r="3.8"/><circle cx="377.4" cy="1275.8" r="3.8"/><circle cx="346.5" cy="1275.2" r="3.8"/><circle cx="409.1" cy="1275.9" r="3.8"/><circle cx="238.2" cy="1274.5" r="3.8"/><circle cx="376.5" cy="1274" r="3.8"/><circle cx="373.3" cy="1274.4" r="3.8"/><circle cx="297.4" cy="1274.2" r="3.8"/><circle cx="184.4" cy="1274.6" r="3.8"/><circle cx="257.1" cy="1274.2" r="3.8"/><circle cx="366.5" cy="1275.8" r="3.8"/><circle cx="211.6" cy="1275.7" r="3.8"/><circle cx="411" cy="1274.5" r="3.8"/><circle cx="317.4" cy="1274.5" r="3.8"/><circle cx="336.8" cy="1274" r="3.8"/><circle cx="360.2" cy="1274.3" r="3.8"/><circle cx="206.6" cy="1276" r="3.8"/><circle cx="386.9" cy="1275.8" r="3.8"/><circle cx="151.6" cy="1275.1" r="3.8"/><circle cx="355" cy="1275.1" r="3.8"/><circle cx="316.5" cy="1275.8" r="3.8"/><circle cx="217" cy="1275.4" r="3.8"/><circle cx="155.8" cy="1275.5" r="3.8"/><circle cx="394.2" cy="1274.7" r="3.8"/><circle cx="343" cy="1274.9" r="3.8"/><circle cx="157.7" cy="1274.4" r="3.8"/><circle cx="183.4" cy="1275" r="3.8"/><circle cx="348.2" cy="1274.3" r="3.8"/><circle cx="203.8" cy="1275.8" r="3.8"/><circle cx="406" cy="1275.3" r="3.8"/><circle cx="217.5" cy="1275.1" r="3.8"/><circle cx="280.4" cy="1274.3" r="3.8"/><circle cx="355.1" cy="1274.8" r="3.8"/><circle cx="197.6" cy="1274.3" r="3.8"/><circle cx="349" cy="1275.6" r="3.8"/><circle cx="353.4" cy="1275.6" r="3.8"/><circle cx="365.6" cy="1274.1" r="3.8"/><circle cx="285.7" cy="1275.4" r="3.8"/><circle cx="154.5" cy="1274.7" r="3.8"/><circle cx="249.9" cy="1275.7" r="3.8"/><circle cx="220" cy="1274.2" r="3.8"/><circle cx="281.3" cy="1275.6" r="3.8"/><circle cx="170.7" cy="1274.5" r="3.8"/><circle cx="341.6" cy="1274.6" r="3.8"/><circle cx="222.2" cy="1276" r="3.8"/><circle cx="219" cy="1274.9" r="3.8"/><circle cx="164.4" cy="1274.7" r="3.8"/><circle cx="250.2" cy="1275.5" r="3.8"/><circle cx="387.7" cy="1274.1" r="3.8"/><circle cx="411.2" cy="1274.2" r="3.8"/><circle cx="379.5" cy="1275.7" r="3.8"/><circle cx="339.7" cy="1275.5" r="3.8"/><circle cx="283.2" cy="1274.7" r="3.8"/><circle cx="158" cy="1275.2" r="3.8"/><circle cx="364.4" cy="1274.9" r="3.8"/><circle cx="152.6" cy="1275.3" r="3.8"/><circle cx="205.8" cy="1275.8" r="3.8"/><circle cx="224.8" cy="1275.3" r="3.8"/><circle cx="348.4" cy="1275.8" r="3.8"/><circle cx="351.1" cy="1275.8" r="3.8"/><circle cx="162.7" cy="1275.5" r="3.8"/><circle cx="286.7" cy="1274.9" r="3.8"/><circle cx="227.3" cy="1274.1" r="3.8"/><circle cx="151.1" cy="1275.4" r="3.8"/><circle cx="185.2" cy="1275.5" r="3.8"/><circle cx="167" cy="1275.1" r="3.8"/><circle cx="337.1" cy="1274.7" r="3.8"/><circle cx="378.4" cy="1276" r="3.8"/><circle cx="219.4" cy="1274.1" r="3.8"/><circle cx="185.4" cy="1274.4" r="3.8"/><circle cx="229.1" cy="1275.9" r="3.8"/><circle cx="397.9" cy="1274.7" r="3.8"/><circle cx="331.7" cy="1275.4" r="3.8"/><circle cx="154.7" cy="1275.3" r="3.8"/><circle cx="274" cy="1274.4" r="3.8"/><circle cx="180.8" cy="1275.1" r="3.8"/><circle cx="406.6" cy="1274.3" r="3.8"/><circle cx="263.3" cy="1274" r="3.8"/><circle cx="228.4" cy="1275.7" r="3.8"/><circle cx="316.5" cy="1274.6" r="3.8"/><circle cx="189.6" cy="1275.8" r="3.8"/><circle cx="390.9" cy="1274.9" r="3.8"/><circle cx="348.5" cy="1275.3" r="3.8"/><circle cx="292.7" cy="1274.9" r="3.8"/><circle cx="170.8" cy="1274.1" r="3.8"/><circle cx="218.5" cy="1274.7" r="3.8"/><circle cx="268" cy="1274" r="3.8"/><circle cx="305.3" cy="1274.1" r="3.8"/><circle cx="215.6" cy="1275.3" r="3.8"/><circle cx="355.2" cy="1275.8" r="3.8"/><circle cx="219.6" cy="1275.7" r="3.8"/><circle cx="173.2" cy="1274.5" r="3.8"/><circle cx="252.7" cy="1274.4" r="3.8"/><circle cx="213.6" cy="1274.2" r="3.8"/><circle cx="152.9" cy="1275.5" r="3.8"/><circle cx="226.5" cy="1274.5" r="3.8"/><circle cx="229.3" cy="1275.9" r="3.8"/><circle cx="326.9" cy="1275.1" r="3.8"/><circle cx="349.8" cy="1274.7" r="3.8"/><circle cx="221.8" cy="1274.6" r="3.8"/><circle cx="360.8" cy="1275.8" r="3.8"/><circle cx="407.8" cy="1275.4" r="3.8"/><circle cx="295.5" cy="1274.7" r="3.8"/><circle cx="247.9" cy="1274.8" r="3.8"/><circle cx="154.1" cy="1274.6" r="3.8"/><circle cx="310.6" cy="1274.6" r="3.8"/><circle cx="390.7" cy="1274.9" r="3.8"/><circle cx="215.4" cy="1275.4" r="3.8"/><circle cx="297" cy="1275.6" r="3.8"/><circle cx="209.3" cy="1275.3" r="3.8"/><circle cx="228.4" cy="1275.6" r="3.8"/><circle cx="285.5" cy="1274.7" r="3.8"/><circle cx="232.9" cy="1275.2" r="3.8"/><circle cx="258.6" cy="1274.6" r="3.8"/><circle cx="267" cy="1275.7" r="3.8"/><circle cx="152.7" cy="1275.6" r="3.8"/><circle cx="215.6" cy="1275.5" r="3.8"/><circle cx="376.8" cy="1274.9" r="3.8"/><circle cx="196.5" cy="1274.9" r="3.8"/><circle cx="256.9" cy="1275.6" r="3.8"/><circle cx="337.5" cy="1274.5" r="3.8"/><circle cx="273.6" cy="1274.7" r="3.8"/><circle cx="187.9" cy="1274.8" r="3.8"/><circle cx="343.1" cy="1274.7" r="3.8"/><circle cx="237.5" cy="1275.6" r="3.8"/><circle cx="167" cy="1274.6" r="3.8"/><circle cx="195.9" cy="1275.4" r="3.8"/><circle cx="274.3" cy="1274.7" r="3.8"/><circle cx="270.5" cy="1274.6" r="3.8"/><circle cx="351.4" cy="1276" r="3.8"/><circle cx="314.1" cy="1274.5" r="3.8"/><circle cx="198.2" cy="1275.3" r="3.8"/><circle cx="401.1" cy="1274.4" r="3.8"/><circle cx="375" cy="1274.2" r="3.8"/><circle cx="284.6" cy="1274.7" r="3.8"/><circle cx="203.7" cy="1274.5" r="3.8"/><circle cx="265.2" cy="1275.3" r="3.8"/><circle cx="234.8" cy="1275.3" r="3.8"/><circle cx="312.6" cy="1275.4" r="3.8"/><circle cx="346.6" cy="1275.2" r="3.8"/><circle cx="338.8" cy="1274.4" r="3.8"/><circle cx="189.1" cy="1275.8" r="3.8"/><circle cx="355.2" cy="1274.1" r="3.8"/><circle cx="228.9" cy="1274.1" r="3.8"/><circle cx="273.1" cy="1275.1" r="3.8"/><circle cx="319.2" cy="1275.1" r="3.8"/><circle cx="242.3" cy="1274.8" r="3.8"/><circle cx="175.8" cy="1274.2" r="3.8"/><circle cx="369.9" cy="1274" r="3.8"/><circle cx="178.1" cy="1275.8" r="3.8"/><circle cx="282" cy="1276" r="3.8"/><circle cx="271" cy="1274.2" r="3.8"/><circle cx="275.9" cy="1271.4" r="3.8"/><circle cx="275" cy="1273.5" r="3.8"/><circle cx="249.9" cy="1274.4" r="3.8"/><circle cx="241.9" cy="1271.9" r="3.8"/><circle cx="286.4" cy="1271.7" r="3.8"/><circle cx="248.3" cy="1271.3" r="3.8"/><circle cx="280.1" cy="1272" r="3.8"/><circle cx="259.5" cy="1271.4" r="3.8"/><circle cx="265.5" cy="1272.5" r="3.8"/><circle cx="246" cy="1274.3" r="3.8"/><circle cx="264.1" cy="1272.4" r="3.8"/><circle cx="306.4" cy="1271.6" r="3.8"/><circle cx="286.1" cy="1272.1" r="3.8"/><circle cx="278" cy="1275.7" r="3.8"/><circle cx="257.3" cy="1275.4" r="3.8"/><circle cx="261.2" cy="1273.8" r="3.8"/><circle cx="243.1" cy="1275" r="3.8"/><circle cx="301.6" cy="1274.8" r="3.8"/><circle cx="276.2" cy="1275.7" r="3.8"/><circle cx="256.7" cy="1274.7" r="3.8"/><circle cx="300.4" cy="1273.7" r="3.8"/><circle cx="241.8" cy="1274.4" r="3.8"/><circle cx="272.9" cy="1275.4" r="3.8"/><circle cx="312.1" cy="1271.6" r="3.8"/><circle cx="291.3" cy="1274.8" r="3.8"/><circle cx="291.9" cy="1271.2" r="3.8"/><circle cx="295.9" cy="1271.6" r="3.8"/><circle cx="306.8" cy="1274.2" r="3.8"/><circle cx="241.7" cy="1273.5" r="3.8"/><circle cx="285.8" cy="1273.7" r="3.8"/><circle cx="276.9" cy="1271.7" r="3.8"/><circle cx="276.3" cy="1273.8" r="3.8"/><circle cx="244.9" cy="1272.1" r="3.8"/><circle cx="295.5" cy="1273.7" r="3.8"/><circle cx="263.1" cy="1271.4" r="3.8"/><circle cx="262" cy="1274.7" r="3.8"/><circle cx="261.2" cy="1275.7" r="3.8"/><circle cx="256.3" cy="1271.9" r="3.8"/><circle cx="273.1" cy="1275.7" r="3.8"/><circle cx="312.5" cy="1272.7" r="3.8"/><circle cx="249.5" cy="1273" r="3.8"/><circle cx="255.4" cy="1275.9" r="3.8"/><circle cx="315" cy="1274.4" r="3.8"/><circle cx="296.4" cy="1274.6" r="3.8"/><circle cx="294.4" cy="1275.7" r="3.8"/><circle cx="290.6" cy="1273.9" r="3.8"/><circle cx="260.9" cy="1274.3" r="3.8"/><circle cx="309.9" cy="1271.9" r="3.8"/><circle cx="315.4" cy="1271.7" r="3.8"/>
</g>
<g fill="#66c2a5">
<circle cx="89.9" cy="1050.1" r="3.8"/><circle cx="236" cy="981.8" r="3.8"/><circle cx="226.4" cy="992.9" r="3.8"/><circle cx="234.4" cy="990.5" r="3.8"/><circle cx="202.3" cy="1001.7" r="3.8"/><circle cx="197.5" cy="1011.2" r="3.8"/><circle cx="209.8" cy="1010.7" r="3.8"/><circle cx="226.4" cy="1017.5" r="3.8"/><circle cx="234.7" cy="1031.5" r="3.8"/><circle cx="210.7" cy="1034.2" r="3.8"/><circle cx="223.7" cy="1037.9" r="3.8"/><circle cx="219.3" cy="1057.7" r="3.8"/><circle cx="211" cy="1075.2" r="3.8"/><circle cx="200.2" cy="1080.3" r="3.8"/><circle cx="222.2" cy="1083.9" r="3.8"/><circle cx="213.7" cy="1086.6" r="3.8"/><circle cx="194.4" cy="1089.8" r="3.8"/><circle cx="226.4" cy="1093.5" r="3.8"/><circle cx="198.7" cy="1097" r="3.8"/><circle cx="204.2" cy="1100.9" r="3.8"/><circle cx="216.1" cy="1098.5" r="3.8"/><circle cx="217.7" cy="1104.1" r="3.8"/><circle cx="219.3" cy="1109.7" r="3.8"/><circle cx="226.4" cy="1100.9" r="3.8"/><circle cx="230.4" cy="1106.5" r="3.8"/><circle cx="232" cy="1112.8" r="3.8"/><circle cx="231.2" cy="1119.2" r="3.8"/><circle cx="220.9" cy="1120" r="3.8"/><circle cx="228" cy="1127.9" r="3.8"/><circle cx="125.6" cy="1129.8" r="3.8"/><circle cx="106.8" cy="1232.3" r="3.8"/><circle cx="134.8" cy="1211.2" r="3.8"/><circle cx="136.7" cy="1217.9" r="3.8"/><circle cx="153.4" cy="1204.4" r="3.8"/><circle cx="160.9" cy="1188.9" r="3.8"/><circle cx="170.9" cy="1187.4" r="3.8"/><circle cx="171.7" cy="1199.3" r="3.8"/><circle cx="170.1" cy="1208" r="3.8"/><circle cx="174" cy="1213.1" r="3.8"/><circle cx="181.2" cy="1178.1" r="3.8"/><circle cx="184" cy="1185.8" r="3.8"/><circle cx="197.9" cy="1173.1" r="3.8"/><circle cx="204.2" cy="1179.4" r="3.8"/><circle cx="206.6" cy="1184.2" r="3.8"/><circle cx="209.8" cy="1188.9" r="3.8"/><circle cx="213" cy="1193.7" r="3.8"/><circle cx="203.4" cy="1196.9" r="3.8"/><circle cx="213.7" cy="1201.7" r="3.8"/><circle cx="205.8" cy="1135.7" r="3.8"/><circle cx="201" cy="1142.9" r="3.8"/><circle cx="210.6" cy="1142.1" r="3.8"/><circle cx="199.4" cy="1150.5" r="3.8"/><circle cx="204.7" cy="1157.2" r="3.8"/><circle cx="213.7" cy="1154.8" r="3.8"/><circle cx="219.3" cy="1151.6" r="3.8"/><circle cx="203.4" cy="1101.6" r="3.8"/><circle cx="221.7" cy="1110.3" r="3.8"/><circle cx="230.4" cy="1107.9" r="3.8"/><circle cx="232" cy="1115.9" r="3.8"/><circle cx="227.2" cy="1129.4" r="3.8"/><circle cx="228.8" cy="1134.1" r="3.8"/><circle cx="225.7" cy="1141.3" r="3.8"/><circle cx="232" cy="1144.5" r="3.8"/><circle cx="234.4" cy="1137.3" r="3.8"/><circle cx="209.8" cy="1169.9" r="3.8"/><circle cx="216.9" cy="1165.1" r="3.8"/><circle cx="222.5" cy="1163.5" r="3.8"/><circle cx="228.8" cy="1160.4" r="3.8"/><circle cx="233.6" cy="1155.6" r="3.8"/><circle cx="217.7" cy="1174.6" r="3.8"/><circle cx="224.1" cy="1171.5" r="3.8"/><circle cx="130" cy="1254.9" r="3.8"/><circle cx="135.9" cy="1262" r="3.8"/><circle cx="140.7" cy="1269.2" r="3.8"/><circle cx="125.3" cy="1267.1" r="3.8"/><circle cx="146.2" cy="1251.7" r="3.8"/><circle cx="151" cy="1254.9" r="3.8"/><circle cx="149.4" cy="1237.4" r="3.8"/><circle cx="154.2" cy="1230.6" r="3.8"/><circle cx="160.5" cy="1232.6" r="3.8"/><circle cx="166.9" cy="1231" r="3.8"/><circle cx="158.9" cy="1240.6" r="3.8"/><circle cx="156.6" cy="1245.3" r="3.8"/><circle cx="165.3" cy="1245.3" r="3.8"/><circle cx="172.4" cy="1226.3" r="3.8"/><circle cx="179.6" cy="1223.1" r="3.8"/><circle cx="182.8" cy="1227.1" r="3.8"/><circle cx="188.3" cy="1217.5" r="3.8"/><circle cx="192.3" cy="1214.4" r="3.8"/><circle cx="195.5" cy="1220.7" r="3.8"/><circle cx="174.8" cy="1239.8" r="3.8"/><circle cx="181.2" cy="1235" r="3.8"/><circle cx="235.7" cy="1217.2" r="3.8"/><circle cx="210.7" cy="1246.4" r="3.8"/><circle cx="178.1" cy="1258.1" r="3.8"/><circle cx="204.1" cy="1262.5" r="3.8"/><circle cx="197.7" cy="1240.5" r="3.8"/><circle cx="184.6" cy="1250.2" r="3.8"/><circle cx="188.5" cy="1257.7" r="3.8"/><circle cx="233.8" cy="1233.1" r="3.8"/><circle cx="234.6" cy="1262" r="3.8"/><circle cx="224.8" cy="1210" r="3.8"/><circle cx="191.4" cy="1243.2" r="3.8"/><circle cx="220.5" cy="1215.5" r="3.8"/><circle cx="192.5" cy="1243.6" r="3.8"/><circle cx="228.1" cy="1232.2" r="3.8"/><circle cx="220.8" cy="1261.3" r="3.8"/><circle cx="220.5" cy="1236.9" r="3.8"/><circle cx="221.9" cy="1205" r="3.8"/><circle cx="204.1" cy="1238.1" r="3.8"/><circle cx="222.6" cy="1241.7" r="3.8"/><circle cx="223.2" cy="1261.6" r="3.8"/><circle cx="198.5" cy="1245.7" r="3.8"/><circle cx="235.4" cy="1188.2" r="3.8"/><circle cx="168.1" cy="1254.4" r="3.8"/><circle cx="209.5" cy="1246.9" r="3.8"/><circle cx="203.3" cy="1261.5" r="3.8"/><circle cx="236.9" cy="1184.6" r="3.8"/><circle cx="231.4" cy="1208.4" r="3.8"/><circle cx="218.4" cy="1253.3" r="3.8"/><circle cx="204.9" cy="1254" r="3.8"/><circle cx="230.7" cy="1249.1" r="3.8"/><circle cx="231" cy="1200.1" r="3.8"/><circle cx="208.3" cy="1223.5" r="3.8"/><circle cx="216.2" cy="1262.1" r="3.8"/><circle cx="210.1" cy="1236.3" r="3.8"/><circle cx="235.3" cy="1263.1" r="3.8"/><circle cx="157.3" cy="1266.7" r="3.8"/><circle cx="222.4" cy="1228" r="3.8"/><circle cx="228.8" cy="1208.9" r="3.8"/><circle cx="211.2" cy="1247.9" r="3.8"/><circle cx="223.1" cy="1221.9" r="3.8"/><circle cx="224.7" cy="1204.3" r="3.8"/><circle cx="228.5" cy="1249.9" r="3.8"/><circle cx="200.9" cy="1256.4" r="3.8"/><circle cx="236.3" cy="1170.7" r="3.8"/><circle cx="227.2" cy="1194" r="3.8"/><circle cx="228.2" cy="1228.8" r="3.8"/><circle cx="174.5" cy="1264.5" r="3.8"/><circle cx="178.9" cy="1257" r="3.8"/><circle cx="165.3" cy="1263.8" r="3.8"/><circle cx="231.7" cy="1197.4" r="3.8"/><circle cx="232.3" cy="1209.7" r="3.8"/><circle cx="154.5" cy="1267.9" r="3.8"/><circle cx="199" cy="1256.1" r="3.8"/><circle cx="222.7" cy="1225" r="3.8"/><circle cx="187.3" cy="1249.8" r="3.8"/><circle cx="226.6" cy="1253.9" r="3.8"/><circle cx="196.2" cy="1249.6" r="3.8"/><circle cx="232.1" cy="1192.8" r="3.8"/><circle cx="228.6" cy="1215.7" r="3.8"/><circle cx="233.6" cy="1211.5" r="3.8"/><circle cx="208.9" cy="1239.5" r="3.8"/><circle cx="196.8" cy="1245.2" r="3.8"/><circle cx="221.5" cy="1212.7" r="3.8"/><circle cx="221.5" cy="1234.9" r="3.8"/><circle cx="234.6" cy="1186.2" r="3.8"/><circle cx="191.6" cy="1260.2" r="3.8"/><circle cx="193.3" cy="1264.7" r="3.8"/><circle cx="224.2" cy="1197.7" r="3.8"/><circle cx="236.7" cy="1226.8" r="3.8"/><circle cx="176.9" cy="1260" r="3.8"/><circle cx="190.5" cy="1256.5" r="3.8"/><circle cx="221.4" cy="1211.3" r="3.8"/><circle cx="235.9" cy="1170.3" r="3.8"/><circle cx="228.2" cy="1252.3" r="3.8"/><circle cx="201.6" cy="1246.3" r="3.8"/><circle cx="233.4" cy="1267.1" r="3.8"/><circle cx="208" cy="1259.4" r="3.8"/><circle cx="230.4" cy="1261.8" r="3.8"/><circle cx="231" cy="1263.7" r="3.8"/><circle cx="158.1" cy="1258.8" r="3.8"/><circle cx="192.3" cy="1263.1" r="3.8"/><circle cx="185.2" cy="1257.5" r="3.8"/><circle cx="232.2" cy="1251.4" r="3.8"/><circle cx="226" cy="1234.7" r="3.8"/><circle cx="236.3" cy="1244.3" r="3.8"/><circle cx="220.7" cy="1233.5" r="3.8"/><circle cx="234.2" cy="1256.3" r="3.8"/><circle cx="234.2" cy="1220.7" r="3.8"/><circle cx="204.4" cy="1266.9" r="3.8"/><circle cx="234.5" cy="1211.4" r="3.8"/><circle cx="194" cy="1257.3" r="3.8"/><circle cx="183.8" cy="1263.2" r="3.8"/><circle cx="230.6" cy="1222.3" r="3.8"/><circle cx="231.9" cy="1253" r="3.8"/><circle cx="154.8" cy="1265.9" r="3.8"/><circle cx="234.9" cy="1217" r="3.8"/><circle cx="205.6" cy="1231.6" r="3.8"/><circle cx="231.4" cy="1209.4" r="3.8"/><circle cx="177.1" cy="1252.9" r="3.8"/><circle cx="212.7" cy="1229.9" r="3.8"/><circle cx="168.9" cy="1258" r="3.8"/><circle cx="230.1" cy="1206" r="3.8"/><circle cx="233.8" cy="1202.6" r="3.8"/><circle cx="215.3" cy="1254.9" r="3.8"/><circle cx="174.5" cy="1253.8" r="3.8"/><circle cx="212.4" cy="1252.2" r="3.8"/><circle cx="214.9" cy="1263.5" r="3.8"/><circle cx="218.5" cy="1233.2" r="3.8"/><circle cx="220.6" cy="1258.1" r="3.8"/><circle cx="203.9" cy="1262.7" r="3.8"/><circle cx="212.2" cy="1238.7" r="3.8"/><circle cx="227.1" cy="1203.4" r="3.8"/><circle cx="158.8" cy="1260.6" r="3.8"/><circle cx="182.5" cy="1248.9" r="3.8"/><circle cx="191.5" cy="1252.1" r="3.8"/><circle cx="174.6" cy="1255.4" r="3.8"/><circle cx="199.3" cy="1248.1" r="3.8"/><circle cx="192.4" cy="1241.2" r="3.8"/><circle cx="230.5" cy="1248.4" r="3.8"/><circle cx="219.3" cy="1219.6" r="3.8"/><circle cx="187" cy="1244.4" r="3.8"/><circle cx="216.4" cy="1259.5" r="3.8"/><circle cx="212.4" cy="1258.4" r="3.8"/><circle cx="196.5" cy="1247.5" r="3.8"/><circle cx="158.8" cy="1266.9" r="3.8"/><circle cx="180.9" cy="1261.1" r="3.8"/><circle cx="188.3" cy="1268" r="3.8"/><circle cx="213.9" cy="1245.6" r="3.8"/><circle cx="212.5" cy="1246.8" r="3.8"/><circle cx="228" cy="1193.9" r="3.8"/><circle cx="223.1" cy="1215.2" r="3.8"/><circle cx="217.8" cy="1228" r="3.8"/><circle cx="202.1" cy="1248.1" r="3.8"/><circle cx="202.2" cy="1237.1" r="3.8"/><circle cx="226.9" cy="1212.1" r="3.8"/><circle cx="227.1" cy="1193" r="3.8"/><circle cx="214.9" cy="1255.4" r="3.8"/><circle cx="210.1" cy="1228" r="3.8"/><circle cx="225.2" cy="1220.8" r="3.8"/><circle cx="227.6" cy="1203.1" r="3.8"/><circle cx="160.9" cy="1260.5" r="3.8"/><circle cx="205.6" cy="1260.7" r="3.8"/><circle cx="218.2" cy="1266.6" r="3.8"/><circle cx="232.1" cy="1208.1" r="3.8"/><circle cx="222.3" cy="1242.1" r="3.8"/><circle cx="237" cy="1250" r="3.8"/><circle cx="235.3" cy="1248" r="3.8"/><circle cx="192.3" cy="1251" r="3.8"/><circle cx="226.8" cy="1204.7" r="3.8"/><circle cx="228.6" cy="1224" r="3.8"/><circle cx="194" cy="1266.2" r="3.8"/><circle cx="186.8" cy="1261.2" r="3.8"/><circle cx="223" cy="1212.4" r="3.8"/><circle cx="197.1" cy="1241.6" r="3.8"/><circle cx="200.2" cy="1240" r="3.8"/><circle cx="207.8" cy="1263.6" r="3.8"/><circle cx="205.1" cy="1265.2" r="3.8"/><circle cx="235.1" cy="1217.7" r="3.8"/><circle cx="206.3" cy="1252.3" r="3.8"/><circle cx="233.4" cy="1209.1" r="3.8"/><circle cx="231.1" cy="1193.1" r="3.8"/><circle cx="210.3" cy="1247.6" r="3.8"/><circle cx="222.7" cy="1218.2" r="3.8"/><circle cx="221" cy="1236.6" r="3.8"/><circle cx="172.8" cy="1261.1" r="3.8"/><circle cx="212.5" cy="1239.7" r="3.8"/><circle cx="202.5" cy="1259.2" r="3.8"/><circle cx="233.9" cy="1246.1" r="3.8"/><circle cx="236" cy="1251.3" r="3.8"/><circle cx="222.8" cy="1252.6" r="3.8"/><circle cx="195" cy="1241.8" r="3.8"/><circle cx="228.7" cy="1267.7" r="3.8"/><circle cx="183.3" cy="1264.6" r="3.8"/><circle cx="228" cy="1223.6" r="3.8"/><circle cx="185.9" cy="1248" r="3.8"/><circle cx="233.7" cy="1187.2" r="3.8"/><circle cx="228" cy="1214.4" r="3.8"/><circle cx="197" cy="1262.5" r="3.8"/><circle cx="225.9" cy="1193.7" r="3.8"/><circle cx="204.4" cy="1266" r="3.8"/><circle cx="218" cy="1241.2" r="3.8"/><circle cx="190.2" cy="1258.8" r="3.8"/><circle cx="236.1" cy="1191.2" r="3.8"/><circle cx="195.7" cy="1258.8" r="3.8"/><circle cx="217.4" cy="1213.6" r="3.8"/><circle cx="166.8" cy="1260.8" r="3.8"/><circle cx="218.6" cy="1213.1" r="3.8"/><circle cx="190.6" cy="1264.8" r="3.8"/><circle cx="228.5" cy="1204.4" r="3.8"/><circle cx="227" cy="1221.1" r="3.8"/><circle cx="236" cy="1262.2" r="3.8"/><circle cx="217" cy="1255.8" r="3.8"/><circle cx="213.5" cy="1223.7" r="3.8"/><circle cx="235.5" cy="1250.9" r="3.8"/><circle cx="217.3" cy="1242.5" r="3.8"/><circle cx="178.4" cy="1257.6" r="3.8"/><circle cx="205.9" cy="1232" r="3.8"/><circle cx="213.9" cy="1264.8" r="3.8"/><circle cx="230.3" cy="1203.5" r="3.8"/><circle cx="189.8" cy="1246.8" r="3.8"/><circle cx="211.5" cy="1260.9" r="3.8"/><circle cx="221.8" cy="1254.9" r="3.8"/><circle cx="229.4" cy="1250.6" r="3.8"/><circle cx="203.6" cy="1230" r="3.8"/><circle cx="159.6" cy="1257.2" r="3.8"/><circle cx="178.1" cy="1267.2" r="3.8"/><circle cx="209.4" cy="1235.3" r="3.8"/><circle cx="212.4" cy="1234.6" r="3.8"/><circle cx="210.6" cy="1242.4" r="3.8"/><circle cx="185.7" cy="1263.3" r="3.8"/><circle cx="236.9" cy="1188.7" r="3.8"/><circle cx="203.4" cy="1238.3" r="3.8"/><circle cx="218.6" cy="1252.8" r="3.8"/><circle cx="217.1" cy="1232" r="3.8"/><circle cx="200.3" cy="1252.3" r="3.8"/><circle cx="220.1" cy="1243.2" r="3.8"/><circle cx="231.9" cy="1243.2" r="3.8"/><circle cx="221.7" cy="1252.5" r="3.8"/><circle cx="212.5" cy="1235.1" r="3.8"/><circle cx="191" cy="1254.9" r="3.8"/><circle cx="164.2" cy="1257.8" r="3.8"/><circle cx="180.9" cy="1266.3" r="3.8"/><circle cx="232.8" cy="1248.2" r="3.8"/><circle cx="198.1" cy="1252.7" r="3.8"/><circle cx="213.7" cy="1224.5" r="3.8"/><circle cx="163.6" cy="1267.7" r="3.8"/><circle cx="208.3" cy="1237.6" r="3.8"/><circle cx="226.9" cy="1257.7" r="3.8"/><circle cx="188.9" cy="1267.6" r="3.8"/><circle cx="229.9" cy="1220.1" r="3.8"/><circle cx="224.4" cy="1233.1" r="3.8"/><circle cx="235.2" cy="1185.4" r="3.8"/><circle cx="236.5" cy="1175.8" r="3.8"/><circle cx="230.1" cy="1197.6" r="3.8"/><circle cx="164.6" cy="1263.6" r="3.8"/><circle cx="192.2" cy="1249.1" r="3.8"/><circle cx="196.5" cy="1252.1" r="3.8"/><circle cx="227.9" cy="1205.1" r="3.8"/><circle cx="200.4" cy="1256.3" r="3.8"/><circle cx="221.3" cy="1236.4" r="3.8"/><circle cx="198.5" cy="1261" r="3.8"/><circle cx="189.9" cy="1247.3" r="3.8"/><circle cx="209.7" cy="1247.4" r="3.8"/><circle cx="226.1" cy="1243.8" r="3.8"/><circle cx="218.6" cy="1243.2" r="3.8"/><circle cx="231.4" cy="1203.7" r="3.8"/><circle cx="228.4" cy="1243.2" r="3.8"/><circle cx="235.6" cy="1186.4" r="3.8"/><circle cx="177.3" cy="1266.9" r="3.8"/><circle cx="210.8" cy="1231.8" r="3.8"/><circle cx="210.2" cy="1267.2" r="3.8"/><circle cx="172.8" cy="1266.6" r="3.8"/><circle cx="193.7" cy="1249.7" r="3.8"/><circle cx="207.6" cy="1234" r="3.8"/><circle cx="234.2" cy="1262.7" r="3.8"/><circle cx="180.6" cy="1263.1" r="3.8"/><circle cx="216.1" cy="1263.9" r="3.8"/><circle cx="202.3" cy="1263.1" r="3.8"/><circle cx="226.7" cy="1248.8" r="3.8"/><circle cx="161.5" cy="1262" r="3.8"/><circle cx="235.5" cy="1216.7" r="3.8"/><circle cx="228" cy="1246" r="3.8"/><circle cx="162.4" cy="1267.8" r="3.8"/><circle cx="215" cy="1261.3" r="3.8"/><circle cx="223.4" cy="1228.5" r="3.8"/><circle cx="223.9" cy="1214.8" r="3.8"/><circle cx="220.9" cy="1234.8" r="3.8"/><circle cx="179.8" cy="1261.1" r="3.8"/><circle cx="209.8" cy="1261.9" r="3.8"/><circle cx="218" cy="1245.1" r="3.8"/><circle cx="179.9" cy="1251.4" r="3.8"/><circle cx="182" cy="1249" r="3.8"/><circle cx="206.1" cy="1233.4" r="3.8"/><circle cx="200.8" cy="1251.8" r="3.8"/><circle cx="173.4" cy="1256.7" r="3.8"/><circle cx="235.4" cy="1167.8" r="3.8"/><circle cx="182.9" cy="1253.4" r="3.8"/><circle cx="234.7" cy="1208.4" r="3.8"/><circle cx="187.9" cy="1256.1" r="3.8"/><circle cx="161.9" cy="1258.2" r="3.8"/><circle cx="210.8" cy="1221.9" r="3.8"/><circle cx="232.9" cy="1226" r="3.8"/><circle cx="230.7" cy="1265.4" r="3.8"/><circle cx="223.2" cy="1254.7" r="3.8"/><circle cx="161.5" cy="1257.5" r="3.8"/><circle cx="203.7" cy="1251.1" r="3.8"/><circle cx="210.3" cy="1232.7" r="3.8"/><circle cx="227" cy="1241.9" r="3.8"/><circle cx="234.9" cy="1187" r="3.8"/><circle cx="217.1" cy="1214.7" r="3.8"/><circle cx="167.5" cy="1266.6" r="3.8"/><circle cx="202.9" cy="1260.7" r="3.8"/><circle cx="213" cy="1262.6" r="3.8"/><circle cx="191.7" cy="1267.8" r="3.8"/><circle cx="180.9" cy="1254.9" r="3.8"/><circle cx="227.9" cy="1188.8" r="3.8"/><circle cx="224.8" cy="1223.9" r="3.8"/><circle cx="188.4" cy="1243.5" r="3.8"/><circle cx="236.3" cy="1177" r="3.8"/><circle cx="207.5" cy="1226.6" r="3.8"/><circle cx="226.6" cy="1266.2" r="3.8"/><circle cx="207.9" cy="1243.7" r="3.8"/><circle cx="224.6" cy="1242.5" r="3.8"/><circle cx="210.8" cy="1226.4" r="3.8"/><circle cx="216.8" cy="1236" r="3.8"/><circle cx="234.1" cy="1201" r="3.8"/><circle cx="231.3" cy="1177.9" r="3.8"/><circle cx="179" cy="1256.2" r="3.8"/><circle cx="166.3" cy="1261.5" r="3.8"/><circle cx="216.9" cy="1244.6" r="3.8"/><circle cx="212.1" cy="1256.1" r="3.8"/><circle cx="213.4" cy="1257.2" r="3.8"/><circle cx="220.6" cy="1219" r="3.8"/><circle cx="213.3" cy="1258.6" r="3.8"/><circle cx="181.2" cy="1261.8" r="3.8"/><circle cx="173.3" cy="1262.4" r="3.8"/><circle cx="203.9" cy="1250.2" r="3.8"/><circle cx="223.4" cy="1256.4" r="3.8"/><circle cx="225.7" cy="1234.4" r="3.8"/><circle cx="231.8" cy="1252" r="3.8"/><circle cx="197.9" cy="1241" r="3.8"/><circle cx="229.1" cy="1191.5" r="3.8"/><circle cx="201.9" cy="1263.5" r="3.8"/><circle cx="233.3" cy="1254.4" r="3.8"/><circle cx="207.9" cy="1236.9" r="3.8"/><circle cx="177.9" cy="1260.1" r="3.8"/><circle cx="234.9" cy="1169" r="3.8"/><circle cx="230.7" cy="1237" r="3.8"/><circle cx="168.2" cy="1258.7" r="3.8"/><circle cx="189.2" cy="1253.7" r="3.8"/><circle cx="224.7" cy="1264.3" r="3.8"/><circle cx="197" cy="1256.3" r="3.8"/><circle cx="233.2" cy="1201.7" r="3.8"/><circle cx="194.7" cy="1245.8" r="3.8"/><circle cx="209.7" cy="1260.6" r="3.8"/><circle cx="228.1" cy="1227.9" r="3.8"/><circle cx="218" cy="1246.5" r="3.8"/><circle cx="224.1" cy="1258.2" r="3.8"/><circle cx="220.8" cy="1211.5" r="3.8"/><circle cx="232.6" cy="1202.8" r="3.8"/><circle cx="177.5" cy="1265.2" r="3.8"/><circle cx="201.5" cy="1253" r="3.8"/><circle cx="220.3" cy="1229.9" r="3.8"/><circle cx="235.3" cy="1175.5" r="3.8"/><circle cx="236.7" cy="1200.8" r="3.8"/><circle cx="235.8" cy="1251.6" r="3.8"/><circle cx="234.9" cy="1200.5" r="3.8"/><circle cx="160.4" cy="1263.2" r="3.8"/><circle cx="167.2" cy="1261.2" r="3.8"/><circle cx="204" cy="1238.4" r="3.8"/><circle cx="216.1" cy="1232.2" r="3.8"/><circle cx="228.2" cy="1230.8" r="3.8"/><circle cx="234.9" cy="1208.6" r="3.8"/><circle cx="165.2" cy="1267" r="3.8"/><circle cx="212.7" cy="1243.8" r="3.8"/><circle cx="233.4" cy="1265.9" r="3.8"/><circle cx="231" cy="1211.6" r="3.8"/><circle cx="169.4" cy="1265.5" r="3.8"/><circle cx="221.3" cy="1251.9" r="3.8"/><circle cx="233" cy="1233.1" r="3.8"/><circle cx="229.3" cy="1239.2" r="3.8"/><circle cx="215.5" cy="1253.6" r="3.8"/><circle cx="227.6" cy="1202.1" r="3.8"/><circle cx="163.5" cy="1258.5" r="3.8"/><circle cx="169.9" cy="1267.7" r="3.8"/><circle cx="211.6" cy="1260.5" r="3.8"/><circle cx="231.8" cy="1189.6" r="3.8"/><circle cx="166.1" cy="1267.1" r="3.8"/><circle cx="226.3" cy="1195.4" r="3.8"/><circle cx="216.4" cy="1214.8" r="3.8"/><circle cx="200.7" cy="1267.2" r="3.8"/><circle cx="195.4" cy="1259.2" r="3.8"/><circle cx="226.9" cy="1260.3" r="3.8"/><circle cx="234.8" cy="1201.4" r="3.8"/><circle cx="219.2" cy="1255.9" r="3.8"/><circle cx="206.7" cy="1233.7" r="3.8"/><circle cx="231.2" cy="1196.6" r="3.8"/><circle cx="182.3" cy="1260.1" r="3.8"/><circle cx="181.5" cy="1247.7" r="3.8"/><circle cx="207.8" cy="1235.3" r="3.8"/><circle cx="226.8" cy="1204" r="3.8"/><circle cx="227.6" cy="1207.8" r="3.8"/><circle cx="168.5" cy="1255.9" r="3.8"/><circle cx="206.1" cy="1260.7" r="3.8"/><circle cx="229.9" cy="1264.2" r="3.8"/><circle cx="224.5" cy="1210.7" r="3.8"/><circle cx="236.4" cy="1209" r="3.8"/><circle cx="222.4" cy="1220" r="3.8"/><circle cx="197.4" cy="1261.8" r="3.8"/><circle cx="163.4" cy="1264.5" r="3.8"/><circle cx="202" cy="1247.1" r="3.8"/><circle cx="234.1" cy="1198.6" r="3.8"/><circle cx="235.2" cy="1200.1" r="3.8"/><circle cx="231.4" cy="1237.6" r="3.8"/><circle cx="236.5" cy="1184" r="3.8"/><circle cx="194.7" cy="1267" r="3.8"/><circle cx="213.1" cy="1253.6" r="3.8"/><circle cx="214.7" cy="1262.5" r="3.8"/><circle cx="236.5" cy="1230.6" r="3.8"/><circle cx="210.8" cy="1222.2" r="3.8"/><circle cx="169.1" cy="1259.3" r="3.8"/><circle cx="225.7" cy="1226.4" r="3.8"/><circle cx="235.8" cy="1254" r="3.8"/><circle cx="157.2" cy="1262.1" r="3.8"/><circle cx="219.9" cy="1215.9" r="3.8"/><circle cx="226.9" cy="1239.7" r="3.8"/><circle cx="209.6" cy="1263.9" r="3.8"/><circle cx="206.4" cy="1259.4" r="3.8"/><circle cx="189.1" cy="1260.9" r="3.8"/><circle cx="227.5" cy="1203.1" r="3.8"/><circle cx="224.6" cy="1235.1" r="3.8"/><circle cx="234.5" cy="1171.5" r="3.8"/><circle cx="191.4" cy="1247.2" r="3.8"/><circle cx="235.3" cy="1179.8" r="3.8"/><circle cx="175.3" cy="1263.9" r="3.8"/><circle cx="227" cy="1259.2" r="3.8"/><circle cx="207" cy="1242.5" r="3.8"/><circle cx="225.5" cy="1235.4" r="3.8"/><circle cx="228.8" cy="1186.2" r="3.8"/><circle cx="229" cy="1236.7" r="3.8"/><circle cx="217.4" cy="1237" r="3.8"/><circle cx="217.6" cy="1249.5" r="3.8"/><circle cx="234.6" cy="1175.9" r="3.8"/><circle cx="217.2" cy="1238" r="3.8"/><circle cx="222.6" cy="1205.2" r="3.8"/><circle cx="212" cy="1260.2" r="3.8"/><circle cx="228" cy="1203.1" r="3.8"/><circle cx="224.4" cy="1219.2" r="3.8"/><circle cx="193.9" cy="1244.6" r="3.8"/><circle cx="230.1" cy="1224.4" r="3.8"/><circle cx="216.6" cy="1236.3" r="3.8"/><circle cx="227.7" cy="1258.6" r="3.8"/><circle cx="234.4" cy="1178.7" r="3.8"/><circle cx="228.7" cy="1232.7" r="3.8"/><circle cx="227.8" cy="1205.8" r="3.8"/><circle cx="220.9" cy="1208.4" r="3.8"/><circle cx="234.4" cy="1205.4" r="3.8"/><circle cx="226.2" cy="1200.7" r="3.8"/><circle cx="236.8" cy="1240.4" r="3.8"/><circle cx="236.4" cy="1204.5" r="3.8"/><circle cx="230.7" cy="1267.2" r="3.8"/><circle cx="205.9" cy="1265.5" r="3.8"/><circle cx="237.5" cy="1247.7" r="3.8"/><circle cx="158" cy="1263.2" r="3.8"/><circle cx="232.4" cy="1246.1" r="3.8"/><circle cx="236.8" cy="1236.9" r="3.8"/><circle cx="228.3" cy="1198.1" r="3.8"/><circle cx="235.1" cy="1176.3" r="3.8"/><circle cx="211.3" cy="1246.6" r="3.8"/><circle cx="217.1" cy="1248" r="3.8"/><circle cx="213" cy="1223.9" r="3.8"/><circle cx="225.8" cy="1243" r="3.8"/><circle cx="217.1" cy="1260.5" r="3.8"/><circle cx="223.1" cy="1221.9" r="3.8"/><circle cx="235.1" cy="1229.6" r="3.8"/><circle cx="193" cy="1249.8" r="3.8"/><circle cx="212.5" cy="1264.3" r="3.8"/><circle cx="229.9" cy="1231.3" r="3.8"/><circle cx="220.4" cy="1238.9" r="3.8"/><circle cx="232.8" cy="1241.1" r="3.8"/><circle cx="205.5" cy="1243.6" r="3.8"/><circle cx="235.8" cy="1212.4" r="3.8"/><circle cx="200" cy="1263.4" r="3.8"/><circle cx="216.8" cy="1235.4" r="3.8"/><circle cx="197" cy="1255.3" r="3.8"/><circle cx="182.9" cy="1255.8" r="3.8"/><circle cx="227.1" cy="1218.8" r="3.8"/><circle cx="210.7" cy="1239.8" r="3.8"/><circle cx="213.8" cy="1249.5" r="3.8"/><circle cx="201.2" cy="1242.1" r="3.8"/><circle cx="226" cy="1256.3" r="3.8"/><circle cx="181.2" cy="1248.3" r="3.8"/><circle cx="198.5" cy="1263" r="3.8"/><circle cx="200.7" cy="1256.7" r="3.8"/><circle cx="224.6" cy="1189.8" r="3.8"/><circle cx="219.4" cy="1212.6" r="3.8"/><circle cx="229.5" cy="1185.1" r="3.8"/><circle cx="159.4" cy="1256.7" r="3.8"/><circle cx="193" cy="1242" r="3.8"/><circle cx="235.6" cy="1172" r="3.8"/><circle cx="171.9" cy="1267.5" r="3.8"/><circle cx="200.1" cy="1251.7" r="3.8"/><circle cx="197.5" cy="1232" r="3.8"/><circle cx="202.5" cy="1234.1" r="3.8"/><circle cx="235" cy="1247.6" r="3.8"/><circle cx="221.2" cy="1258.7" r="3.8"/><circle cx="233.8" cy="1207.5" r="3.8"/><circle cx="224.8" cy="1223.2" r="3.8"/><circle cx="203.7" cy="1230.4" r="3.8"/><circle cx="202.7" cy="1228.2" r="3.8"/><circle cx="196.6" cy="1253.2" r="3.8"/><circle cx="162.8" cy="1252.7" r="3.8"/><circle cx="195.3" cy="1238.6" r="3.8"/><circle cx="158.6" cy="1257.4" r="3.8"/><circle cx="195.8" cy="1263.2" r="3.8"/><circle cx="206.3" cy="1221" r="3.8"/><circle cx="216.5" cy="1222" r="3.8"/><circle cx="210.9" cy="1254.3" r="3.8"/><circle cx="211.6" cy="1225.8" r="3.8"/><circle cx="212.9" cy="1247.7" r="3.8"/><circle cx="200.5" cy="1258.3" r="3.8"/><circle cx="236.1" cy="1255.7" r="3.8"/><circle cx="203.8" cy="1234.9" r="3.8"/><circle cx="205.4" cy="1258.5" r="3.8"/><circle cx="235.1" cy="1162.1" r="3.8"/><circle cx="199.8" cy="1267.7" r="3.8"/><circle cx="222.7" cy="1229" r="3.8"/><circle cx="231.5" cy="1173.3" r="3.8"/><circle cx="223.8" cy="1195.4" r="3.8"/><circle cx="203.1" cy="1221" r="3.8"/><circle cx="187.8" cy="1249.4" r="3.8"/><circle cx="169.5" cy="1267.4" r="3.8"/><circle cx="211.8" cy="1212.8" r="3.8"/><circle cx="199.4" cy="1255.7" r="3.8"/><circle cx="186.2" cy="1267.9" r="3.8"/><circle cx="223.8" cy="1223.8" r="3.8"/><circle cx="233.9" cy="1187.5" r="3.8"/><circle cx="191.4" cy="1244.1" r="3.8"/><circle cx="185.5" cy="1243.9" r="3.8"/><circle cx="214.2" cy="1222.3" r="3.8"/><circle cx="229.1" cy="1223.1" r="3.8"/><circle cx="190.9" cy="1239.1" r="3.8"/><circle cx="177.6" cy="1255.5" r="3.8"/><circle cx="235.7" cy="1208.5" r="3.8"/><circle cx="198" cy="1239.5" r="3.8"/><circle cx="231.8" cy="1213.4" r="3.8"/><circle cx="211" cy="1229.4" r="3.8"/><circle cx="228.7" cy="1190.3" r="3.8"/><circle cx="180.5" cy="1247" r="3.8"/><circle cx="234.4" cy="1188.7" r="3.8"/><circle cx="217.1" cy="1213.4" r="3.8"/><circle cx="181.7" cy="1261.4" r="3.8"/><circle cx="224.6" cy="1236.8" r="3.8"/><circle cx="211.5" cy="1246.3" r="3.8"/><circle cx="233.2" cy="1209.2" r="3.8"/><circle cx="205.2" cy="1227.1" r="3.8"/><circle cx="190" cy="1242.7" r="3.8"/><circle cx="184.5" cy="1251.2" r="3.8"/><circle cx="204" cy="1266.1" r="3.8"/><circle cx="210.3" cy="1239.2" r="3.8"/><circle cx="189.2" cy="1248.1" r="3.8"/><circle cx="186.5" cy="1259.9" r="3.8"/><circle cx="175.3" cy="1262.5" r="3.8"/><circle cx="203.3" cy="1229.6" r="3.8"/><circle cx="225.2" cy="1254.7" r="3.8"/><circle cx="188" cy="1239.5" r="3.8"/><circle cx="235.2" cy="1213" r="3.8"/><circle cx="209.3" cy="1233.9" r="3.8"/><circle cx="217.8" cy="1217.5" r="3.8"/><circle cx="212.1" cy="1249.8" r="3.8"/><circle cx="173.5" cy="1251.4" r="3.8"/><circle cx="223.7" cy="1192.1" r="3.8"/><circle cx="182.2" cy="1252.6" r="3.8"/><circle cx="232.7" cy="1174.6" r="3.8"/><circle cx="209" cy="1261" r="3.8"/><circle cx="224" cy="1207.6" r="3.8"/><circle cx="233" cy="1230.9" r="3.8"/><circle cx="173.4" cy="1263.8" r="3.8"/><circle cx="174.8" cy="1255.7" r="3.8"/><circle cx="206.7" cy="1221.2" r="3.8"/><circle cx="236.8" cy="1197.4" r="3.8"/><circle cx="184.6" cy="1256.2" r="3.8"/><circle cx="227.5" cy="1261" r="3.8"/><circle cx="231.7" cy="1187" r="3.8"/><circle cx="190.4" cy="1265.5" r="3.8"/><circle cx="216.5" cy="1206.3" r="3.8"/><circle cx="214.6" cy="1240" r="3.8"/><circle cx="180" cy="1261.3" r="3.8"/><circle cx="236.5" cy="1158.6" r="3.8"/><circle cx="196.5" cy="1256.8" r="3.8"/><circle cx="176" cy="1246.5" r="3.8"/><circle cx="205.2" cy="1232.3" r="3.8"/><circle cx="213.1" cy="1218.1" r="3.8"/><circle cx="200.2" cy="1235.2" r="3.8"/><circle cx="200.3" cy="1244.6" r="3.8"/><circle cx="182.9" cy="1238.7" r="3.8"/><circle cx="210.9" cy="1266.5" r="3.8"/><circle cx="226.4" cy="1237.4" r="3.8"/><circle cx="233.8" cy="1249.3" r="3.8"/><circle cx="218.8" cy="1220.5" r="3.8"/><circle cx="181.9" cy="1245.6" r="3.8"/><circle cx="193.9" cy="1266.2" r="3.8"/><circle cx="213.7" cy="1253.8" r="3.8"/><circle cx="229.1" cy="1219" r="3.8"/><circle cx="228.3" cy="1220.5" r="3.8"/><circle cx="195.7" cy="1267.4" r="3.8"/><circle cx="211.5" cy="1231.5" r="3.8"/><circle cx="236.5" cy="1224.2" r="3.8"/><circle cx="205.8" cy="1235.9" r="3.8"/><circle cx="235.3" cy="1237" r="3.8"/><circle cx="237" cy="1243" r="3.8"/><circle cx="235.8" cy="1201.4" r="3.8"/><circle cx="228" cy="1251.4" r="3.8"/><circle cx="236" cy="1217" r="3.8"/><circle cx="208.2" cy="1233.6" r="3.8"/><circle cx="233.3" cy="1206.8" r="3.8"/><circle cx="210.8" cy="1244" r="3.8"/><circle cx="228.1" cy="1238.9" r="3.8"/><circle cx="232.6" cy="1230.2" r="3.8"/><circle cx="212.8" cy="1237" r="3.8"/><circle cx="208.7" cy="1241.8" r="3.8"/><circle cx="196.2" cy="1228" r="3.8"/><circle cx="164.9" cy="1257.1" r="3.8"/><circle cx="226.2" cy="1238.5" r="3.8"/><circle cx="161.8" cy="1254.6" r="3.8"/><circle cx="213.1" cy="1258" r="3.8"/><circle cx="218.7" cy="1240.9" r="3.8"/><circle cx="199.9" cy="1234.5" r="3.8"/><circle cx="215.7" cy="1212.2" r="3.8"/><circle cx="230.2" cy="1195.8" r="3.8"/><circle cx="209.7" cy="1258.5" r="3.8"/><circle cx="231.7" cy="1237.4" r="3.8"/><circle cx="220.3" cy="1239.7" r="3.8"/><circle cx="189.5" cy="1254" r="3.8"/><circle cx="226" cy="1241.4" r="3.8"/><circle cx="226" cy="1213.1" r="3.8"/><circle cx="172.9" cy="1257.1" r="3.8"/><circle cx="205.3" cy="1229.9" r="3.8"/><circle cx="222.2" cy="1236.3" r="3.8"/><circle cx="171.4" cy="1246" r="3.8"/><circle cx="236.8" cy="1122.6" r="3.8"/><circle cx="235.9" cy="1161.9" r="3.8"/><circle cx="226.7" cy="1125.5" r="3.8"/><circle cx="226.4" cy="1115.5" r="3.8"/><circle cx="230.8" cy="1134.1" r="3.8"/><circle cx="229.9" cy="1113.5" r="3.8"/><circle cx="230.9" cy="1164.4" r="3.8"/><circle cx="228.7" cy="1146.8" r="3.8"/><circle cx="231.5" cy="1162.4" r="3.8"/><circle cx="229.5" cy="1125.1" r="3.8"/>
</g>
<path d="M236.7 1309.5 L236.7 906.6" fill="none" stroke="#3d3d3d" stroke-width="2.8" stroke-linejoin="round" stroke-dasharray="3.05 9.14 12.18 9.14"/>
<path d="M316.1 1309.5 L316.1 906.6" fill="none" stroke="#3d3d3d" stroke-width="2.8" stroke-linejoin="round" stroke-dasharray="3.05 9.14 12.18 9.14"/>
<path d="M70.1 1276.1 L514.6 1276.1" fill="none" stroke="#3d3d3d" stroke-width="2.8" stroke-linejoin="round" stroke-dasharray="3.05 9.14 12.18 9.14"/>
<rect x="70.1" y="906.6" width="444.5" height="401.7" fill="none" stroke="#333" stroke-width="1.7"/>
<path d="M63.6 1290.8 L70.1 1290.8" fill="none" stroke="#333" stroke-width="2.5" stroke-linejoin="round"/>
<text x="56.6" y="1297.3" font-size="18.2" text-anchor="end" stroke="#111" stroke-width="0.35">0</text>
<path d="M63.6 1217.5 L70.1 1217.5" fill="none" stroke="#333" stroke-width="2.5" stroke-linejoin="round"/>
<text x="56.6" y="1224" font-size="18.2" text-anchor="end" stroke="#111" stroke-width="0.35">10</text>
<path d="M63.6 1144.2 L70.1 1144.2" fill="none" stroke="#333" stroke-width="2.5" stroke-linejoin="round"/>
<text x="56.6" y="1150.7" font-size="18.2" text-anchor="end" stroke="#111" stroke-width="0.35">20</text>
<path d="M63.6 1070.9 L70.1 1070.9" fill="none" stroke="#333" stroke-width="2.5" stroke-linejoin="round"/>
<text x="56.6" y="1077.4" font-size="18.2" text-anchor="end" stroke="#111" stroke-width="0.35">30</text>
<path d="M63.6 997.6 L70.1 997.6" fill="none" stroke="#333" stroke-width="2.5" stroke-linejoin="round"/>
<text x="56.6" y="1004.1" font-size="18.2" text-anchor="end" stroke="#111" stroke-width="0.35">40</text>
<path d="M63.6 924.3 L70.1 924.3" fill="none" stroke="#333" stroke-width="2.5" stroke-linejoin="round"/>
<text x="56.6" y="930.8" font-size="18.2" text-anchor="end" stroke="#111" stroke-width="0.35">50</text>
<path d="M77.8 1308.3 L77.8 1314.8" fill="none" stroke="#333" stroke-width="2.5" stroke-linejoin="round"/>
<text x="77.8" y="1334" font-size="18.2" text-anchor="middle" stroke="#111" stroke-width="0.35">−10</text>
<path d="M177.1 1308.3 L177.1 1314.8" fill="none" stroke="#333" stroke-width="2.5" stroke-linejoin="round"/>
<text x="177.1" y="1334" font-size="18.2" text-anchor="middle" stroke="#111" stroke-width="0.35">−5</text>
<path d="M276.4 1308.3 L276.4 1314.8" fill="none" stroke="#333" stroke-width="2.5" stroke-linejoin="round"/>
<text x="276.4" y="1334" font-size="18.2" text-anchor="middle" stroke="#111" stroke-width="0.35">0</text>
<path d="M375.7 1308.3 L375.7 1314.8" fill="none" stroke="#333" stroke-width="2.5" stroke-linejoin="round"/>
<text x="375.7" y="1334" font-size="18.2" text-anchor="middle" stroke="#111" stroke-width="0.35">5</text>
<path d="M475 1308.3 L475 1314.8" fill="none" stroke="#333" stroke-width="2.5" stroke-linejoin="round"/>
<text x="475" y="1334" font-size="18.2" text-anchor="middle" stroke="#111" stroke-width="0.35">10</text>
<text x="136" y="1363.5" font-size="23" stroke="#111" stroke-width="0.35" textLength="323.5" lengthAdjust="spacingAndGlyphs">log<tspan font-size="12.7" dy="2.3">2</tspan><tspan dy="-2.3">Fold Change (Tumor/NATs)</tspan></text>
<text transform="translate(16.2 1171.5) rotate(-90)" font-size="22.5" stroke="#111" stroke-width="0.35" textLength="115.7" lengthAdjust="spacingAndGlyphs">−log<tspan font-size="11.9" dy="8.6"> 10</tspan><tspan dy="-8.6"> FDR</tspan></text>
<text x="103.7" y="934.1" font-size="19" stroke="#111" stroke-width="0.35" textLength="88.6" lengthAdjust="spacingAndGlyphs">Hypo-m<tspan font-size="12.2" dy="-6.5">6</tspan><tspan dy="6.5">A</tspan></text>
<text x="103.7" y="962" font-size="19" stroke="#111" stroke-width="0.35" textLength="54.5" lengthAdjust="spacingAndGlyphs">n=975</text>
<text x="378.9" y="934.1" font-size="19" stroke="#111" stroke-width="0.35" textLength="95.3" lengthAdjust="spacingAndGlyphs">Hyper-m<tspan font-size="12.2" dy="-6.5">6</tspan><tspan dy="6.5">A</tspan></text>
<text x="378.9" y="962" font-size="19" stroke="#111" stroke-width="0.35" textLength="54.8" lengthAdjust="spacingAndGlyphs">n=566</text>
<text x="577" y="825.6" font-size="28.2" font-weight="bold" fill="#000">G</text>
<rect x="819.3" y="851.8" width="202" height="13.6" fill="#f68d65"/>
<path d="M802.6 858.6 L807.6 858.6" fill="none" stroke="#000" stroke-width="2.8" stroke-linejoin="round"/>
<text transform="translate(799.6 865.9) scale(0.94 1)" font-size="20.3" text-anchor="end" stroke="#111" stroke-width="0.35">Focal adhesion</text>
<rect x="819.3" y="875.6" width="154.6" height="13.6" fill="#f68d65"/>
<path d="M802.6 882.4 L807.6 882.4" fill="none" stroke="#000" stroke-width="2.8" stroke-linejoin="round"/>
<text transform="translate(799.6 889.7) scale(0.94 1)" font-size="20.3" text-anchor="end" stroke="#111" stroke-width="0.35">Pathways in cancer</text>
<rect x="819.3" y="899.4" width="144.2" height="13.6" fill="#f68d65"/>
<path d="M802.6 906.2 L807.6 906.2" fill="none" stroke="#000" stroke-width="2.8" stroke-linejoin="round"/>
<text transform="translate(799.6 913.5) scale(0.94 1)" font-size="20.3" text-anchor="end" stroke="#111" stroke-width="0.35">Toxoplasmosis</text>
<rect x="819.3" y="923.2" width="138.8" height="13.6" fill="#f68d65"/>
<path d="M802.6 930 L807.6 930" fill="none" stroke="#000" stroke-width="2.8" stroke-linejoin="round"/>
<text transform="translate(799.6 937.3) scale(0.94 1)" font-size="20.3" text-anchor="end" stroke="#111" stroke-width="0.35">Leishmaniasis</text>
<rect x="819.3" y="947" width="135.1" height="13.6" fill="#f68d65"/>
<path d="M802.6 953.8 L807.6 953.8" fill="none" stroke="#000" stroke-width="2.8" stroke-linejoin="round"/>
<text transform="translate(799.6 961.1) scale(0.94 1)" font-size="20.3" text-anchor="end" stroke="#111" stroke-width="0.35">MAPK signaling pathway</text>
<rect x="819.3" y="970.8" width="128.9" height="13.6" fill="#f68d65"/>
<path d="M802.6 977.6 L807.6 977.6" fill="none" stroke="#000" stroke-width="2.8" stroke-linejoin="round"/>
<text transform="translate(799.6 984.9) scale(0.94 1)" font-size="20.3" text-anchor="end" stroke="#111" stroke-width="0.35">Axon guidance</text>
<rect x="819.3" y="994.6" width="114.1" height="13.6" fill="#f68d65"/>
<path d="M802.6 1001.4 L807.6 1001.4" fill="none" stroke="#000" stroke-width="2.8" stroke-linejoin="round"/>
<text transform="translate(799.6 1008.7) scale(0.94 1)" font-size="20.3" text-anchor="end" stroke="#111" stroke-width="0.35">Chronic myeloid leukemia</text>
<rect x="819.3" y="1018.4" width="111.1" height="13.6" fill="#f68d65"/>
<path d="M802.6 1025.2 L807.6 1025.2" fill="none" stroke="#000" stroke-width="2.8" stroke-linejoin="round"/>
<text transform="translate(799.6 1032.5) scale(0.94 1)" font-size="20.3" text-anchor="end" stroke="#111" stroke-width="0.35">ECM−receptor interaction</text>
<rect x="819.3" y="1042.2" width="111.1" height="13.6" fill="#f68d65"/>
<path d="M802.6 1049 L807.6 1049" fill="none" stroke="#000" stroke-width="2.8" stroke-linejoin="round"/>
<text transform="translate(799.6 1056.3) scale(0.94 1)" font-size="20.3" text-anchor="end" stroke="#111" stroke-width="0.35">TGF−beta signaling pathway</text>
<rect x="819.3" y="1066" width="108.2" height="13.6" fill="#f68d65"/>
<path d="M802.6 1072.8 L807.6 1072.8" fill="none" stroke="#000" stroke-width="2.8" stroke-linejoin="round"/>
<text transform="translate(799.6 1080.1) scale(0.94 1)" font-size="20.3" text-anchor="end" stroke="#111" stroke-width="0.35">Endocytosis</text>
<path d="M807.6 844.4 L807.6 1086 L1035.3 1086" fill="none" stroke="#000" stroke-width="2.4" stroke-linejoin="round"/>
<path d="M818.3 1086 L818.3 1091.6" fill="none" stroke="#000" stroke-width="2.8" stroke-linejoin="round"/>
<text transform="translate(818.3 1111.2) scale(0.84 1)" font-size="19" text-anchor="middle" stroke="#111" stroke-width="0.35">0</text>
<path d="M867.7 1086 L867.7 1091.6" fill="none" stroke="#000" stroke-width="2.8" stroke-linejoin="round"/>
<text transform="translate(867.7 1111.2) scale(0.84 1)" font-size="19" text-anchor="middle" stroke="#111" stroke-width="0.35">1</text>
<path d="M917.1 1086 L917.1 1091.6" fill="none" stroke="#000" stroke-width="2.8" stroke-linejoin="round"/>
<text transform="translate(917.1 1111.2) scale(0.84 1)" font-size="19" text-anchor="middle" stroke="#111" stroke-width="0.35">2</text>
<path d="M966.5 1086 L966.5 1091.6" fill="none" stroke="#000" stroke-width="2.8" stroke-linejoin="round"/>
<text transform="translate(966.5 1111.2) scale(0.84 1)" font-size="19" text-anchor="middle" stroke="#111" stroke-width="0.35">3</text>
<path d="M1015.9 1086 L1015.9 1091.6" fill="none" stroke="#000" stroke-width="2.8" stroke-linejoin="round"/>
<text transform="translate(1015.9 1111.2) scale(0.84 1)" font-size="19" text-anchor="middle" stroke="#111" stroke-width="0.35">4</text>
<text x="934.8" y="1137.3" font-size="20.6" text-anchor="middle" stroke="#111" stroke-width="0.35" textLength="118.7" lengthAdjust="spacingAndGlyphs">−log<tspan font-size="11.5" dy="6.2">10</tspan><tspan dy="-6.2">(pvalue)</tspan></text>
<rect x="962" y="1029" width="13.2" height="5.6" fill="#f68d65"/>
<text x="980" y="1037.3" font-size="20.4" stroke="#111" stroke-width="0.35" textLength="88" lengthAdjust="spacingAndGlyphs">Hyper-m<tspan font-size="13.1" dy="-6.9">6</tspan><tspan dy="6.9">A</tspan></text>
<rect x="821" y="1157.2" width="226.7" height="13.6" fill="#66c2a5"/>
<path d="M802.6 1164 L807.6 1164" fill="none" stroke="#000" stroke-width="2.8" stroke-linejoin="round"/>
<text transform="translate(799.6 1171.3) scale(0.94 1)" font-size="20.3" text-anchor="end" stroke="#111" stroke-width="0.35">Pathways in cancer</text>
<rect x="821" y="1181" width="149.1" height="13.6" fill="#66c2a5"/>
<path d="M802.6 1187.8 L807.6 1187.8" fill="none" stroke="#000" stroke-width="2.8" stroke-linejoin="round"/>
<text transform="translate(799.6 1195.1) scale(0.94 1)" font-size="20.3" text-anchor="end" stroke="#111" stroke-width="0.35">Focal adhesion</text>
<rect x="821" y="1204.8" width="110.3" height="13.6" fill="#66c2a5"/>
<path d="M802.6 1211.6 L807.6 1211.6" fill="none" stroke="#000" stroke-width="2.8" stroke-linejoin="round"/>
<text transform="translate(799.6 1218.9) scale(0.94 1)" font-size="20.3" text-anchor="end" stroke="#111" stroke-width="0.35">Chronic myeloid leukemia</text>
<rect x="821" y="1228.5" width="84.6" height="13.6" fill="#66c2a5"/>
<path d="M802.6 1235.3 L807.6 1235.3" fill="none" stroke="#000" stroke-width="2.8" stroke-linejoin="round"/>
<text transform="translate(799.6 1242.6) scale(0.94 1)" font-size="20.3" text-anchor="end" stroke="#111" stroke-width="0.35">Osteoclast differentiation</text>
<rect x="821" y="1252.3" width="73.7" height="13.6" fill="#66c2a5"/>
<path d="M802.6 1259.1 L807.6 1259.1" fill="none" stroke="#000" stroke-width="2.8" stroke-linejoin="round"/>
<text transform="translate(799.6 1266.4) scale(0.94 1)" font-size="20.3" text-anchor="end" stroke="#111" stroke-width="0.35">Small cell lung cancer</text>
<rect x="821" y="1276.1" width="73.3" height="13.6" fill="#66c2a5"/>
<path d="M802.6 1282.9 L807.6 1282.9" fill="none" stroke="#000" stroke-width="2.8" stroke-linejoin="round"/>
<text transform="translate(799.6 1290.2) scale(0.94 1)" font-size="20.3" text-anchor="end" stroke="#111" stroke-width="0.35">Adherens junction</text>
<rect x="821" y="1299.9" width="69" height="13.6" fill="#66c2a5"/>
<path d="M802.6 1306.7 L807.6 1306.7" fill="none" stroke="#000" stroke-width="2.8" stroke-linejoin="round"/>
<text transform="translate(799.6 1314) scale(0.94 1)" font-size="20.3" text-anchor="end" stroke="#111" stroke-width="0.35">Tight junction</text>
<rect x="821" y="1323.7" width="67.6" height="13.6" fill="#66c2a5"/>
<path d="M802.6 1330.5 L807.6 1330.5" fill="none" stroke="#000" stroke-width="2.8" stroke-linejoin="round"/>
<text transform="translate(799.6 1337.8) scale(0.94 1)" font-size="20.3" text-anchor="end" stroke="#111" stroke-width="0.35">Notch signaling pathway</text>
<rect x="821" y="1347.4" width="67.6" height="13.6" fill="#66c2a5"/>
<path d="M802.6 1354.2 L807.6 1354.2" fill="none" stroke="#000" stroke-width="2.8" stroke-linejoin="round"/>
<text transform="translate(799.6 1361.5) scale(0.94 1)" font-size="20.3" text-anchor="end" stroke="#111" stroke-width="0.35">Endocytosis</text>
<rect x="821" y="1371.2" width="63.7" height="13.6" fill="#66c2a5"/>
<path d="M802.6 1378 L807.6 1378" fill="none" stroke="#000" stroke-width="2.8" stroke-linejoin="round"/>
<text transform="translate(799.6 1385.3) scale(0.94 1)" font-size="20.3" text-anchor="end" stroke="#111" stroke-width="0.35">ECM−receptor interaction</text>
<path d="M807.6 1149.7 L807.6 1391.3 L1060 1391.3" fill="none" stroke="#000" stroke-width="2.4" stroke-linejoin="round"/>
<path d="M820 1391.3 L820 1396.9" fill="none" stroke="#000" stroke-width="2.8" stroke-linejoin="round"/>
<text transform="translate(820 1416.5) scale(0.84 1)" font-size="19" text-anchor="middle" stroke="#111" stroke-width="0.35">0.0</text>
<path d="M881 1391.3 L881 1396.9" fill="none" stroke="#000" stroke-width="2.8" stroke-linejoin="round"/>
<text transform="translate(881 1416.5) scale(0.84 1)" font-size="19" text-anchor="middle" stroke="#111" stroke-width="0.35">2.5</text>
<path d="M942 1391.3 L942 1396.9" fill="none" stroke="#000" stroke-width="2.8" stroke-linejoin="round"/>
<text transform="translate(942 1416.5) scale(0.84 1)" font-size="19" text-anchor="middle" stroke="#111" stroke-width="0.35">5.0</text>
<path d="M1003 1391.3 L1003 1396.9" fill="none" stroke="#000" stroke-width="2.8" stroke-linejoin="round"/>
<text transform="translate(1003 1416.5) scale(0.84 1)" font-size="19" text-anchor="middle" stroke="#111" stroke-width="0.35">7.5</text>
<text x="934.8" y="1440.3" font-size="20.6" text-anchor="middle" stroke="#111" stroke-width="0.35" textLength="118.7" lengthAdjust="spacingAndGlyphs">−log<tspan font-size="11.5" dy="6.2">10</tspan><tspan dy="-6.2">(pvalue)</tspan></text>
<rect x="965" y="1332" width="13.6" height="5.4" fill="#66c2a5"/>
<text x="985" y="1339.8" font-size="20.4" stroke="#111" stroke-width="0.35" textLength="83" lengthAdjust="spacingAndGlyphs">Hypo-m<tspan font-size="13.1" dy="-6.9">6</tspan><tspan dy="6.9">A</tspan></text>
</svg>
</body>
</html>
